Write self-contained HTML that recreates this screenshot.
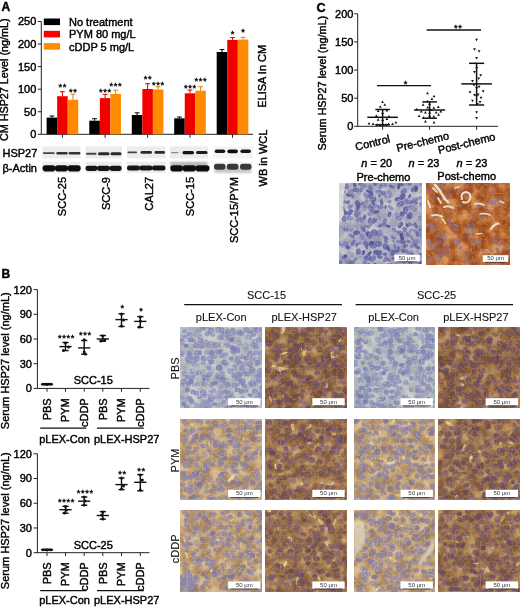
<!DOCTYPE html>
<html><head><meta charset="utf-8"><title>HSP27 figure</title>
<style>
html,body{margin:0;padding:0;background:#fff;}
body{width:520px;height:607px;overflow:hidden;}
svg{display:block;font-family:'Liberation Sans', Arial, sans-serif;}
text{stroke:#000;stroke-width:0.42px;fill:#000;}
text.l{stroke-width:0.1px;fill:#111;stroke:#111;}
text.n{stroke:none;fill:#333;}
text.st{stroke-width:0.35px;}
</style></head><body>
<svg width="520" height="607" viewBox="0 0 520 607" fill="#111">
<defs><filter id="bb" x="-20%" y="-50%" width="140%" height="200%"><feGaussianBlur stdDeviation="0.55"/></filter><filter id="bb2" x="-20%" y="-50%" width="140%" height="200%"><feGaussianBlur stdDeviation="0.9"/></filter><filter id="soft" x="-5%" y="-5%" width="110%" height="110%"><feGaussianBlur stdDeviation="0.6"/></filter><filter id="soft2" x="-5%" y="-5%" width="110%" height="110%"><feGaussianBlur stdDeviation="0.85"/></filter><filter id="bg1" filterUnits="userSpaceOnUse" x="180" y="327" width="82" height="81" color-interpolation-filters="sRGB"><feTurbulence type="fractalNoise" baseFrequency="0.09" numOctaves="3" seed="1"/><feColorMatrix type="matrix" values="1 0 0 0 0 1 0 0 0 0 1 0 0 0 0 0 0 0 0 1"/><feComponentTransfer><feFuncR type="table" tableValues="0.604 0.608 0.612 0.616 0.620 0.624 0.627 0.631 0.635 0.639 0.643 0.647 0.651 0.658 0.664 0.671 0.677 0.684 0.694 0.704 0.714 0.724 0.733 0.743 0.754 0.764 0.775 0.786 0.794 0.798 0.803 0.807 0.812 0.816 0.820 0.825 0.829 0.834 0.838 0.843 0.847"/><feFuncG type="table" tableValues="0.620 0.624 0.627 0.631 0.635 0.639 0.643 0.647 0.651 0.655 0.659 0.663 0.667 0.673 0.680 0.686 0.693 0.700 0.710 0.720 0.729 0.739 0.749 0.759 0.769 0.780 0.791 0.801 0.810 0.814 0.818 0.823 0.827 0.832 0.836 0.841 0.845 0.849 0.854 0.858 0.863"/><feFuncB type="table" tableValues="0.675 0.677 0.680 0.682 0.685 0.688 0.690 0.693 0.695 0.698 0.701 0.703 0.706 0.709 0.712 0.716 0.719 0.723 0.727 0.732 0.737 0.742 0.747 0.752 0.759 0.766 0.773 0.780 0.786 0.790 0.793 0.797 0.801 0.805 0.809 0.812 0.816 0.820 0.824 0.828 0.831"/></feComponentTransfer></filter><clipPath id="cp1"><rect x="180.0" y="327.0" width="82.0" height="81.0"/></clipPath><filter id="mem1" filterUnits="userSpaceOnUse" x="180" y="327" width="82" height="81" color-interpolation-filters="sRGB"><feTurbulence type="turbulence" baseFrequency="0.16" numOctaves="2" seed="51"/><feColorMatrix type="matrix" values="0 0 0 0 0.831 0 0 0 0 0.847 0 0 0 0 0.816 -3.0 0 0 0 0.55"/></filter><filter id="bg2" filterUnits="userSpaceOnUse" x="265.8" y="327" width="80.39999999999998" height="81" color-interpolation-filters="sRGB"><feTurbulence type="fractalNoise" baseFrequency="0.09" numOctaves="3" seed="2"/><feColorMatrix type="matrix" values="1 0 0 0 0 1 0 0 0 0 1 0 0 0 0 0 0 0 0 1"/><feComponentTransfer><feFuncR type="table" tableValues="0.408 0.413 0.418 0.424 0.429 0.434 0.439 0.444 0.450 0.455 0.460 0.465 0.471 0.482 0.493 0.505 0.516 0.528 0.543 0.558 0.573 0.587 0.602 0.617 0.635 0.655 0.675 0.694 0.709 0.718 0.727 0.736 0.745 0.754 0.763 0.771 0.780 0.789 0.798 0.807 0.816"/><feFuncG type="table" tableValues="0.275 0.278 0.282 0.286 0.290 0.294 0.298 0.302 0.306 0.310 0.314 0.318 0.322 0.331 0.341 0.351 0.361 0.371 0.383 0.396 0.408 0.423 0.437 0.452 0.472 0.493 0.515 0.536 0.554 0.567 0.579 0.592 0.605 0.617 0.630 0.643 0.655 0.668 0.681 0.693 0.706"/><feFuncB type="table" tableValues="0.204 0.205 0.207 0.208 0.209 0.210 0.212 0.213 0.214 0.216 0.217 0.218 0.220 0.225 0.229 0.234 0.239 0.245 0.252 0.259 0.267 0.276 0.286 0.296 0.312 0.330 0.348 0.366 0.382 0.394 0.407 0.419 0.432 0.445 0.457 0.470 0.483 0.495 0.508 0.521 0.533"/></feComponentTransfer></filter><clipPath id="cp2"><rect x="265.8" y="327.0" width="80.4" height="81.0"/></clipPath><filter id="mem2" filterUnits="userSpaceOnUse" x="265.8" y="327" width="80.39999999999998" height="81" color-interpolation-filters="sRGB"><feTurbulence type="turbulence" baseFrequency="0.16" numOctaves="2" seed="52"/><feColorMatrix type="matrix" values="0 0 0 0 0.784 0 0 0 0 0.565 0 0 0 0 0.314 -3.0 0 0 0 0.6"/></filter><filter id="bg3" filterUnits="userSpaceOnUse" x="354" y="327" width="80.39999999999998" height="81" color-interpolation-filters="sRGB"><feTurbulence type="fractalNoise" baseFrequency="0.09" numOctaves="3" seed="3"/><feColorMatrix type="matrix" values="1 0 0 0 0 1 0 0 0 0 1 0 0 0 0 0 0 0 0 1"/><feComponentTransfer><feFuncR type="table" tableValues="0.604 0.608 0.612 0.616 0.620 0.624 0.627 0.631 0.635 0.639 0.643 0.647 0.651 0.658 0.664 0.671 0.677 0.684 0.694 0.704 0.714 0.724 0.733 0.743 0.754 0.764 0.775 0.786 0.794 0.798 0.803 0.807 0.812 0.816 0.820 0.825 0.829 0.834 0.838 0.843 0.847"/><feFuncG type="table" tableValues="0.620 0.624 0.627 0.631 0.635 0.639 0.643 0.647 0.651 0.655 0.659 0.663 0.667 0.673 0.680 0.686 0.693 0.700 0.710 0.720 0.729 0.739 0.749 0.759 0.769 0.780 0.791 0.801 0.810 0.814 0.818 0.823 0.827 0.832 0.836 0.841 0.845 0.849 0.854 0.858 0.863"/><feFuncB type="table" tableValues="0.675 0.677 0.680 0.682 0.685 0.688 0.690 0.693 0.695 0.698 0.701 0.703 0.706 0.709 0.712 0.716 0.719 0.723 0.727 0.732 0.737 0.742 0.747 0.752 0.759 0.766 0.773 0.780 0.786 0.790 0.793 0.797 0.801 0.805 0.809 0.812 0.816 0.820 0.824 0.828 0.831"/></feComponentTransfer></filter><clipPath id="cp3"><rect x="354.0" y="327.0" width="80.4" height="81.0"/></clipPath><filter id="mem3" filterUnits="userSpaceOnUse" x="354" y="327" width="80.39999999999998" height="81" color-interpolation-filters="sRGB"><feTurbulence type="turbulence" baseFrequency="0.16" numOctaves="2" seed="53"/><feColorMatrix type="matrix" values="0 0 0 0 0.831 0 0 0 0 0.847 0 0 0 0 0.816 -3.0 0 0 0 0.55"/></filter><filter id="bg4" filterUnits="userSpaceOnUse" x="438.3" y="327" width="81.19999999999999" height="81" color-interpolation-filters="sRGB"><feTurbulence type="fractalNoise" baseFrequency="0.09" numOctaves="3" seed="4"/><feColorMatrix type="matrix" values="1 0 0 0 0 1 0 0 0 0 1 0 0 0 0 0 0 0 0 1"/><feComponentTransfer><feFuncR type="table" tableValues="0.408 0.413 0.418 0.424 0.429 0.434 0.439 0.444 0.450 0.455 0.460 0.465 0.471 0.482 0.493 0.505 0.516 0.528 0.543 0.558 0.573 0.587 0.602 0.617 0.635 0.655 0.675 0.694 0.709 0.718 0.727 0.736 0.745 0.754 0.763 0.771 0.780 0.789 0.798 0.807 0.816"/><feFuncG type="table" tableValues="0.275 0.278 0.282 0.286 0.290 0.294 0.298 0.302 0.306 0.310 0.314 0.318 0.322 0.331 0.341 0.351 0.361 0.371 0.383 0.396 0.408 0.423 0.437 0.452 0.472 0.493 0.515 0.536 0.554 0.567 0.579 0.592 0.605 0.617 0.630 0.643 0.655 0.668 0.681 0.693 0.706"/><feFuncB type="table" tableValues="0.204 0.205 0.207 0.208 0.209 0.210 0.212 0.213 0.214 0.216 0.217 0.218 0.220 0.225 0.229 0.234 0.239 0.245 0.252 0.259 0.267 0.276 0.286 0.296 0.312 0.330 0.348 0.366 0.382 0.394 0.407 0.419 0.432 0.445 0.457 0.470 0.483 0.495 0.508 0.521 0.533"/></feComponentTransfer></filter><clipPath id="cp4"><rect x="438.3" y="327.0" width="81.2" height="81.0"/></clipPath><filter id="mem4" filterUnits="userSpaceOnUse" x="438.3" y="327" width="81.19999999999999" height="81" color-interpolation-filters="sRGB"><feTurbulence type="turbulence" baseFrequency="0.16" numOctaves="2" seed="54"/><feColorMatrix type="matrix" values="0 0 0 0 0.784 0 0 0 0 0.565 0 0 0 0 0.314 -3.0 0 0 0 0.6"/></filter><filter id="bg5" filterUnits="userSpaceOnUse" x="180" y="419.2" width="82" height="80.40000000000003" color-interpolation-filters="sRGB"><feTurbulence type="fractalNoise" baseFrequency="0.09" numOctaves="3" seed="5"/><feColorMatrix type="matrix" values="1 0 0 0 0 1 0 0 0 0 1 0 0 0 0 0 0 0 0 1"/><feComponentTransfer><feFuncR type="table" tableValues="0.612 0.616 0.620 0.624 0.627 0.631 0.635 0.639 0.643 0.647 0.651 0.655 0.659 0.669 0.678 0.688 0.698 0.708 0.721 0.733 0.745 0.757 0.770 0.782 0.793 0.804 0.814 0.825 0.833 0.838 0.844 0.849 0.854 0.859 0.864 0.869 0.874 0.879 0.884 0.889 0.894"/><feFuncG type="table" tableValues="0.478 0.482 0.486 0.490 0.494 0.498 0.502 0.506 0.510 0.514 0.518 0.522 0.525 0.535 0.545 0.555 0.565 0.575 0.587 0.600 0.612 0.626 0.641 0.656 0.670 0.684 0.699 0.713 0.725 0.732 0.740 0.747 0.755 0.763 0.770 0.778 0.785 0.793 0.801 0.808 0.816"/><feFuncB type="table" tableValues="0.353 0.356 0.358 0.361 0.363 0.366 0.369 0.371 0.374 0.376 0.379 0.382 0.384 0.391 0.397 0.404 0.410 0.418 0.427 0.437 0.447 0.457 0.467 0.476 0.490 0.504 0.518 0.533 0.545 0.555 0.565 0.576 0.586 0.596 0.606 0.616 0.626 0.636 0.646 0.657 0.667"/></feComponentTransfer></filter><clipPath id="cp5"><rect x="180.0" y="419.2" width="82.0" height="80.4"/></clipPath><filter id="mem5" filterUnits="userSpaceOnUse" x="180" y="419.2" width="82" height="80.40000000000003" color-interpolation-filters="sRGB"><feTurbulence type="turbulence" baseFrequency="0.16" numOctaves="2" seed="55"/><feColorMatrix type="matrix" values="0 0 0 0 0.878 0 0 0 0 0.753 0 0 0 0 0.533 -3.0 0 0 0 0.6"/></filter><filter id="bg6" filterUnits="userSpaceOnUse" x="265.8" y="419.2" width="80.39999999999998" height="80.40000000000003" color-interpolation-filters="sRGB"><feTurbulence type="fractalNoise" baseFrequency="0.09" numOctaves="3" seed="6"/><feColorMatrix type="matrix" values="1 0 0 0 0 1 0 0 0 0 1 0 0 0 0 0 0 0 0 1"/><feComponentTransfer><feFuncR type="table" tableValues="0.447 0.452 0.458 0.463 0.468 0.473 0.478 0.484 0.489 0.494 0.499 0.505 0.510 0.521 0.533 0.544 0.556 0.568 0.582 0.597 0.612 0.626 0.641 0.656 0.673 0.691 0.709 0.727 0.741 0.750 0.759 0.767 0.776 0.785 0.794 0.803 0.812 0.820 0.829 0.838 0.847"/><feFuncG type="table" tableValues="0.314 0.318 0.322 0.325 0.329 0.333 0.337 0.341 0.345 0.349 0.353 0.357 0.361 0.371 0.380 0.390 0.400 0.411 0.425 0.440 0.455 0.470 0.484 0.499 0.519 0.540 0.562 0.583 0.601 0.612 0.623 0.635 0.646 0.658 0.669 0.680 0.692 0.703 0.714 0.726 0.737"/><feFuncB type="table" tableValues="0.235 0.237 0.238 0.239 0.241 0.242 0.243 0.244 0.246 0.247 0.248 0.250 0.251 0.256 0.261 0.266 0.271 0.276 0.283 0.291 0.298 0.308 0.318 0.327 0.342 0.358 0.374 0.390 0.405 0.417 0.429 0.441 0.453 0.465 0.477 0.489 0.501 0.513 0.525 0.537 0.549"/></feComponentTransfer></filter><clipPath id="cp6"><rect x="265.8" y="419.2" width="80.4" height="80.4"/></clipPath><filter id="mem6" filterUnits="userSpaceOnUse" x="265.8" y="419.2" width="80.39999999999998" height="80.40000000000003" color-interpolation-filters="sRGB"><feTurbulence type="turbulence" baseFrequency="0.16" numOctaves="2" seed="56"/><feColorMatrix type="matrix" values="0 0 0 0 0.784 0 0 0 0 0.565 0 0 0 0 0.314 -3.0 0 0 0 0.6"/></filter><filter id="bg7" filterUnits="userSpaceOnUse" x="354" y="419.2" width="80.39999999999998" height="80.40000000000003" color-interpolation-filters="sRGB"><feTurbulence type="fractalNoise" baseFrequency="0.09" numOctaves="3" seed="7"/><feColorMatrix type="matrix" values="1 0 0 0 0 1 0 0 0 0 1 0 0 0 0 0 0 0 0 1"/><feComponentTransfer><feFuncR type="table" tableValues="0.612 0.616 0.620 0.624 0.627 0.631 0.635 0.639 0.643 0.647 0.651 0.655 0.659 0.669 0.678 0.688 0.698 0.708 0.721 0.733 0.745 0.757 0.770 0.782 0.793 0.804 0.814 0.825 0.833 0.838 0.844 0.849 0.854 0.859 0.864 0.869 0.874 0.879 0.884 0.889 0.894"/><feFuncG type="table" tableValues="0.478 0.482 0.486 0.490 0.494 0.498 0.502 0.506 0.510 0.514 0.518 0.522 0.525 0.535 0.545 0.555 0.565 0.575 0.587 0.600 0.612 0.626 0.641 0.656 0.670 0.684 0.699 0.713 0.725 0.732 0.740 0.747 0.755 0.763 0.770 0.778 0.785 0.793 0.801 0.808 0.816"/><feFuncB type="table" tableValues="0.353 0.356 0.358 0.361 0.363 0.366 0.369 0.371 0.374 0.376 0.379 0.382 0.384 0.391 0.397 0.404 0.410 0.418 0.427 0.437 0.447 0.457 0.467 0.476 0.490 0.504 0.518 0.533 0.545 0.555 0.565 0.576 0.586 0.596 0.606 0.616 0.626 0.636 0.646 0.657 0.667"/></feComponentTransfer></filter><clipPath id="cp7"><rect x="354.0" y="419.2" width="80.4" height="80.4"/></clipPath><filter id="mem7" filterUnits="userSpaceOnUse" x="354" y="419.2" width="80.39999999999998" height="80.40000000000003" color-interpolation-filters="sRGB"><feTurbulence type="turbulence" baseFrequency="0.16" numOctaves="2" seed="57"/><feColorMatrix type="matrix" values="0 0 0 0 0.878 0 0 0 0 0.753 0 0 0 0 0.533 -3.0 0 0 0 0.6"/></filter><filter id="bg8" filterUnits="userSpaceOnUse" x="438.3" y="419.2" width="81.19999999999999" height="80.40000000000003" color-interpolation-filters="sRGB"><feTurbulence type="fractalNoise" baseFrequency="0.09" numOctaves="3" seed="8"/><feColorMatrix type="matrix" values="1 0 0 0 0 1 0 0 0 0 1 0 0 0 0 0 0 0 0 1"/><feComponentTransfer><feFuncR type="table" tableValues="0.447 0.452 0.458 0.463 0.468 0.473 0.478 0.484 0.489 0.494 0.499 0.505 0.510 0.521 0.533 0.544 0.556 0.568 0.582 0.597 0.612 0.626 0.641 0.656 0.673 0.691 0.709 0.727 0.741 0.750 0.759 0.767 0.776 0.785 0.794 0.803 0.812 0.820 0.829 0.838 0.847"/><feFuncG type="table" tableValues="0.314 0.318 0.322 0.325 0.329 0.333 0.337 0.341 0.345 0.349 0.353 0.357 0.361 0.371 0.380 0.390 0.400 0.411 0.425 0.440 0.455 0.470 0.484 0.499 0.519 0.540 0.562 0.583 0.601 0.612 0.623 0.635 0.646 0.658 0.669 0.680 0.692 0.703 0.714 0.726 0.737"/><feFuncB type="table" tableValues="0.235 0.237 0.238 0.239 0.241 0.242 0.243 0.244 0.246 0.247 0.248 0.250 0.251 0.256 0.261 0.266 0.271 0.276 0.283 0.291 0.298 0.308 0.318 0.327 0.342 0.358 0.374 0.390 0.405 0.417 0.429 0.441 0.453 0.465 0.477 0.489 0.501 0.513 0.525 0.537 0.549"/></feComponentTransfer></filter><clipPath id="cp8"><rect x="438.3" y="419.2" width="81.2" height="80.4"/></clipPath><filter id="mem8" filterUnits="userSpaceOnUse" x="438.3" y="419.2" width="81.19999999999999" height="80.40000000000003" color-interpolation-filters="sRGB"><feTurbulence type="turbulence" baseFrequency="0.16" numOctaves="2" seed="58"/><feColorMatrix type="matrix" values="0 0 0 0 0.784 0 0 0 0 0.565 0 0 0 0 0.314 -3.0 0 0 0 0.6"/></filter><filter id="bg9" filterUnits="userSpaceOnUse" x="180" y="510.2" width="82" height="81.00000000000006" color-interpolation-filters="sRGB"><feTurbulence type="fractalNoise" baseFrequency="0.09" numOctaves="3" seed="9"/><feColorMatrix type="matrix" values="1 0 0 0 0 1 0 0 0 0 1 0 0 0 0 0 0 0 0 1"/><feComponentTransfer><feFuncR type="table" tableValues="0.612 0.616 0.620 0.624 0.627 0.631 0.635 0.639 0.643 0.647 0.651 0.655 0.659 0.669 0.678 0.688 0.698 0.708 0.721 0.733 0.745 0.757 0.770 0.782 0.793 0.804 0.814 0.825 0.833 0.838 0.844 0.849 0.854 0.859 0.864 0.869 0.874 0.879 0.884 0.889 0.894"/><feFuncG type="table" tableValues="0.478 0.482 0.486 0.490 0.494 0.498 0.502 0.506 0.510 0.514 0.518 0.522 0.525 0.535 0.545 0.555 0.565 0.575 0.587 0.600 0.612 0.626 0.641 0.656 0.670 0.684 0.699 0.713 0.725 0.732 0.740 0.747 0.755 0.763 0.770 0.778 0.785 0.793 0.801 0.808 0.816"/><feFuncB type="table" tableValues="0.353 0.356 0.358 0.361 0.363 0.366 0.369 0.371 0.374 0.376 0.379 0.382 0.384 0.391 0.397 0.404 0.410 0.418 0.427 0.437 0.447 0.457 0.467 0.476 0.490 0.504 0.518 0.533 0.545 0.555 0.565 0.576 0.586 0.596 0.606 0.616 0.626 0.636 0.646 0.657 0.667"/></feComponentTransfer></filter><clipPath id="cp9"><rect x="180.0" y="510.2" width="82.0" height="81.0"/></clipPath><filter id="mem9" filterUnits="userSpaceOnUse" x="180" y="510.2" width="82" height="81.00000000000006" color-interpolation-filters="sRGB"><feTurbulence type="turbulence" baseFrequency="0.16" numOctaves="2" seed="59"/><feColorMatrix type="matrix" values="0 0 0 0 0.878 0 0 0 0 0.753 0 0 0 0 0.533 -3.0 0 0 0 0.6"/></filter><filter id="bg10" filterUnits="userSpaceOnUse" x="265.8" y="510.2" width="80.39999999999998" height="81.00000000000006" color-interpolation-filters="sRGB"><feTurbulence type="fractalNoise" baseFrequency="0.09" numOctaves="3" seed="10"/><feColorMatrix type="matrix" values="1 0 0 0 0 1 0 0 0 0 1 0 0 0 0 0 0 0 0 1"/><feComponentTransfer><feFuncR type="table" tableValues="0.447 0.452 0.458 0.463 0.468 0.473 0.478 0.484 0.489 0.494 0.499 0.505 0.510 0.521 0.533 0.544 0.556 0.568 0.582 0.597 0.612 0.626 0.641 0.656 0.673 0.691 0.709 0.727 0.741 0.750 0.759 0.767 0.776 0.785 0.794 0.803 0.812 0.820 0.829 0.838 0.847"/><feFuncG type="table" tableValues="0.314 0.318 0.322 0.325 0.329 0.333 0.337 0.341 0.345 0.349 0.353 0.357 0.361 0.371 0.380 0.390 0.400 0.411 0.425 0.440 0.455 0.470 0.484 0.499 0.519 0.540 0.562 0.583 0.601 0.612 0.623 0.635 0.646 0.658 0.669 0.680 0.692 0.703 0.714 0.726 0.737"/><feFuncB type="table" tableValues="0.235 0.237 0.238 0.239 0.241 0.242 0.243 0.244 0.246 0.247 0.248 0.250 0.251 0.256 0.261 0.266 0.271 0.276 0.283 0.291 0.298 0.308 0.318 0.327 0.342 0.358 0.374 0.390 0.405 0.417 0.429 0.441 0.453 0.465 0.477 0.489 0.501 0.513 0.525 0.537 0.549"/></feComponentTransfer></filter><clipPath id="cp10"><rect x="265.8" y="510.2" width="80.4" height="81.0"/></clipPath><filter id="mem10" filterUnits="userSpaceOnUse" x="265.8" y="510.2" width="80.39999999999998" height="81.00000000000006" color-interpolation-filters="sRGB"><feTurbulence type="turbulence" baseFrequency="0.16" numOctaves="2" seed="60"/><feColorMatrix type="matrix" values="0 0 0 0 0.784 0 0 0 0 0.565 0 0 0 0 0.314 -3.0 0 0 0 0.6"/></filter><filter id="bg11" filterUnits="userSpaceOnUse" x="354" y="510.2" width="80.39999999999998" height="81.00000000000006" color-interpolation-filters="sRGB"><feTurbulence type="fractalNoise" baseFrequency="0.09" numOctaves="3" seed="11"/><feColorMatrix type="matrix" values="1 0 0 0 0 1 0 0 0 0 1 0 0 0 0 0 0 0 0 1"/><feComponentTransfer><feFuncR type="table" tableValues="0.612 0.616 0.620 0.624 0.627 0.631 0.635 0.639 0.643 0.647 0.651 0.655 0.659 0.669 0.678 0.688 0.698 0.708 0.721 0.733 0.745 0.757 0.770 0.782 0.793 0.804 0.814 0.825 0.833 0.838 0.844 0.849 0.854 0.859 0.864 0.869 0.874 0.879 0.884 0.889 0.894"/><feFuncG type="table" tableValues="0.478 0.482 0.486 0.490 0.494 0.498 0.502 0.506 0.510 0.514 0.518 0.522 0.525 0.535 0.545 0.555 0.565 0.575 0.587 0.600 0.612 0.626 0.641 0.656 0.670 0.684 0.699 0.713 0.725 0.732 0.740 0.747 0.755 0.763 0.770 0.778 0.785 0.793 0.801 0.808 0.816"/><feFuncB type="table" tableValues="0.353 0.356 0.358 0.361 0.363 0.366 0.369 0.371 0.374 0.376 0.379 0.382 0.384 0.391 0.397 0.404 0.410 0.418 0.427 0.437 0.447 0.457 0.467 0.476 0.490 0.504 0.518 0.533 0.545 0.555 0.565 0.576 0.586 0.596 0.606 0.616 0.626 0.636 0.646 0.657 0.667"/></feComponentTransfer></filter><clipPath id="cp11"><rect x="354.0" y="510.2" width="80.4" height="81.0"/></clipPath><filter id="mem11" filterUnits="userSpaceOnUse" x="354" y="510.2" width="80.39999999999998" height="81.00000000000006" color-interpolation-filters="sRGB"><feTurbulence type="turbulence" baseFrequency="0.16" numOctaves="2" seed="61"/><feColorMatrix type="matrix" values="0 0 0 0 0.878 0 0 0 0 0.753 0 0 0 0 0.533 -3.0 0 0 0 0.6"/></filter><filter id="bg12" filterUnits="userSpaceOnUse" x="438.3" y="510.2" width="81.19999999999999" height="81.00000000000006" color-interpolation-filters="sRGB"><feTurbulence type="fractalNoise" baseFrequency="0.09" numOctaves="3" seed="12"/><feColorMatrix type="matrix" values="1 0 0 0 0 1 0 0 0 0 1 0 0 0 0 0 0 0 0 1"/><feComponentTransfer><feFuncR type="table" tableValues="0.447 0.452 0.458 0.463 0.468 0.473 0.478 0.484 0.489 0.494 0.499 0.505 0.510 0.521 0.533 0.544 0.556 0.568 0.582 0.597 0.612 0.626 0.641 0.656 0.673 0.691 0.709 0.727 0.741 0.750 0.759 0.767 0.776 0.785 0.794 0.803 0.812 0.820 0.829 0.838 0.847"/><feFuncG type="table" tableValues="0.314 0.318 0.322 0.325 0.329 0.333 0.337 0.341 0.345 0.349 0.353 0.357 0.361 0.371 0.380 0.390 0.400 0.411 0.425 0.440 0.455 0.470 0.484 0.499 0.519 0.540 0.562 0.583 0.601 0.612 0.623 0.635 0.646 0.658 0.669 0.680 0.692 0.703 0.714 0.726 0.737"/><feFuncB type="table" tableValues="0.235 0.237 0.238 0.239 0.241 0.242 0.243 0.244 0.246 0.247 0.248 0.250 0.251 0.256 0.261 0.266 0.271 0.276 0.283 0.291 0.298 0.308 0.318 0.327 0.342 0.358 0.374 0.390 0.405 0.417 0.429 0.441 0.453 0.465 0.477 0.489 0.501 0.513 0.525 0.537 0.549"/></feComponentTransfer></filter><clipPath id="cp12"><rect x="438.3" y="510.2" width="81.2" height="81.0"/></clipPath><filter id="mem12" filterUnits="userSpaceOnUse" x="438.3" y="510.2" width="81.19999999999999" height="81.00000000000006" color-interpolation-filters="sRGB"><feTurbulence type="turbulence" baseFrequency="0.16" numOctaves="2" seed="62"/><feColorMatrix type="matrix" values="0 0 0 0 0.784 0 0 0 0 0.565 0 0 0 0 0.314 -3.0 0 0 0 0.6"/></filter><filter id="bg100" filterUnits="userSpaceOnUse" x="339" y="183" width="82.3" height="81" color-interpolation-filters="sRGB"><feTurbulence type="fractalNoise" baseFrequency="0.09" numOctaves="3" seed="100"/><feColorMatrix type="matrix" values="1 0 0 0 0 1 0 0 0 0 1 0 0 0 0 0 0 0 0 1"/><feComponentTransfer><feFuncR type="table" tableValues="0.557 0.561 0.565 0.569 0.573 0.576 0.580 0.584 0.588 0.592 0.596 0.600 0.604 0.612 0.620 0.628 0.637 0.645 0.655 0.665 0.675 0.684 0.694 0.704 0.717 0.732 0.746 0.760 0.771 0.777 0.784 0.790 0.796 0.803 0.809 0.815 0.822 0.828 0.834 0.841 0.847"/><feFuncG type="table" tableValues="0.557 0.561 0.565 0.569 0.573 0.576 0.580 0.584 0.588 0.592 0.596 0.600 0.604 0.612 0.620 0.628 0.637 0.645 0.655 0.665 0.675 0.684 0.694 0.704 0.717 0.732 0.746 0.760 0.771 0.778 0.785 0.792 0.799 0.806 0.813 0.820 0.827 0.834 0.841 0.848 0.855"/><feFuncB type="table" tableValues="0.659 0.662 0.665 0.669 0.672 0.675 0.678 0.682 0.685 0.688 0.692 0.695 0.698 0.705 0.711 0.718 0.724 0.730 0.735 0.740 0.745 0.750 0.755 0.760 0.765 0.770 0.776 0.781 0.786 0.791 0.796 0.802 0.807 0.812 0.817 0.822 0.827 0.832 0.837 0.842 0.847"/></feComponentTransfer></filter><clipPath id="cp100"><rect x="339.0" y="183.0" width="82.3" height="81.0"/></clipPath><filter id="mem100" filterUnits="userSpaceOnUse" x="339" y="183" width="82.3" height="81" color-interpolation-filters="sRGB"><feTurbulence type="turbulence" baseFrequency="0.16" numOctaves="2" seed="150"/><feColorMatrix type="matrix" values="0 0 0 0 0.784 0 0 0 0 0.800 0 0 0 0 0.816 -3.0 0 0 0 0.5"/></filter><filter id="bg101" filterUnits="userSpaceOnUse" x="426.8" y="183" width="83" height="81.5" color-interpolation-filters="sRGB"><feTurbulence type="fractalNoise" baseFrequency="0.09" numOctaves="3" seed="101"/><feColorMatrix type="matrix" values="1 0 0 0 0 1 0 0 0 0 1 0 0 0 0 0 0 0 0 1"/><feComponentTransfer><feFuncR type="table" tableValues="0.557 0.561 0.566 0.571 0.575 0.580 0.584 0.589 0.593 0.598 0.603 0.607 0.612 0.623 0.635 0.646 0.658 0.669 0.681 0.694 0.706 0.718 0.730 0.743 0.758 0.774 0.790 0.806 0.818 0.825 0.831 0.837 0.844 0.850 0.856 0.862 0.869 0.875 0.881 0.888 0.894"/><feFuncG type="table" tableValues="0.251 0.254 0.258 0.261 0.264 0.267 0.271 0.274 0.277 0.280 0.284 0.287 0.290 0.302 0.313 0.325 0.336 0.348 0.363 0.377 0.392 0.409 0.426 0.444 0.466 0.489 0.512 0.535 0.554 0.567 0.579 0.592 0.605 0.617 0.630 0.643 0.655 0.668 0.681 0.693 0.706"/><feFuncB type="table" tableValues="0.102 0.104 0.106 0.108 0.110 0.112 0.114 0.116 0.118 0.120 0.122 0.124 0.125 0.132 0.139 0.145 0.152 0.159 0.169 0.178 0.188 0.200 0.213 0.225 0.246 0.269 0.292 0.316 0.335 0.349 0.363 0.377 0.391 0.405 0.418 0.432 0.446 0.460 0.474 0.488 0.502"/></feComponentTransfer></filter><clipPath id="cp101"><rect x="426.8" y="183.0" width="83.0" height="81.5"/></clipPath><filter id="mem101" filterUnits="userSpaceOnUse" x="426.8" y="183" width="83" height="81.5" color-interpolation-filters="sRGB"><feTurbulence type="turbulence" baseFrequency="0.16" numOctaves="2" seed="151"/><feColorMatrix type="matrix" values="0 0 0 0 0.878 0 0 0 0 0.690 0 0 0 0 0.439 -3.0 0 0 0 0.45"/></filter></defs>
<text x="1.60" y="11.40" font-size="12" font-weight="bold">A</text><line x1="41.30" y1="21.50" x2="41.30" y2="134.80" stroke="#222" stroke-width="1"/><line x1="37.80" y1="134.30" x2="41.30" y2="134.30" stroke="#222" stroke-width="1"/><text x="36.30" y="138.20" font-size="11" text-anchor="end">0</text><line x1="37.80" y1="111.74" x2="41.30" y2="111.74" stroke="#222" stroke-width="1"/><text x="36.30" y="115.64" font-size="11" text-anchor="end">50</text><line x1="37.80" y1="89.18" x2="41.30" y2="89.18" stroke="#222" stroke-width="1"/><text x="36.30" y="93.08" font-size="11" text-anchor="end">100</text><line x1="37.80" y1="66.62" x2="41.30" y2="66.62" stroke="#222" stroke-width="1"/><text x="36.30" y="70.52" font-size="11" text-anchor="end">150</text><line x1="37.80" y1="44.06" x2="41.30" y2="44.06" stroke="#222" stroke-width="1"/><text x="36.30" y="47.96" font-size="11" text-anchor="end">200</text><line x1="37.80" y1="21.50" x2="41.30" y2="21.50" stroke="#222" stroke-width="1"/><text x="36.30" y="25.40" font-size="11" text-anchor="end">250</text><line x1="41.30" y1="134.30" x2="253.00" y2="134.30" stroke="#222" stroke-width="1"/><text transform="translate(8.30,141.00) rotate(-90)" font-size="10.75">CM HSP27 Level (ng/mL)</text><rect x="43.80" y="18.50" width="16.20" height="6.60" fill="#000"/><text x="69.00" y="26.00" font-size="11">No treatment</text><rect x="43.80" y="30.80" width="16.20" height="6.60" fill="#f00"/><text x="69.00" y="38.30" font-size="11">PYM 80 mg/L</text><rect x="43.80" y="43.10" width="16.20" height="6.60" fill="#ff8c00"/><text x="69.00" y="50.60" font-size="11">cDDP 5 mg/L</text><rect x="46.60" y="117.60" width="10.55" height="16.70" fill="#000"/><line x1="51.88" y1="116.00" x2="51.88" y2="117.60" stroke="#000" stroke-width="1"/><line x1="49.48" y1="116.00" x2="54.27" y2="116.00" stroke="#000" stroke-width="1"/><rect x="57.15" y="96.20" width="10.55" height="38.10" fill="#f20000"/><line x1="62.43" y1="91.70" x2="62.43" y2="96.20" stroke="#c00" stroke-width="1"/><line x1="60.03" y1="91.70" x2="64.83" y2="91.70" stroke="#c00" stroke-width="1"/><rect x="67.70" y="99.80" width="10.55" height="34.50" fill="#ff8a00"/><line x1="72.98" y1="94.20" x2="72.98" y2="99.80" stroke="#e08000" stroke-width="1"/><line x1="70.58" y1="94.20" x2="75.38" y2="94.20" stroke="#e08000" stroke-width="1"/><text class="st" x="62.73" y="90.05" font-size="9.4" text-anchor="middle" letter-spacing="0.6">**</text><text class="st" x="73.27" y="95.25" font-size="9.4" text-anchor="middle" letter-spacing="0.6">**</text><line x1="62.43" y1="134.30" x2="62.43" y2="137.80" stroke="#222" stroke-width="1"/><rect x="89.30" y="120.70" width="10.55" height="13.60" fill="#000"/><line x1="94.58" y1="118.70" x2="94.58" y2="120.70" stroke="#000" stroke-width="1"/><line x1="92.17" y1="118.70" x2="96.98" y2="118.70" stroke="#000" stroke-width="1"/><rect x="99.85" y="98.10" width="10.55" height="36.20" fill="#f20000"/><line x1="105.12" y1="94.40" x2="105.12" y2="98.10" stroke="#c00" stroke-width="1"/><line x1="102.72" y1="94.40" x2="107.53" y2="94.40" stroke="#c00" stroke-width="1"/><rect x="110.40" y="94.00" width="10.55" height="40.30" fill="#ff8a00"/><line x1="115.68" y1="90.20" x2="115.68" y2="94.00" stroke="#e08000" stroke-width="1"/><line x1="113.28" y1="90.20" x2="118.08" y2="90.20" stroke="#e08000" stroke-width="1"/><text class="st" x="105.42" y="94.65" font-size="9.4" text-anchor="middle" letter-spacing="0.6">***</text><text class="st" x="115.97" y="88.55" font-size="9.4" text-anchor="middle" letter-spacing="0.6">***</text><line x1="105.12" y1="134.30" x2="105.12" y2="137.80" stroke="#222" stroke-width="1"/><rect x="131.80" y="115.00" width="10.55" height="19.30" fill="#000"/><line x1="137.08" y1="112.80" x2="137.08" y2="115.00" stroke="#000" stroke-width="1"/><line x1="134.68" y1="112.80" x2="139.48" y2="112.80" stroke="#000" stroke-width="1"/><rect x="142.35" y="89.00" width="10.55" height="45.30" fill="#f20000"/><line x1="147.63" y1="83.70" x2="147.63" y2="89.00" stroke="#c00" stroke-width="1"/><line x1="145.23" y1="83.70" x2="150.03" y2="83.70" stroke="#c00" stroke-width="1"/><rect x="152.90" y="89.50" width="10.55" height="44.80" fill="#ff8a00"/><line x1="158.18" y1="86.70" x2="158.18" y2="89.50" stroke="#e08000" stroke-width="1"/><line x1="155.78" y1="86.70" x2="160.58" y2="86.70" stroke="#e08000" stroke-width="1"/><text class="st" x="147.93" y="81.85" font-size="9.4" text-anchor="middle" letter-spacing="0.6">**</text><text class="st" x="158.48" y="87.75" font-size="9.4" text-anchor="middle" letter-spacing="0.6">***</text><line x1="147.62" y1="134.30" x2="147.62" y2="137.80" stroke="#222" stroke-width="1"/><rect x="174.20" y="118.30" width="10.55" height="16.00" fill="#000"/><line x1="179.47" y1="117.00" x2="179.47" y2="118.30" stroke="#000" stroke-width="1"/><line x1="177.07" y1="117.00" x2="181.88" y2="117.00" stroke="#000" stroke-width="1"/><rect x="184.75" y="93.30" width="10.55" height="41.00" fill="#f20000"/><line x1="190.03" y1="90.00" x2="190.03" y2="93.30" stroke="#c00" stroke-width="1"/><line x1="187.62" y1="90.00" x2="192.43" y2="90.00" stroke="#c00" stroke-width="1"/><rect x="195.30" y="90.70" width="10.55" height="43.60" fill="#ff8a00"/><line x1="200.57" y1="86.70" x2="200.57" y2="90.70" stroke="#e08000" stroke-width="1"/><line x1="198.17" y1="86.70" x2="202.97" y2="86.70" stroke="#e08000" stroke-width="1"/><text class="st" x="190.32" y="90.95" font-size="9.4" text-anchor="middle" letter-spacing="0.6">***</text><text class="st" x="200.88" y="83.85" font-size="9.4" text-anchor="middle" letter-spacing="0.6">***</text><line x1="190.02" y1="134.30" x2="190.02" y2="137.80" stroke="#222" stroke-width="1"/><rect x="216.70" y="52.00" width="10.55" height="82.30" fill="#000"/><line x1="221.97" y1="49.60" x2="221.97" y2="52.00" stroke="#000" stroke-width="1"/><line x1="219.57" y1="49.60" x2="224.38" y2="49.60" stroke="#000" stroke-width="1"/><rect x="227.25" y="39.90" width="10.55" height="94.40" fill="#f20000"/><line x1="232.53" y1="37.60" x2="232.53" y2="39.90" stroke="#c00" stroke-width="1"/><line x1="230.12" y1="37.60" x2="234.93" y2="37.60" stroke="#c00" stroke-width="1"/><rect x="237.80" y="39.60" width="10.55" height="94.70" fill="#ff8a00"/><line x1="243.07" y1="37.30" x2="243.07" y2="39.60" stroke="#e08000" stroke-width="1"/><line x1="240.67" y1="37.30" x2="245.47" y2="37.30" stroke="#e08000" stroke-width="1"/><text class="st" x="232.82" y="36.85" font-size="9.4" text-anchor="middle" letter-spacing="0.6">*</text><text class="st" x="243.38" y="35.45" font-size="9.4" text-anchor="middle" letter-spacing="0.6">*</text><line x1="232.52" y1="134.30" x2="232.52" y2="137.80" stroke="#222" stroke-width="1"/><text transform="translate(266.20,76.30) rotate(-90)" font-size="11" text-anchor="middle">ELISA In CM</text><text transform="translate(266.50,158.00) rotate(-90)" font-size="11" text-anchor="middle">WB in WCL</text><text x="2.50" y="157.20" font-size="11">HSP27</text><text x="2.50" y="171.70" font-size="11">β-Actin</text><rect x="42.30" y="146.40" width="38.10" height="12.00" fill="#ececec"/><rect x="42.30" y="161.80" width="38.10" height="11.20" fill="#ececec"/><rect x="42.9" y="152.35" width="11.8" height="1.7" rx="0.8" fill="#444" filter="url(#bb)"/><rect x="56.4" y="151.95" width="11.3" height="2.5" rx="1.2" fill="#333" filter="url(#bb)"/><rect x="68.7" y="151.95" width="11.7" height="2.5" rx="1.2" fill="#333" filter="url(#bb)"/><rect x="42.6" y="165.20" width="12.9" height="6.2" rx="2.8" fill="#111" filter="url(#bb)"/><rect x="55.0" y="165.20" width="13.0" height="6.2" rx="2.8" fill="#111" filter="url(#bb)"/><rect x="67.5" y="165.20" width="13.2" height="6.2" rx="2.8" fill="#111" filter="url(#bb)"/><rect x="85.80" y="146.40" width="36.20" height="12.00" fill="#ececec"/><rect x="85.80" y="161.80" width="36.20" height="11.20" fill="#ececec"/><rect x="86.0" y="152.75" width="10.5" height="1.9" rx="0.9" fill="#444" filter="url(#bb)"/><rect x="98.0" y="152.20" width="11.5" height="3.0" rx="1.5" fill="#2a2a2a" filter="url(#bb)"/><rect x="110.5" y="152.20" width="11.0" height="3.0" rx="1.5" fill="#2a2a2a" filter="url(#bb)"/><rect x="85.5" y="165.70" width="12.0" height="5.2" rx="2.4" fill="#141414" filter="url(#bb)"/><rect x="97.0" y="165.70" width="13.0" height="5.2" rx="2.4" fill="#141414" filter="url(#bb)"/><rect x="109.5" y="165.70" width="12.2" height="5.2" rx="2.4" fill="#141414" filter="url(#bb)"/><rect x="127.00" y="146.40" width="38.60" height="12.00" fill="#ececec"/><rect x="127.00" y="161.80" width="38.60" height="11.20" fill="#ececec"/><rect x="127.5" y="151.50" width="9.5" height="1.8" rx="0.9" fill="#444" filter="url(#bb)"/><rect x="140.5" y="151.00" width="11.5" height="2.8" rx="1.4" fill="#2a2a2a" filter="url(#bb)"/><rect x="154.5" y="151.00" width="10.5" height="2.8" rx="1.4" fill="#2a2a2a" filter="url(#bb)"/><rect x="127.0" y="165.40" width="13.0" height="5.2" rx="2.4" fill="#161616" filter="url(#bb)"/><rect x="139.5" y="165.40" width="13.0" height="5.2" rx="2.4" fill="#161616" filter="url(#bb)"/><rect x="152.0" y="165.40" width="13.5" height="5.2" rx="2.4" fill="#161616" filter="url(#bb)"/><rect x="169.60" y="146.40" width="38.40" height="12.00" fill="#ececec"/><rect x="169.60" y="161.80" width="38.40" height="11.20" fill="#ececec"/><rect x="170.6" y="162" width="36.4" height="4.5" fill="#b8b8b8" filter="url(#bb2)"/><rect x="171.0" y="151.90" width="7.5" height="1.4" rx="0.7" fill="#8a8a8a" filter="url(#bb)"/><rect x="182.5" y="150.95" width="11.5" height="3.3" rx="1.6" fill="#151515" filter="url(#bb)"/><rect x="196.0" y="151.10" width="11.5" height="3.0" rx="1.5" fill="#1a1a1a" filter="url(#bb)"/><rect x="170.3" y="165.20" width="12.7" height="6.2" rx="2.8" fill="#0e0e0e" filter="url(#bb)"/><rect x="182.5" y="165.20" width="13.5" height="6.2" rx="2.8" fill="#0e0e0e" filter="url(#bb)"/><rect x="195.5" y="165.20" width="14.0" height="6.2" rx="2.8" fill="#0e0e0e" filter="url(#bb)"/><rect x="213.00" y="146.40" width="40.00" height="12.00" fill="#f4f4f4"/><rect x="213.00" y="161.80" width="40.00" height="11.20" fill="#f4f4f4"/><rect x="215.0" y="168" width="36.0" height="5" fill="#c8c8c8" filter="url(#bb2)"/><rect x="214.7" y="149.50" width="10.5" height="3.6" rx="1.8" fill="#151515" filter="url(#bb)"/><rect x="227.4" y="149.40" width="10.5" height="3.8" rx="1.9" fill="#111" filter="url(#bb)"/><rect x="240.4" y="149.50" width="10.6" height="3.6" rx="1.8" fill="#151515" filter="url(#bb)"/><rect x="214.0" y="163.80" width="11.5" height="6.0" rx="2.7" fill="#383838" filter="url(#bb)"/><rect x="226.8" y="163.80" width="11.7" height="6.0" rx="2.7" fill="#383838" filter="url(#bb)"/><rect x="240.0" y="163.80" width="11.5" height="6.0" rx="2.7" fill="#383838" filter="url(#bb)"/><text transform="translate(65.90,177.00) rotate(-90)" font-size="11" text-anchor="end">SCC-25</text><text transform="translate(109.60,177.00) rotate(-90)" font-size="11" text-anchor="end">SCC-9</text><text transform="translate(153.40,177.00) rotate(-90)" font-size="11" text-anchor="end">CAL27</text><text transform="translate(193.90,177.00) rotate(-90)" font-size="11" text-anchor="end">SCC-15</text><text transform="translate(237.80,177.00) rotate(-90)" font-size="11" text-anchor="end">SCC-15/PYM</text><text x="316.50" y="11.90" font-size="12.6" font-weight="bold">C</text><line x1="357.70" y1="13.80" x2="357.70" y2="126.80" stroke="#222" stroke-width="1"/><line x1="354.20" y1="126.30" x2="357.70" y2="126.30" stroke="#222" stroke-width="1"/><text x="353.40" y="130.20" font-size="11" text-anchor="end">0</text><line x1="354.20" y1="98.17" x2="357.70" y2="98.17" stroke="#222" stroke-width="1"/><text x="353.40" y="102.08" font-size="11" text-anchor="end">50</text><line x1="354.20" y1="70.05" x2="357.70" y2="70.05" stroke="#222" stroke-width="1"/><text x="353.40" y="73.95" font-size="11" text-anchor="end">100</text><line x1="354.20" y1="41.92" x2="357.70" y2="41.92" stroke="#222" stroke-width="1"/><text x="353.40" y="45.82" font-size="11" text-anchor="end">150</text><line x1="354.20" y1="13.80" x2="357.70" y2="13.80" stroke="#222" stroke-width="1"/><text x="353.40" y="17.70" font-size="11" text-anchor="end">200</text><line x1="357.70" y1="126.30" x2="498.00" y2="126.30" stroke="#222" stroke-width="1"/><text transform="translate(326.40,150.40) rotate(-90)" font-size="10.8">Serum HSP27 level (ng/mL)</text><line x1="382.60" y1="126.30" x2="382.60" y2="129.80" stroke="#222" stroke-width="1"/><line x1="429.60" y1="126.30" x2="429.60" y2="129.80" stroke="#222" stroke-width="1"/><line x1="476.60" y1="126.30" x2="476.60" y2="129.80" stroke="#222" stroke-width="1"/><line x1="377.00" y1="85.60" x2="431.00" y2="85.60" stroke="#111" stroke-width="1.3"/><text class="st" x="405.90" y="87.15" font-size="9.4" text-anchor="middle" letter-spacing="0.6">*</text><line x1="426.70" y1="30.00" x2="481.00" y2="30.00" stroke="#111" stroke-width="1.3"/><text class="st" x="458.30" y="30.85" font-size="9.4" text-anchor="middle" letter-spacing="0.6">**</text><path d="M382.5 100.4L383.9 102.9L381.1 102.9Z" fill="#111"/><path d="M384.8 103.2L386.2 105.7L383.4 105.7Z" fill="#111"/><path d="M380.3 105.3L381.7 107.8L378.9 107.8Z" fill="#111"/><path d="M378.2 109.6L379.6 112.1L376.8 112.1Z" fill="#111"/><path d="M386.9 109.0L388.3 111.5L385.5 111.5Z" fill="#111"/><path d="M376.3 114.5L377.7 117.0L374.9 117.0Z" fill="#111"/><path d="M389.0 115.1L390.4 117.6L387.6 117.6Z" fill="#111"/><path d="M378.2 118.2L379.6 120.7L376.8 120.7Z" fill="#111"/><path d="M386.9 117.4L388.3 119.9L385.5 119.9Z" fill="#111"/><path d="M369.0 121.9L370.4 124.4L367.6 124.4Z" fill="#111"/><path d="M373.1 122.4L374.5 124.9L371.7 124.9Z" fill="#111"/><path d="M395.9 120.9L397.3 123.4L394.5 123.4Z" fill="#111"/><path d="M392.5 122.4L393.9 124.9L391.1 124.9Z" fill="#111"/><path d="M388.6 122.4L390.0 124.9L387.2 124.9Z" fill="#111"/><path d="M376.9 123.2L378.3 125.7L375.5 125.7Z" fill="#111"/><path d="M380.0 123.6L381.4 126.1L378.6 126.1Z" fill="#111"/><path d="M383.0 123.6L384.4 126.1L381.6 126.1Z" fill="#111"/><path d="M386.0 123.2L387.4 125.7L384.6 125.7Z" fill="#111"/><path d="M382.6 111.6L384.0 114.1L381.2 114.1Z" fill="#111"/><path d="M382.6 118.6L384.0 121.1L381.2 121.1Z" fill="#111"/><path d="M427.5 91.7L428.9 94.2L426.1 94.2Z" fill="#111"/><path d="M434.0 94.8L435.4 97.3L432.6 97.3Z" fill="#111"/><path d="M431.9 97.4L433.3 99.9L430.5 99.9Z" fill="#111"/><path d="M427.5 99.8L428.9 102.3L426.1 102.3Z" fill="#111"/><path d="M423.1 103.2L424.5 105.7L421.7 105.7Z" fill="#111"/><path d="M438.3 105.5L439.7 108.0L436.9 108.0Z" fill="#111"/><path d="M427.7 105.9L429.1 108.4L426.3 108.4Z" fill="#111"/><path d="M433.8 106.3L435.2 108.8L432.4 108.8Z" fill="#111"/><path d="M416.8 107.8L418.2 110.3L415.4 110.3Z" fill="#111"/><path d="M421.2 110.1L422.6 112.6L419.8 112.6Z" fill="#111"/><path d="M425.4 110.9L426.8 113.4L424.0 113.4Z" fill="#111"/><path d="M429.6 111.3L431.0 113.8L428.2 113.8Z" fill="#111"/><path d="M436.2 110.9L437.6 113.4L434.8 113.4Z" fill="#111"/><path d="M440.8 110.1L442.2 112.6L439.4 112.6Z" fill="#111"/><path d="M438.5 113.2L439.9 115.7L437.1 115.7Z" fill="#111"/><path d="M419.1 114.4L420.5 116.9L417.7 116.9Z" fill="#111"/><path d="M423.5 116.3L424.9 118.8L422.1 118.8Z" fill="#111"/><path d="M433.8 115.1L435.2 117.6L432.4 117.6Z" fill="#111"/><path d="M425.4 120.1L426.8 122.6L424.0 122.6Z" fill="#111"/><path d="M434.0 120.9L435.4 123.4L432.6 123.4Z" fill="#111"/><path d="M429.6 102.6L431.0 105.1L428.2 105.1Z" fill="#111"/><path d="M429.6 114.6L431.0 117.1L428.2 117.1Z" fill="#111"/><path d="M431.0 108.6L432.4 111.1L429.6 111.1Z" fill="#111"/><path d="M476.6 41.3L478.0 38.8L475.2 38.8Z" fill="#111"/><path d="M474.5 50.8L475.9 48.3L473.1 48.3Z" fill="#111"/><path d="M479.1 52.8L480.5 50.3L477.7 50.3Z" fill="#111"/><path d="M476.6 59.4L478.0 56.9L475.2 56.9Z" fill="#111"/><path d="M474.5 73.4L475.9 70.9L473.1 70.9Z" fill="#111"/><path d="M480.7 76.7L482.1 74.2L479.3 74.2Z" fill="#111"/><path d="M478.7 80.0L480.1 77.5L477.3 77.5Z" fill="#111"/><path d="M472.5 82.5L473.9 80.0L471.1 80.0Z" fill="#111"/><path d="M479.1 88.2L480.5 85.7L477.7 85.7Z" fill="#111"/><path d="M470.0 93.7L471.4 91.2L468.6 91.2Z" fill="#111"/><path d="M483.2 92.7L484.6 90.2L481.8 90.2Z" fill="#111"/><path d="M474.5 96.5L475.9 94.0L473.1 94.0Z" fill="#111"/><path d="M478.2 96.0L479.6 93.5L476.8 93.5Z" fill="#111"/><path d="M481.0 99.3L482.4 96.8L479.6 96.8Z" fill="#111"/><path d="M472.5 102.2L473.9 99.7L471.1 99.7Z" fill="#111"/><path d="M477.4 105.5L478.8 103.0L476.0 103.0Z" fill="#111"/><path d="M476.6 113.8L478.0 111.3L475.2 111.3Z" fill="#111"/><path d="M476.6 119.5L478.0 117.0L475.2 117.0Z" fill="#111"/><path d="M476.6 69.4L478.0 66.9L475.2 66.9Z" fill="#111"/><path d="M476.6 89.4L478.0 86.9L475.2 86.9Z" fill="#111"/><path d="M474.0 86.4L475.4 83.9L472.6 83.9Z" fill="#111"/><path d="M480.0 103.4L481.4 100.9L478.6 100.9Z" fill="#111"/><path d="M476.6 97.4L478.0 94.9L475.2 94.9Z" fill="#111"/><line x1="367.30" y1="117.30" x2="397.90" y2="117.30" stroke="#111" stroke-width="1.5"/><line x1="375.30" y1="109.50" x2="389.90" y2="109.50" stroke="#111" stroke-width="1.5"/><line x1="375.30" y1="124.80" x2="389.90" y2="124.80" stroke="#111" stroke-width="1.5"/><line x1="382.60" y1="109.50" x2="382.60" y2="124.80" stroke="#111" stroke-width="1.5"/><line x1="414.10" y1="110.00" x2="445.10" y2="110.00" stroke="#111" stroke-width="1.5"/><line x1="422.30" y1="101.90" x2="436.90" y2="101.90" stroke="#111" stroke-width="1.5"/><line x1="422.30" y1="118.20" x2="436.90" y2="118.20" stroke="#111" stroke-width="1.5"/><line x1="429.60" y1="101.90" x2="429.60" y2="118.20" stroke="#111" stroke-width="1.5"/><line x1="461.30" y1="83.90" x2="491.90" y2="83.90" stroke="#111" stroke-width="1.5"/><line x1="469.05" y1="63.30" x2="484.15" y2="63.30" stroke="#111" stroke-width="1.5"/><line x1="469.05" y1="105.00" x2="484.15" y2="105.00" stroke="#111" stroke-width="1.5"/><line x1="476.60" y1="63.30" x2="476.60" y2="105.00" stroke="#111" stroke-width="1.5"/><text transform="translate(373.50,146.50) rotate(-14)" font-size="11" text-anchor="middle">Control</text><text transform="translate(423.50,145.50) rotate(-14)" font-size="11" text-anchor="middle">Pre-chemo</text><text transform="translate(467.50,147.00) rotate(-14)" font-size="11" text-anchor="middle">Post-chemo</text><text x="361.3" y="167" font-size="11"><tspan font-style="italic">n</tspan> = 20</text><text x="408.5" y="167" font-size="11"><tspan font-style="italic">n</tspan> = 23</text><text x="456.5" y="167" font-size="11"><tspan font-style="italic">n</tspan> = 23</text><text x="383.40" y="180.80" font-size="11" text-anchor="middle">Pre-chemo</text><text x="466.70" y="180.40" font-size="11" text-anchor="middle">Post-chemo</text><text x="1.60" y="277.60" font-size="12" font-weight="bold">B</text><text transform="translate(8.60,429.20) rotate(-90)" font-size="11">Serum HSP27 level (ng/mL)</text><line x1="37.40" y1="289.60" x2="37.40" y2="388.90" stroke="#222" stroke-width="1"/><line x1="33.60" y1="388.40" x2="37.40" y2="388.40" stroke="#222" stroke-width="1"/><text x="31.90" y="392.30" font-size="11" text-anchor="end">0</text><line x1="33.60" y1="363.70" x2="37.40" y2="363.70" stroke="#222" stroke-width="1"/><text x="31.90" y="367.60" font-size="11" text-anchor="end">30</text><line x1="33.60" y1="339.00" x2="37.40" y2="339.00" stroke="#222" stroke-width="1"/><text x="31.90" y="342.90" font-size="11" text-anchor="end">60</text><line x1="33.60" y1="314.30" x2="37.40" y2="314.30" stroke="#222" stroke-width="1"/><text x="31.90" y="318.20" font-size="11" text-anchor="end">90</text><line x1="33.60" y1="289.60" x2="37.40" y2="289.60" stroke="#222" stroke-width="1"/><text x="31.90" y="293.50" font-size="11" text-anchor="end">120</text><line x1="37.40" y1="388.40" x2="149.50" y2="388.40" stroke="#222" stroke-width="1"/><line x1="47.00" y1="388.40" x2="47.00" y2="391.70" stroke="#222" stroke-width="1"/><line x1="65.50" y1="388.40" x2="65.50" y2="391.70" stroke="#222" stroke-width="1"/><line x1="84.20" y1="388.40" x2="84.20" y2="391.70" stroke="#222" stroke-width="1"/><line x1="102.80" y1="388.40" x2="102.80" y2="391.70" stroke="#222" stroke-width="1"/><line x1="121.50" y1="388.40" x2="121.50" y2="391.70" stroke="#222" stroke-width="1"/><line x1="140.30" y1="388.40" x2="140.30" y2="391.70" stroke="#222" stroke-width="1"/><text transform="translate(50.90,398.30) rotate(-90)" font-size="11" text-anchor="end">PBS</text><text transform="translate(69.40,398.30) rotate(-90)" font-size="11" text-anchor="end">PYM</text><text transform="translate(88.10,398.30) rotate(-90)" font-size="11" text-anchor="end">cDDP</text><text transform="translate(106.70,398.30) rotate(-90)" font-size="11" text-anchor="end">PBS</text><text transform="translate(125.40,398.30) rotate(-90)" font-size="11" text-anchor="end">PYM</text><text transform="translate(144.20,398.30) rotate(-90)" font-size="11" text-anchor="end">cDDP</text><line x1="40.20" y1="428.20" x2="86.30" y2="428.20" stroke="#111" stroke-width="1.2"/><line x1="97.00" y1="428.20" x2="143.80" y2="428.20" stroke="#111" stroke-width="1.2"/><text x="39.20" y="443.40" font-size="11">pLEX-Con</text><text x="94.00" y="443.40" font-size="11">pLEX-HSP27</text><text x="93.30" y="383.50" font-size="11" text-anchor="middle">SCC-15</text><line x1="40.90" y1="384.20" x2="53.10" y2="384.20" stroke="#111" stroke-width="1.4"/><line x1="43.90" y1="383.60" x2="50.10" y2="383.60" stroke="#111" stroke-width="1.4"/><line x1="43.90" y1="384.80" x2="50.10" y2="384.80" stroke="#111" stroke-width="1.4"/><line x1="47.00" y1="383.60" x2="47.00" y2="384.80" stroke="#111" stroke-width="1.4"/><circle cx="43.0" cy="384.2" r="1.5" fill="#111"/><circle cx="47.0" cy="384.5" r="1.5" fill="#111"/><circle cx="51.0" cy="384.2" r="1.5" fill="#111"/><line x1="59.40" y1="346.60" x2="71.60" y2="346.60" stroke="#111" stroke-width="1.4"/><line x1="62.40" y1="342.50" x2="68.60" y2="342.50" stroke="#111" stroke-width="1.4"/><line x1="62.40" y1="350.60" x2="68.60" y2="350.60" stroke="#111" stroke-width="1.4"/><line x1="65.50" y1="342.50" x2="65.50" y2="350.60" stroke="#111" stroke-width="1.4"/><circle cx="63.5" cy="350.6" r="1.5" fill="#111"/><circle cx="68.5" cy="347.0" r="1.5" fill="#111"/><circle cx="65.5" cy="343.0" r="1.5" fill="#111"/><line x1="78.10" y1="347.90" x2="90.30" y2="347.90" stroke="#111" stroke-width="1.4"/><line x1="81.10" y1="340.50" x2="87.30" y2="340.50" stroke="#111" stroke-width="1.4"/><line x1="81.10" y1="354.20" x2="87.30" y2="354.20" stroke="#111" stroke-width="1.4"/><line x1="84.20" y1="340.50" x2="84.20" y2="354.20" stroke="#111" stroke-width="1.4"/><circle cx="84.2" cy="339.7" r="1.5" fill="#111"/><circle cx="84.2" cy="352.0" r="1.5" fill="#111"/><circle cx="85.2" cy="354.0" r="1.5" fill="#111"/><line x1="96.70" y1="339.00" x2="108.90" y2="339.00" stroke="#111" stroke-width="1.4"/><line x1="99.70" y1="335.50" x2="105.90" y2="335.50" stroke="#111" stroke-width="1.4"/><line x1="99.70" y1="341.30" x2="105.90" y2="341.30" stroke="#111" stroke-width="1.4"/><line x1="102.80" y1="335.50" x2="102.80" y2="341.30" stroke="#111" stroke-width="1.4"/><circle cx="102.8" cy="336.0" r="1.5" fill="#111"/><circle cx="100.8" cy="341.0" r="1.5" fill="#111"/><circle cx="104.8" cy="340.0" r="1.5" fill="#111"/><line x1="115.40" y1="319.60" x2="127.60" y2="319.60" stroke="#111" stroke-width="1.4"/><line x1="118.40" y1="313.80" x2="124.60" y2="313.80" stroke="#111" stroke-width="1.4"/><line x1="118.40" y1="326.50" x2="124.60" y2="326.50" stroke="#111" stroke-width="1.4"/><line x1="121.50" y1="313.80" x2="121.50" y2="326.50" stroke="#111" stroke-width="1.4"/><circle cx="121.5" cy="314.0" r="1.5" fill="#111"/><circle cx="123.5" cy="320.0" r="1.5" fill="#111"/><circle cx="121.5" cy="326.0" r="1.5" fill="#111"/><line x1="134.20" y1="321.40" x2="146.40" y2="321.40" stroke="#111" stroke-width="1.4"/><line x1="137.20" y1="316.60" x2="143.40" y2="316.60" stroke="#111" stroke-width="1.4"/><line x1="137.20" y1="327.40" x2="143.40" y2="327.40" stroke="#111" stroke-width="1.4"/><line x1="140.30" y1="316.60" x2="140.30" y2="327.40" stroke="#111" stroke-width="1.4"/><circle cx="140.3" cy="317.0" r="1.5" fill="#111"/><circle cx="140.3" cy="321.0" r="1.5" fill="#111"/><circle cx="139.3" cy="327.0" r="1.5" fill="#111"/><text class="st" x="66.60" y="340.95" font-size="9.4" text-anchor="middle" letter-spacing="0.6">****</text><text class="st" x="85.30" y="337.75" font-size="9.4" text-anchor="middle" letter-spacing="0.6">***</text><text class="st" x="122.60" y="311.45" font-size="9.4" text-anchor="middle" letter-spacing="0.6">*</text><text class="st" x="141.40" y="313.85" font-size="9.4" text-anchor="middle" letter-spacing="0.6">*</text><text transform="translate(8.60,589.20) rotate(-90)" font-size="11">Serum HSP27 level (ng/mL)</text><line x1="37.40" y1="453.80" x2="37.40" y2="553.20" stroke="#222" stroke-width="1"/><line x1="33.60" y1="552.70" x2="37.40" y2="552.70" stroke="#222" stroke-width="1"/><text x="31.90" y="556.60" font-size="11" text-anchor="end">0</text><line x1="33.60" y1="527.98" x2="37.40" y2="527.98" stroke="#222" stroke-width="1"/><text x="31.90" y="531.88" font-size="11" text-anchor="end">30</text><line x1="33.60" y1="503.25" x2="37.40" y2="503.25" stroke="#222" stroke-width="1"/><text x="31.90" y="507.15" font-size="11" text-anchor="end">60</text><line x1="33.60" y1="478.53" x2="37.40" y2="478.53" stroke="#222" stroke-width="1"/><text x="31.90" y="482.43" font-size="11" text-anchor="end">90</text><line x1="33.60" y1="453.80" x2="37.40" y2="453.80" stroke="#222" stroke-width="1"/><text x="31.90" y="457.70" font-size="11" text-anchor="end">120</text><line x1="37.40" y1="552.70" x2="149.50" y2="552.70" stroke="#222" stroke-width="1"/><line x1="47.00" y1="552.70" x2="47.00" y2="556.00" stroke="#222" stroke-width="1"/><line x1="65.50" y1="552.70" x2="65.50" y2="556.00" stroke="#222" stroke-width="1"/><line x1="84.20" y1="552.70" x2="84.20" y2="556.00" stroke="#222" stroke-width="1"/><line x1="102.80" y1="552.70" x2="102.80" y2="556.00" stroke="#222" stroke-width="1"/><line x1="121.50" y1="552.70" x2="121.50" y2="556.00" stroke="#222" stroke-width="1"/><line x1="140.30" y1="552.70" x2="140.30" y2="556.00" stroke="#222" stroke-width="1"/><text transform="translate(50.90,562.30) rotate(-90)" font-size="11" text-anchor="end">PBS</text><text transform="translate(69.40,562.30) rotate(-90)" font-size="11" text-anchor="end">PYM</text><text transform="translate(88.10,562.30) rotate(-90)" font-size="11" text-anchor="end">cDDP</text><text transform="translate(106.70,562.30) rotate(-90)" font-size="11" text-anchor="end">PBS</text><text transform="translate(125.40,562.30) rotate(-90)" font-size="11" text-anchor="end">PYM</text><text transform="translate(144.20,562.30) rotate(-90)" font-size="11" text-anchor="end">cDDP</text><line x1="40.20" y1="590.60" x2="86.30" y2="590.60" stroke="#111" stroke-width="1.2"/><line x1="97.00" y1="590.60" x2="143.80" y2="590.60" stroke="#111" stroke-width="1.2"/><text x="39.20" y="604.10" font-size="11">pLEX-Con</text><text x="94.00" y="604.10" font-size="11">pLEX-HSP27</text><text x="93.30" y="548.50" font-size="11" text-anchor="middle">SCC-25</text><line x1="40.90" y1="549.70" x2="53.10" y2="549.70" stroke="#111" stroke-width="1.4"/><line x1="43.90" y1="549.20" x2="50.10" y2="549.20" stroke="#111" stroke-width="1.4"/><line x1="43.90" y1="550.20" x2="50.10" y2="550.20" stroke="#111" stroke-width="1.4"/><line x1="47.00" y1="549.20" x2="47.00" y2="550.20" stroke="#111" stroke-width="1.4"/><circle cx="43.0" cy="549.7" r="1.5" fill="#111"/><circle cx="47.0" cy="549.9" r="1.5" fill="#111"/><circle cx="51.0" cy="549.7" r="1.5" fill="#111"/><line x1="59.40" y1="509.70" x2="71.60" y2="509.70" stroke="#111" stroke-width="1.4"/><line x1="62.40" y1="506.30" x2="68.60" y2="506.30" stroke="#111" stroke-width="1.4"/><line x1="62.40" y1="513.20" x2="68.60" y2="513.20" stroke="#111" stroke-width="1.4"/><line x1="65.50" y1="506.30" x2="65.50" y2="513.20" stroke="#111" stroke-width="1.4"/><circle cx="65.5" cy="506.5" r="1.5" fill="#111"/><circle cx="64.5" cy="513.0" r="1.5" fill="#111"/><circle cx="66.5" cy="510.0" r="1.5" fill="#111"/><line x1="78.10" y1="501.20" x2="90.30" y2="501.20" stroke="#111" stroke-width="1.4"/><line x1="81.10" y1="497.00" x2="87.30" y2="497.00" stroke="#111" stroke-width="1.4"/><line x1="81.10" y1="505.30" x2="87.30" y2="505.30" stroke="#111" stroke-width="1.4"/><line x1="84.20" y1="497.00" x2="84.20" y2="505.30" stroke="#111" stroke-width="1.4"/><circle cx="84.2" cy="497.0" r="1.5" fill="#111"/><circle cx="84.2" cy="505.0" r="1.5" fill="#111"/><circle cx="85.2" cy="501.0" r="1.5" fill="#111"/><line x1="96.70" y1="515.50" x2="108.90" y2="515.50" stroke="#111" stroke-width="1.4"/><line x1="99.70" y1="511.60" x2="105.90" y2="511.60" stroke="#111" stroke-width="1.4"/><line x1="99.70" y1="519.20" x2="105.90" y2="519.20" stroke="#111" stroke-width="1.4"/><line x1="102.80" y1="511.60" x2="102.80" y2="519.20" stroke="#111" stroke-width="1.4"/><circle cx="102.8" cy="512.0" r="1.5" fill="#111"/><circle cx="102.8" cy="519.0" r="1.5" fill="#111"/><circle cx="101.8" cy="515.0" r="1.5" fill="#111"/><line x1="115.40" y1="484.60" x2="127.60" y2="484.60" stroke="#111" stroke-width="1.4"/><line x1="118.40" y1="478.00" x2="124.60" y2="478.00" stroke="#111" stroke-width="1.4"/><line x1="118.40" y1="489.60" x2="124.60" y2="489.60" stroke="#111" stroke-width="1.4"/><line x1="121.50" y1="478.00" x2="121.50" y2="489.60" stroke="#111" stroke-width="1.4"/><circle cx="121.5" cy="478.0" r="1.5" fill="#111"/><circle cx="123.5" cy="486.0" r="1.5" fill="#111"/><circle cx="121.5" cy="489.0" r="1.5" fill="#111"/><line x1="134.20" y1="482.30" x2="146.40" y2="482.30" stroke="#111" stroke-width="1.4"/><line x1="137.20" y1="474.60" x2="143.40" y2="474.60" stroke="#111" stroke-width="1.4"/><line x1="137.20" y1="490.80" x2="143.40" y2="490.80" stroke="#111" stroke-width="1.4"/><line x1="140.30" y1="474.60" x2="140.30" y2="490.80" stroke="#111" stroke-width="1.4"/><circle cx="140.3" cy="475.0" r="1.5" fill="#111"/><circle cx="142.3" cy="480.0" r="1.5" fill="#111"/><circle cx="140.3" cy="490.0" r="1.5" fill="#111"/><text class="st" x="66.60" y="504.85" font-size="9.4" text-anchor="middle" letter-spacing="0.6">****</text><text class="st" x="85.30" y="496.15" font-size="9.4" text-anchor="middle" letter-spacing="0.6">****</text><text class="st" x="122.60" y="477.15" font-size="9.4" text-anchor="middle" letter-spacing="0.6">**</text><text class="st" x="141.40" y="473.75" font-size="9.4" text-anchor="middle" letter-spacing="0.6">**</text><text x="266.50" y="299.00" font-size="11" text-anchor="middle" class="l">SCC-15</text><text x="436.60" y="299.00" font-size="11" text-anchor="middle" class="l">SCC-25</text><line x1="184.20" y1="304.60" x2="342.00" y2="304.60" stroke="#111" stroke-width="1.4"/><line x1="355.60" y1="304.60" x2="513.00" y2="304.60" stroke="#111" stroke-width="1.4"/><text x="221.20" y="320.80" font-size="11" text-anchor="middle" class="l">pLEX-Con</text><text x="304.20" y="320.80" font-size="11" text-anchor="middle" class="l">pLEX-HSP27</text><text x="393.60" y="320.80" font-size="11" text-anchor="middle" class="l">pLEX-Con</text><text x="475.90" y="320.80" font-size="11" text-anchor="middle" class="l">pLEX-HSP27</text><text transform="translate(178.60,368.40) rotate(-90)" font-size="11" text-anchor="middle" class="l">PBS</text><text transform="translate(178.60,460.50) rotate(-90)" font-size="11" text-anchor="middle" class="l">PYM</text><text transform="translate(178.60,548.80) rotate(-90)" font-size="11" text-anchor="middle" class="l">cDDP</text><rect x="180.0" y="327.0" width="82.0" height="81.0" filter="url(#bg1)"/><g clip-path="url(#cp1)"><g filter="url(#soft)"><ellipse cx="184.4" cy="331.0" rx="2.7" ry="2.4" fill="#8088bc" opacity="0.73"/><ellipse cx="199.3" cy="331.0" rx="2.4" ry="2.1" fill="#7880b8" opacity="0.58"/><ellipse cx="203.1" cy="327.7" rx="2.9" ry="3.0" fill="#7278b0" opacity="0.58"/><ellipse cx="210.9" cy="331.0" rx="3.3" ry="3.1" fill="#7278b0" opacity="0.74"/><ellipse cx="218.3" cy="329.4" rx="3.3" ry="3.4" fill="#8a8ec0" opacity="0.72"/><ellipse cx="221.3" cy="330.8" rx="3.1" ry="3.2" fill="#8088bc" opacity="0.79"/><ellipse cx="228.0" cy="331.5" rx="3.2" ry="2.9" fill="#8088bc" opacity="0.51"/><ellipse cx="232.8" cy="330.5" rx="2.8" ry="2.8" fill="#7880b8" opacity="0.76"/><ellipse cx="238.8" cy="331.0" rx="2.9" ry="2.5" fill="#7880b8" opacity="0.51"/><ellipse cx="246.0" cy="330.3" rx="3.0" ry="2.8" fill="#7880b8" opacity="0.58"/><ellipse cx="250.2" cy="331.4" rx="2.6" ry="2.4" fill="#7278b0" opacity="0.70"/><ellipse cx="256.3" cy="330.3" rx="3.1" ry="2.7" fill="#8680b8" opacity="0.83"/><ellipse cx="261.3" cy="330.1" rx="2.8" ry="2.2" fill="#8088bc" opacity="0.70"/><ellipse cx="185.2" cy="336.8" rx="2.8" ry="2.1" fill="#8a8ec0" opacity="0.78"/><ellipse cx="189.1" cy="334.2" rx="2.6" ry="2.4" fill="#8a8ec0" opacity="0.78"/><ellipse cx="200.5" cy="337.0" rx="2.9" ry="2.8" fill="#8680b8" opacity="0.59"/><ellipse cx="207.1" cy="333.9" rx="2.7" ry="2.7" fill="#8a8ec0" opacity="0.73"/><ellipse cx="212.8" cy="335.3" rx="2.4" ry="2.1" fill="#7880b8" opacity="0.57"/><ellipse cx="220.2" cy="337.5" rx="3.4" ry="3.0" fill="#7278b0" opacity="0.58"/><ellipse cx="225.8" cy="333.9" rx="3.1" ry="3.0" fill="#8680b8" opacity="0.58"/><ellipse cx="230.5" cy="333.3" rx="3.1" ry="3.0" fill="#8a8ec0" opacity="0.65"/><ellipse cx="234.7" cy="333.4" rx="2.5" ry="1.9" fill="#8088bc" opacity="0.60"/><ellipse cx="240.5" cy="333.2" rx="3.3" ry="2.5" fill="#8680b8" opacity="0.84"/><ellipse cx="248.7" cy="337.1" rx="3.2" ry="3.0" fill="#7880b8" opacity="0.57"/><ellipse cx="253.6" cy="335.1" rx="2.6" ry="2.0" fill="#7278b0" opacity="0.60"/><ellipse cx="263.6" cy="334.4" rx="2.6" ry="2.6" fill="#8088bc" opacity="0.70"/><ellipse cx="181.5" cy="341.8" rx="3.2" ry="3.3" fill="#8680b8" opacity="0.81"/><ellipse cx="190.6" cy="339.8" rx="3.1" ry="2.4" fill="#8088bc" opacity="0.82"/><ellipse cx="193.2" cy="341.0" rx="2.7" ry="2.3" fill="#8680b8" opacity="0.58"/><ellipse cx="200.6" cy="340.9" rx="3.0" ry="2.9" fill="#7278b0" opacity="0.64"/><ellipse cx="206.5" cy="342.5" rx="2.7" ry="2.6" fill="#8680b8" opacity="0.63"/><ellipse cx="211.1" cy="343.0" rx="2.8" ry="2.3" fill="#8a8ec0" opacity="0.54"/><ellipse cx="228.1" cy="338.8" rx="2.8" ry="2.8" fill="#8680b8" opacity="0.57"/><ellipse cx="231.5" cy="339.5" rx="2.6" ry="2.6" fill="#7278b0" opacity="0.82"/><ellipse cx="239.0" cy="342.4" rx="3.0" ry="2.8" fill="#8a8ec0" opacity="0.57"/><ellipse cx="254.7" cy="341.4" rx="2.8" ry="2.4" fill="#8680b8" opacity="0.82"/><ellipse cx="259.5" cy="339.7" rx="3.0" ry="3.2" fill="#8a8ec0" opacity="0.74"/><ellipse cx="185.8" cy="345.7" rx="2.6" ry="2.0" fill="#7278b0" opacity="0.84"/><ellipse cx="196.1" cy="345.4" rx="3.4" ry="2.6" fill="#8680b8" opacity="0.78"/><ellipse cx="201.5" cy="345.9" rx="2.9" ry="2.7" fill="#7880b8" opacity="0.59"/><ellipse cx="207.6" cy="345.6" rx="3.3" ry="3.2" fill="#8a8ec0" opacity="0.50"/><ellipse cx="215.2" cy="345.1" rx="2.9" ry="2.9" fill="#8088bc" opacity="0.83"/><ellipse cx="217.6" cy="345.0" rx="3.3" ry="2.7" fill="#8680b8" opacity="0.79"/><ellipse cx="226.6" cy="345.0" rx="3.3" ry="2.5" fill="#8680b8" opacity="0.82"/><ellipse cx="231.5" cy="347.4" rx="2.6" ry="2.3" fill="#8088bc" opacity="0.75"/><ellipse cx="234.0" cy="348.7" rx="3.2" ry="2.9" fill="#7278b0" opacity="0.80"/><ellipse cx="245.7" cy="346.5" rx="3.2" ry="3.3" fill="#8a8ec0" opacity="0.51"/><ellipse cx="253.2" cy="345.0" rx="3.4" ry="2.8" fill="#7880b8" opacity="0.56"/><ellipse cx="256.2" cy="346.7" rx="2.9" ry="2.7" fill="#8088bc" opacity="0.74"/><ellipse cx="264.0" cy="346.5" rx="2.6" ry="2.3" fill="#8a8ec0" opacity="0.82"/><ellipse cx="181.5" cy="354.1" rx="3.2" ry="3.0" fill="#8088bc" opacity="0.68"/><ellipse cx="189.3" cy="353.8" rx="2.8" ry="2.7" fill="#7880b8" opacity="0.71"/><ellipse cx="196.1" cy="352.5" rx="2.6" ry="2.1" fill="#7880b8" opacity="0.70"/><ellipse cx="199.1" cy="352.8" rx="2.8" ry="2.8" fill="#8680b8" opacity="0.85"/><ellipse cx="206.6" cy="352.8" rx="2.7" ry="2.7" fill="#8680b8" opacity="0.55"/><ellipse cx="211.5" cy="353.1" rx="2.8" ry="2.9" fill="#7278b0" opacity="0.63"/><ellipse cx="218.2" cy="351.9" rx="3.0" ry="2.7" fill="#8680b8" opacity="0.65"/><ellipse cx="220.3" cy="351.3" rx="2.6" ry="2.6" fill="#7278b0" opacity="0.57"/><ellipse cx="225.5" cy="354.3" rx="2.6" ry="2.2" fill="#8088bc" opacity="0.55"/><ellipse cx="233.6" cy="351.1" rx="3.1" ry="3.0" fill="#8680b8" opacity="0.84"/><ellipse cx="238.4" cy="350.5" rx="2.6" ry="2.6" fill="#7880b8" opacity="0.78"/><ellipse cx="250.2" cy="354.3" rx="3.2" ry="3.3" fill="#8680b8" opacity="0.68"/><ellipse cx="255.3" cy="353.0" rx="3.2" ry="2.7" fill="#8a8ec0" opacity="0.75"/><ellipse cx="260.7" cy="353.5" rx="3.1" ry="2.8" fill="#8088bc" opacity="0.63"/><ellipse cx="187.8" cy="358.4" rx="3.1" ry="3.0" fill="#7278b0" opacity="0.57"/><ellipse cx="191.3" cy="359.8" rx="3.1" ry="3.3" fill="#8680b8" opacity="0.66"/><ellipse cx="196.9" cy="358.6" rx="3.0" ry="3.1" fill="#7880b8" opacity="0.72"/><ellipse cx="203.5" cy="358.4" rx="3.0" ry="2.9" fill="#7278b0" opacity="0.72"/><ellipse cx="209.6" cy="359.0" rx="3.2" ry="3.0" fill="#7278b0" opacity="0.59"/><ellipse cx="213.8" cy="356.2" rx="3.2" ry="2.9" fill="#8680b8" opacity="0.52"/><ellipse cx="222.9" cy="355.9" rx="2.8" ry="2.3" fill="#7880b8" opacity="0.56"/><ellipse cx="231.2" cy="358.3" rx="2.6" ry="2.1" fill="#7880b8" opacity="0.59"/><ellipse cx="237.8" cy="358.5" rx="2.9" ry="2.6" fill="#8680b8" opacity="0.60"/><ellipse cx="242.1" cy="356.6" rx="3.0" ry="2.4" fill="#8a8ec0" opacity="0.80"/><ellipse cx="246.1" cy="358.3" rx="2.6" ry="2.5" fill="#7278b0" opacity="0.80"/><ellipse cx="252.5" cy="359.0" rx="3.2" ry="2.6" fill="#8680b8" opacity="0.56"/><ellipse cx="260.3" cy="358.8" rx="3.0" ry="2.5" fill="#8088bc" opacity="0.55"/><ellipse cx="263.7" cy="356.9" rx="2.8" ry="2.2" fill="#7880b8" opacity="0.74"/><ellipse cx="188.4" cy="361.6" rx="2.6" ry="2.0" fill="#8088bc" opacity="0.81"/><ellipse cx="194.0" cy="363.5" rx="3.1" ry="3.2" fill="#8a8ec0" opacity="0.73"/><ellipse cx="203.4" cy="363.0" rx="2.9" ry="2.5" fill="#8a8ec0" opacity="0.58"/><ellipse cx="211.2" cy="362.1" rx="3.1" ry="2.6" fill="#7880b8" opacity="0.82"/><ellipse cx="223.6" cy="362.6" rx="2.8" ry="2.6" fill="#8088bc" opacity="0.64"/><ellipse cx="225.5" cy="362.9" rx="3.3" ry="3.0" fill="#7880b8" opacity="0.59"/><ellipse cx="234.7" cy="365.2" rx="2.4" ry="1.9" fill="#8a8ec0" opacity="0.51"/><ellipse cx="238.5" cy="362.0" rx="2.9" ry="2.3" fill="#8088bc" opacity="0.79"/><ellipse cx="243.9" cy="364.0" rx="3.4" ry="3.2" fill="#8680b8" opacity="0.52"/><ellipse cx="249.7" cy="364.3" rx="3.0" ry="3.2" fill="#8680b8" opacity="0.69"/><ellipse cx="257.3" cy="363.1" rx="3.1" ry="3.0" fill="#7880b8" opacity="0.75"/><ellipse cx="263.3" cy="361.8" rx="3.3" ry="3.3" fill="#7880b8" opacity="0.52"/><ellipse cx="185.7" cy="369.0" rx="2.5" ry="2.1" fill="#8088bc" opacity="0.51"/><ellipse cx="192.4" cy="370.8" rx="2.8" ry="2.8" fill="#8a8ec0" opacity="0.59"/><ellipse cx="209.0" cy="368.2" rx="2.5" ry="2.5" fill="#8a8ec0" opacity="0.80"/><ellipse cx="219.2" cy="367.7" rx="3.3" ry="3.0" fill="#7278b0" opacity="0.81"/><ellipse cx="230.2" cy="371.2" rx="3.1" ry="3.1" fill="#8a8ec0" opacity="0.69"/><ellipse cx="234.7" cy="368.5" rx="2.7" ry="2.4" fill="#8a8ec0" opacity="0.52"/><ellipse cx="242.3" cy="368.2" rx="2.7" ry="2.3" fill="#8680b8" opacity="0.76"/><ellipse cx="252.0" cy="370.0" rx="3.2" ry="2.9" fill="#7278b0" opacity="0.60"/><ellipse cx="260.3" cy="371.1" rx="3.2" ry="3.3" fill="#8088bc" opacity="0.78"/><ellipse cx="184.4" cy="373.5" rx="2.6" ry="2.4" fill="#8a8ec0" opacity="0.85"/><ellipse cx="188.2" cy="376.7" rx="2.9" ry="2.3" fill="#8680b8" opacity="0.74"/><ellipse cx="192.3" cy="375.8" rx="3.3" ry="3.1" fill="#8a8ec0" opacity="0.84"/><ellipse cx="198.3" cy="372.7" rx="3.0" ry="2.8" fill="#8088bc" opacity="0.78"/><ellipse cx="203.7" cy="376.2" rx="2.4" ry="2.1" fill="#8a8ec0" opacity="0.75"/><ellipse cx="209.5" cy="374.6" rx="3.3" ry="2.7" fill="#8088bc" opacity="0.63"/><ellipse cx="217.4" cy="376.0" rx="3.4" ry="2.8" fill="#7278b0" opacity="0.76"/><ellipse cx="221.9" cy="374.2" rx="3.3" ry="3.2" fill="#7278b0" opacity="0.51"/><ellipse cx="234.1" cy="375.2" rx="2.9" ry="2.9" fill="#8a8ec0" opacity="0.85"/><ellipse cx="239.0" cy="374.9" rx="3.0" ry="2.7" fill="#8680b8" opacity="0.79"/><ellipse cx="245.0" cy="373.7" rx="2.7" ry="2.4" fill="#8088bc" opacity="0.69"/><ellipse cx="247.8" cy="374.3" rx="3.1" ry="2.3" fill="#7880b8" opacity="0.60"/><ellipse cx="257.5" cy="376.2" rx="2.8" ry="2.5" fill="#7278b0" opacity="0.63"/><ellipse cx="260.7" cy="376.0" rx="2.9" ry="2.3" fill="#8a8ec0" opacity="0.85"/><ellipse cx="183.9" cy="381.5" rx="3.3" ry="2.9" fill="#7278b0" opacity="0.60"/><ellipse cx="190.9" cy="381.4" rx="2.9" ry="2.8" fill="#7278b0" opacity="0.84"/><ellipse cx="204.5" cy="379.0" rx="2.4" ry="2.0" fill="#7278b0" opacity="0.83"/><ellipse cx="206.6" cy="378.0" rx="2.8" ry="2.9" fill="#7278b0" opacity="0.58"/><ellipse cx="215.6" cy="382.3" rx="2.5" ry="2.3" fill="#7880b8" opacity="0.74"/><ellipse cx="220.0" cy="378.8" rx="3.2" ry="3.1" fill="#7880b8" opacity="0.57"/><ellipse cx="223.1" cy="380.0" rx="3.1" ry="2.8" fill="#7278b0" opacity="0.71"/><ellipse cx="237.8" cy="378.9" rx="2.9" ry="2.6" fill="#8a8ec0" opacity="0.85"/><ellipse cx="242.2" cy="381.6" rx="3.3" ry="3.3" fill="#7880b8" opacity="0.80"/><ellipse cx="253.5" cy="382.1" rx="3.4" ry="2.8" fill="#7880b8" opacity="0.65"/><ellipse cx="257.4" cy="381.1" rx="2.8" ry="2.2" fill="#8680b8" opacity="0.70"/><ellipse cx="262.0" cy="381.7" rx="2.9" ry="3.0" fill="#8a8ec0" opacity="0.67"/><ellipse cx="181.5" cy="385.2" rx="2.9" ry="2.4" fill="#8680b8" opacity="0.56"/><ellipse cx="188.6" cy="383.8" rx="2.7" ry="2.6" fill="#8088bc" opacity="0.78"/><ellipse cx="194.0" cy="385.0" rx="2.5" ry="2.0" fill="#8680b8" opacity="0.53"/><ellipse cx="197.6" cy="384.3" rx="2.5" ry="2.3" fill="#8a8ec0" opacity="0.73"/><ellipse cx="203.0" cy="383.6" rx="2.7" ry="2.5" fill="#8a8ec0" opacity="0.58"/><ellipse cx="211.8" cy="385.3" rx="2.5" ry="2.2" fill="#8088bc" opacity="0.81"/><ellipse cx="214.3" cy="383.9" rx="3.1" ry="2.4" fill="#7880b8" opacity="0.59"/><ellipse cx="220.1" cy="387.7" rx="2.8" ry="2.7" fill="#8a8ec0" opacity="0.53"/><ellipse cx="227.7" cy="385.0" rx="3.3" ry="2.9" fill="#8088bc" opacity="0.72"/><ellipse cx="234.9" cy="385.4" rx="3.1" ry="2.9" fill="#8680b8" opacity="0.70"/><ellipse cx="237.9" cy="384.5" rx="2.7" ry="2.1" fill="#8088bc" opacity="0.54"/><ellipse cx="244.1" cy="386.0" rx="2.7" ry="2.2" fill="#7278b0" opacity="0.67"/><ellipse cx="251.1" cy="383.9" rx="3.4" ry="2.9" fill="#8680b8" opacity="0.78"/><ellipse cx="253.5" cy="384.9" rx="3.1" ry="2.5" fill="#8088bc" opacity="0.55"/><ellipse cx="262.5" cy="387.0" rx="2.8" ry="2.3" fill="#7278b0" opacity="0.78"/><ellipse cx="187.7" cy="389.8" rx="2.7" ry="2.6" fill="#8680b8" opacity="0.83"/><ellipse cx="193.1" cy="392.0" rx="2.8" ry="2.6" fill="#7278b0" opacity="0.66"/><ellipse cx="196.5" cy="393.3" rx="2.8" ry="2.6" fill="#7880b8" opacity="0.66"/><ellipse cx="203.3" cy="392.8" rx="3.2" ry="3.0" fill="#8680b8" opacity="0.77"/><ellipse cx="210.2" cy="393.2" rx="3.1" ry="3.0" fill="#8680b8" opacity="0.59"/><ellipse cx="213.9" cy="390.8" rx="2.6" ry="2.5" fill="#8a8ec0" opacity="0.61"/><ellipse cx="219.8" cy="393.2" rx="3.3" ry="3.1" fill="#8a8ec0" opacity="0.63"/><ellipse cx="225.7" cy="392.0" rx="2.9" ry="2.2" fill="#8088bc" opacity="0.81"/><ellipse cx="231.0" cy="393.2" rx="3.2" ry="2.5" fill="#8088bc" opacity="0.67"/><ellipse cx="237.5" cy="389.9" rx="3.1" ry="2.4" fill="#8088bc" opacity="0.84"/><ellipse cx="241.4" cy="391.3" rx="2.9" ry="2.8" fill="#7278b0" opacity="0.57"/><ellipse cx="245.5" cy="391.3" rx="2.7" ry="2.1" fill="#7880b8" opacity="0.65"/><ellipse cx="254.8" cy="391.2" rx="2.8" ry="2.5" fill="#8088bc" opacity="0.82"/><ellipse cx="259.9" cy="393.4" rx="2.4" ry="2.1" fill="#8088bc" opacity="0.76"/><ellipse cx="263.5" cy="389.2" rx="3.2" ry="3.3" fill="#8a8ec0" opacity="0.73"/><ellipse cx="180.9" cy="397.2" rx="3.0" ry="2.4" fill="#8088bc" opacity="0.51"/><ellipse cx="189.7" cy="399.0" rx="3.1" ry="3.0" fill="#8680b8" opacity="0.73"/><ellipse cx="199.4" cy="397.3" rx="2.4" ry="1.9" fill="#7880b8" opacity="0.79"/><ellipse cx="204.0" cy="394.8" rx="3.4" ry="2.8" fill="#8680b8" opacity="0.65"/><ellipse cx="211.1" cy="398.5" rx="3.2" ry="3.0" fill="#8680b8" opacity="0.78"/><ellipse cx="215.9" cy="396.5" rx="2.6" ry="2.6" fill="#8680b8" opacity="0.55"/><ellipse cx="220.5" cy="398.0" rx="2.5" ry="2.1" fill="#8a8ec0" opacity="0.59"/><ellipse cx="226.6" cy="396.9" rx="2.5" ry="2.0" fill="#8680b8" opacity="0.57"/><ellipse cx="231.8" cy="396.7" rx="3.3" ry="3.0" fill="#8088bc" opacity="0.64"/><ellipse cx="242.8" cy="397.7" rx="2.4" ry="2.1" fill="#8680b8" opacity="0.55"/><ellipse cx="250.2" cy="395.1" rx="2.6" ry="2.3" fill="#7278b0" opacity="0.73"/><ellipse cx="257.1" cy="395.8" rx="3.1" ry="2.7" fill="#8a8ec0" opacity="0.53"/><ellipse cx="261.0" cy="396.1" rx="3.2" ry="3.0" fill="#8a8ec0" opacity="0.76"/><ellipse cx="183.6" cy="403.9" rx="2.6" ry="2.0" fill="#7880b8" opacity="0.79"/><ellipse cx="191.8" cy="401.5" rx="2.6" ry="2.4" fill="#8088bc" opacity="0.82"/><ellipse cx="196.3" cy="404.5" rx="2.5" ry="2.4" fill="#7880b8" opacity="0.50"/><ellipse cx="204.6" cy="402.9" rx="3.1" ry="2.8" fill="#8088bc" opacity="0.51"/><ellipse cx="209.9" cy="402.6" rx="3.3" ry="3.4" fill="#8a8ec0" opacity="0.65"/><ellipse cx="214.4" cy="404.1" rx="2.6" ry="2.0" fill="#7278b0" opacity="0.67"/><ellipse cx="219.4" cy="404.5" rx="3.3" ry="2.6" fill="#7278b0" opacity="0.51"/><ellipse cx="223.4" cy="401.1" rx="2.9" ry="2.9" fill="#8088bc" opacity="0.63"/><ellipse cx="232.1" cy="404.8" rx="3.2" ry="2.4" fill="#8680b8" opacity="0.66"/><ellipse cx="234.4" cy="404.4" rx="2.7" ry="2.0" fill="#8680b8" opacity="0.85"/><ellipse cx="243.8" cy="403.9" rx="3.2" ry="3.1" fill="#7278b0" opacity="0.82"/><ellipse cx="245.2" cy="404.6" rx="3.3" ry="2.5" fill="#8088bc" opacity="0.76"/><ellipse cx="253.0" cy="404.8" rx="2.5" ry="2.3" fill="#7278b0" opacity="0.63"/><ellipse cx="259.7" cy="402.9" rx="2.5" ry="2.3" fill="#8a8ec0" opacity="0.82"/><ellipse cx="265.1" cy="400.5" rx="2.8" ry="2.1" fill="#8680b8" opacity="0.53"/><ellipse cx="182.8" cy="409.6" rx="2.4" ry="1.9" fill="#8680b8" opacity="0.57"/><ellipse cx="186.6" cy="407.4" rx="2.9" ry="2.9" fill="#8680b8" opacity="0.80"/><ellipse cx="194.9" cy="409.4" rx="2.6" ry="2.6" fill="#8a8ec0" opacity="0.64"/><ellipse cx="200.1" cy="406.3" rx="2.6" ry="2.6" fill="#8a8ec0" opacity="0.53"/><ellipse cx="205.8" cy="407.0" rx="2.5" ry="2.4" fill="#8088bc" opacity="0.68"/><ellipse cx="208.9" cy="407.4" rx="3.3" ry="3.4" fill="#8a8ec0" opacity="0.65"/><ellipse cx="214.3" cy="410.4" rx="2.8" ry="2.3" fill="#8680b8" opacity="0.75"/><ellipse cx="224.1" cy="406.8" rx="2.5" ry="2.0" fill="#8a8ec0" opacity="0.54"/><ellipse cx="228.9" cy="407.6" rx="2.9" ry="2.9" fill="#7880b8" opacity="0.62"/><ellipse cx="237.3" cy="410.0" rx="2.4" ry="2.0" fill="#8088bc" opacity="0.68"/><ellipse cx="248.7" cy="407.3" rx="2.9" ry="2.5" fill="#8088bc" opacity="0.73"/><ellipse cx="254.2" cy="408.8" rx="3.4" ry="3.1" fill="#7278b0" opacity="0.63"/></g></g><rect x="180.0" y="327.0" width="82.0" height="81.0" filter="url(#mem1)"/><rect x="228.10" y="398.20" width="32.40" height="7.20" fill="#fff"/><line x1="230.60" y1="405.90" x2="258.00" y2="405.90" stroke="#444" stroke-width="0.9"/><text x="244.30" y="403.70" font-size="6" text-anchor="middle" class="n">50 μm</text><rect x="265.8" y="327.0" width="80.4" height="81.0" filter="url(#bg2)"/><g clip-path="url(#cp2)"><g filter="url(#soft)"><ellipse cx="342.7" cy="403.8" rx="1.7" ry="0.8" transform="rotate(150 342.7 403.8)" fill="#ecd8a0" opacity="0.70"/><ellipse cx="282.9" cy="329.9" rx="4.2" ry="2.0" transform="rotate(115 282.9 329.9)" fill="#ecd8a0" opacity="0.82"/><ellipse cx="301.6" cy="348.7" rx="1.6" ry="0.7" transform="rotate(84 301.6 348.7)" fill="#ecd8a0" opacity="0.96"/><ellipse cx="299.9" cy="398.6" rx="2.2" ry="0.9" transform="rotate(42 299.9 398.6)" fill="#d8b878" opacity="0.73"/><ellipse cx="276.8" cy="368.3" rx="5.5" ry="1.6" transform="rotate(33 276.8 368.3)" fill="#ecd8a0" opacity="0.92"/><ellipse cx="324.8" cy="400.4" rx="4.6" ry="1.7" transform="rotate(64 324.8 400.4)" fill="#ecd8a0" opacity="0.66"/><ellipse cx="326.4" cy="384.9" rx="3.3" ry="1.4" transform="rotate(88 326.4 384.9)" fill="#ecd8a0" opacity="0.80"/><ellipse cx="332.7" cy="355.7" rx="5.0" ry="1.9" transform="rotate(83 332.7 355.7)" fill="#ecd8a0" opacity="0.79"/><ellipse cx="283.6" cy="353.3" rx="4.3" ry="0.9" transform="rotate(163 283.6 353.3)" fill="#ecd8a0" opacity="0.91"/><ellipse cx="304.4" cy="351.6" rx="4.7" ry="1.8" transform="rotate(101 304.4 351.6)" fill="#ecd8a0" opacity="0.72"/><ellipse cx="282.5" cy="368.5" rx="5.2" ry="1.5" transform="rotate(14 282.5 368.5)" fill="#ecd8a0" opacity="0.89"/><ellipse cx="338.8" cy="342.5" rx="4.5" ry="0.8" transform="rotate(118 338.8 342.5)" fill="#ecd8a0" opacity="0.84"/><ellipse cx="320.7" cy="401.2" rx="4.5" ry="0.9" transform="rotate(48 320.7 401.2)" fill="#d8b878" opacity="0.98"/><ellipse cx="270.7" cy="399.7" rx="4.5" ry="0.8" transform="rotate(65 270.7 399.7)" fill="#d8b878" opacity="0.87"/><ellipse cx="273.0" cy="331.4" rx="2.4" ry="2.0" fill="#5e4460" opacity="0.50"/><ellipse cx="279.2" cy="330.7" rx="3.2" ry="2.6" fill="#6a4c68" opacity="0.45"/><ellipse cx="288.1" cy="329.2" rx="3.0" ry="2.7" fill="#684a64" opacity="0.54"/><ellipse cx="295.7" cy="330.1" rx="2.6" ry="2.5" fill="#684a64" opacity="0.49"/><ellipse cx="303.3" cy="330.3" rx="3.2" ry="2.9" fill="#7a5a78" opacity="0.76"/><ellipse cx="307.9" cy="329.8" rx="2.4" ry="2.2" fill="#6a4c68" opacity="0.47"/><ellipse cx="312.1" cy="330.0" rx="2.6" ry="2.7" fill="#5e4460" opacity="0.46"/><ellipse cx="319.9" cy="328.9" rx="3.0" ry="2.8" fill="#7a5a78" opacity="0.70"/><ellipse cx="325.5" cy="331.5" rx="2.6" ry="2.2" fill="#6a4c68" opacity="0.63"/><ellipse cx="331.0" cy="328.6" rx="2.6" ry="2.1" fill="#7a5a78" opacity="0.61"/><ellipse cx="338.8" cy="331.1" rx="3.2" ry="2.6" fill="#6a4c68" opacity="0.60"/><ellipse cx="343.5" cy="329.8" rx="2.9" ry="2.4" fill="#7a5a78" opacity="0.73"/><ellipse cx="276.6" cy="335.9" rx="3.1" ry="3.2" fill="#684a64" opacity="0.76"/><ellipse cx="293.1" cy="337.5" rx="2.4" ry="2.1" fill="#5e4460" opacity="0.62"/><ellipse cx="298.4" cy="334.1" rx="2.4" ry="2.0" fill="#684a64" opacity="0.53"/><ellipse cx="304.6" cy="336.0" rx="2.9" ry="2.8" fill="#6a4c68" opacity="0.49"/><ellipse cx="311.2" cy="335.8" rx="2.8" ry="2.3" fill="#684a64" opacity="0.67"/><ellipse cx="318.1" cy="336.6" rx="2.8" ry="2.4" fill="#684a64" opacity="0.54"/><ellipse cx="324.6" cy="336.2" rx="2.9" ry="2.8" fill="#7a5a78" opacity="0.50"/><ellipse cx="330.8" cy="337.6" rx="2.5" ry="2.4" fill="#5e4460" opacity="0.47"/><ellipse cx="334.4" cy="336.2" rx="2.5" ry="1.9" fill="#6a4c68" opacity="0.80"/><ellipse cx="341.6" cy="335.2" rx="3.1" ry="2.9" fill="#6a4c68" opacity="0.63"/><ellipse cx="351.5" cy="339.0" rx="2.8" ry="2.4" fill="#5e4460" opacity="0.63"/><ellipse cx="268.8" cy="344.0" rx="2.8" ry="2.9" fill="#5e4460" opacity="0.65"/><ellipse cx="276.5" cy="344.6" rx="2.8" ry="2.7" fill="#7a5a78" opacity="0.47"/><ellipse cx="282.9" cy="345.2" rx="3.1" ry="2.8" fill="#6a4c68" opacity="0.57"/><ellipse cx="290.0" cy="341.6" rx="3.0" ry="2.6" fill="#6a4c68" opacity="0.79"/><ellipse cx="294.7" cy="345.1" rx="2.9" ry="2.3" fill="#5e4460" opacity="0.59"/><ellipse cx="301.5" cy="345.1" rx="3.3" ry="2.6" fill="#5e4460" opacity="0.72"/><ellipse cx="309.6" cy="343.4" rx="2.9" ry="2.7" fill="#684a64" opacity="0.69"/><ellipse cx="314.1" cy="342.8" rx="2.6" ry="2.7" fill="#684a64" opacity="0.45"/><ellipse cx="321.1" cy="340.8" rx="3.0" ry="3.1" fill="#684a64" opacity="0.61"/><ellipse cx="337.7" cy="344.3" rx="3.2" ry="2.8" fill="#5e4460" opacity="0.73"/><ellipse cx="274.7" cy="350.3" rx="2.6" ry="2.1" fill="#6a4c68" opacity="0.45"/><ellipse cx="278.0" cy="349.1" rx="3.3" ry="2.8" fill="#7a5a78" opacity="0.62"/><ellipse cx="290.4" cy="350.1" rx="3.2" ry="3.0" fill="#6a4c68" opacity="0.74"/><ellipse cx="296.3" cy="349.9" rx="3.2" ry="2.6" fill="#6a4c68" opacity="0.48"/><ellipse cx="304.0" cy="348.0" rx="2.7" ry="2.8" fill="#684a64" opacity="0.74"/><ellipse cx="309.1" cy="348.7" rx="2.7" ry="2.3" fill="#684a64" opacity="0.75"/><ellipse cx="319.2" cy="349.1" rx="3.0" ry="3.1" fill="#5e4460" opacity="0.48"/><ellipse cx="324.7" cy="351.2" rx="2.6" ry="2.0" fill="#684a64" opacity="0.54"/><ellipse cx="331.5" cy="348.6" rx="3.3" ry="3.4" fill="#7a5a78" opacity="0.69"/><ellipse cx="337.5" cy="351.3" rx="3.3" ry="3.3" fill="#6a4c68" opacity="0.55"/><ellipse cx="342.1" cy="347.7" rx="3.4" ry="2.9" fill="#5e4460" opacity="0.76"/><ellipse cx="348.4" cy="351.8" rx="2.5" ry="2.0" fill="#684a64" opacity="0.76"/><ellipse cx="277.1" cy="356.3" rx="2.9" ry="2.6" fill="#5e4460" opacity="0.58"/><ellipse cx="279.7" cy="354.0" rx="2.6" ry="2.1" fill="#7a5a78" opacity="0.54"/><ellipse cx="289.3" cy="357.0" rx="2.4" ry="2.5" fill="#5e4460" opacity="0.66"/><ellipse cx="292.4" cy="355.5" rx="2.7" ry="2.3" fill="#684a64" opacity="0.49"/><ellipse cx="298.7" cy="357.2" rx="2.9" ry="2.9" fill="#6a4c68" opacity="0.67"/><ellipse cx="307.6" cy="358.3" rx="3.4" ry="3.4" fill="#684a64" opacity="0.59"/><ellipse cx="324.7" cy="358.0" rx="3.1" ry="3.2" fill="#6a4c68" opacity="0.56"/><ellipse cx="333.9" cy="354.4" rx="2.4" ry="2.1" fill="#684a64" opacity="0.57"/><ellipse cx="344.5" cy="355.7" rx="3.0" ry="2.3" fill="#5e4460" opacity="0.47"/><ellipse cx="269.7" cy="363.8" rx="2.7" ry="2.5" fill="#6a4c68" opacity="0.58"/><ellipse cx="276.6" cy="360.2" rx="2.6" ry="2.0" fill="#684a64" opacity="0.58"/><ellipse cx="286.1" cy="362.2" rx="3.3" ry="2.6" fill="#5e4460" opacity="0.74"/><ellipse cx="289.9" cy="361.4" rx="2.5" ry="2.0" fill="#6a4c68" opacity="0.55"/><ellipse cx="297.7" cy="361.1" rx="3.2" ry="3.3" fill="#6a4c68" opacity="0.70"/><ellipse cx="309.1" cy="360.6" rx="3.0" ry="2.8" fill="#684a64" opacity="0.71"/><ellipse cx="318.2" cy="364.0" rx="2.6" ry="2.1" fill="#6a4c68" opacity="0.69"/><ellipse cx="324.4" cy="364.3" rx="3.2" ry="2.5" fill="#7a5a78" opacity="0.75"/><ellipse cx="328.0" cy="361.3" rx="3.2" ry="3.2" fill="#684a64" opacity="0.47"/><ellipse cx="333.8" cy="361.2" rx="3.3" ry="3.1" fill="#6a4c68" opacity="0.78"/><ellipse cx="341.7" cy="362.4" rx="2.8" ry="2.5" fill="#5e4460" opacity="0.52"/><ellipse cx="350.5" cy="361.9" rx="2.9" ry="2.4" fill="#5e4460" opacity="0.54"/><ellipse cx="268.7" cy="369.9" rx="3.3" ry="2.8" fill="#684a64" opacity="0.58"/><ellipse cx="276.0" cy="369.4" rx="3.3" ry="3.1" fill="#7a5a78" opacity="0.52"/><ellipse cx="285.8" cy="371.1" rx="2.5" ry="2.2" fill="#684a64" opacity="0.68"/><ellipse cx="302.1" cy="367.5" rx="3.0" ry="2.4" fill="#6a4c68" opacity="0.72"/><ellipse cx="307.1" cy="367.5" rx="2.5" ry="2.2" fill="#7a5a78" opacity="0.53"/><ellipse cx="315.6" cy="367.2" rx="3.0" ry="3.1" fill="#684a64" opacity="0.67"/><ellipse cx="318.8" cy="367.1" rx="2.5" ry="2.3" fill="#684a64" opacity="0.67"/><ellipse cx="324.7" cy="368.4" rx="2.8" ry="2.9" fill="#6a4c68" opacity="0.53"/><ellipse cx="334.6" cy="366.5" rx="3.3" ry="3.2" fill="#684a64" opacity="0.70"/><ellipse cx="338.2" cy="367.9" rx="2.8" ry="2.9" fill="#684a64" opacity="0.47"/><ellipse cx="344.4" cy="366.2" rx="2.9" ry="2.3" fill="#6a4c68" opacity="0.56"/><ellipse cx="272.9" cy="377.3" rx="2.5" ry="2.3" fill="#684a64" opacity="0.68"/><ellipse cx="276.2" cy="375.1" rx="2.7" ry="2.0" fill="#6a4c68" opacity="0.72"/><ellipse cx="283.0" cy="376.5" rx="2.8" ry="2.9" fill="#7a5a78" opacity="0.73"/><ellipse cx="293.8" cy="372.6" rx="2.7" ry="2.7" fill="#6a4c68" opacity="0.69"/><ellipse cx="295.6" cy="375.2" rx="3.0" ry="2.7" fill="#5e4460" opacity="0.73"/><ellipse cx="301.7" cy="376.3" rx="3.1" ry="2.7" fill="#6a4c68" opacity="0.46"/><ellipse cx="310.9" cy="377.2" rx="2.6" ry="2.0" fill="#6a4c68" opacity="0.78"/><ellipse cx="317.3" cy="373.0" rx="3.1" ry="2.4" fill="#5e4460" opacity="0.65"/><ellipse cx="329.9" cy="374.5" rx="3.3" ry="2.6" fill="#7a5a78" opacity="0.61"/><ellipse cx="341.0" cy="376.6" rx="3.3" ry="3.1" fill="#684a64" opacity="0.75"/><ellipse cx="349.5" cy="373.1" rx="2.8" ry="2.1" fill="#684a64" opacity="0.79"/><ellipse cx="267.7" cy="381.1" rx="2.9" ry="2.5" fill="#6a4c68" opacity="0.53"/><ellipse cx="276.0" cy="379.0" rx="2.7" ry="2.7" fill="#7a5a78" opacity="0.64"/><ellipse cx="280.5" cy="382.5" rx="2.8" ry="2.8" fill="#5e4460" opacity="0.68"/><ellipse cx="290.5" cy="382.7" rx="2.8" ry="2.5" fill="#684a64" opacity="0.71"/><ellipse cx="301.6" cy="381.2" rx="3.4" ry="3.5" fill="#7a5a78" opacity="0.67"/><ellipse cx="307.7" cy="379.7" rx="2.6" ry="2.7" fill="#5e4460" opacity="0.61"/><ellipse cx="315.9" cy="381.8" rx="2.8" ry="2.6" fill="#7a5a78" opacity="0.76"/><ellipse cx="319.7" cy="379.0" rx="2.9" ry="2.2" fill="#7a5a78" opacity="0.58"/><ellipse cx="325.0" cy="383.1" rx="2.7" ry="2.1" fill="#5e4460" opacity="0.59"/><ellipse cx="330.9" cy="378.9" rx="2.4" ry="2.2" fill="#7a5a78" opacity="0.47"/><ellipse cx="340.2" cy="382.0" rx="2.4" ry="2.2" fill="#7a5a78" opacity="0.52"/><ellipse cx="344.8" cy="383.1" rx="3.0" ry="2.9" fill="#5e4460" opacity="0.55"/><ellipse cx="270.9" cy="389.6" rx="3.4" ry="2.7" fill="#5e4460" opacity="0.73"/><ellipse cx="278.4" cy="387.3" rx="2.7" ry="2.2" fill="#684a64" opacity="0.45"/><ellipse cx="285.8" cy="388.7" rx="3.1" ry="2.9" fill="#6a4c68" opacity="0.62"/><ellipse cx="289.5" cy="386.3" rx="3.1" ry="2.3" fill="#5e4460" opacity="0.72"/><ellipse cx="296.6" cy="388.4" rx="2.4" ry="2.1" fill="#7a5a78" opacity="0.46"/><ellipse cx="302.3" cy="390.1" rx="2.6" ry="2.6" fill="#6a4c68" opacity="0.61"/><ellipse cx="312.5" cy="388.0" rx="3.3" ry="3.4" fill="#6a4c68" opacity="0.55"/><ellipse cx="317.3" cy="385.6" rx="3.3" ry="2.7" fill="#6a4c68" opacity="0.77"/><ellipse cx="323.2" cy="385.6" rx="3.4" ry="3.4" fill="#6a4c68" opacity="0.56"/><ellipse cx="328.0" cy="390.0" rx="2.4" ry="1.9" fill="#5e4460" opacity="0.72"/><ellipse cx="338.5" cy="389.0" rx="2.6" ry="2.4" fill="#5e4460" opacity="0.46"/><ellipse cx="344.4" cy="389.1" rx="2.5" ry="2.5" fill="#684a64" opacity="0.69"/><ellipse cx="348.0" cy="389.8" rx="2.6" ry="2.5" fill="#5e4460" opacity="0.48"/><ellipse cx="270.8" cy="392.4" rx="2.7" ry="2.5" fill="#6a4c68" opacity="0.64"/><ellipse cx="274.0" cy="395.4" rx="3.1" ry="3.1" fill="#684a64" opacity="0.76"/><ellipse cx="282.6" cy="391.8" rx="3.4" ry="3.0" fill="#5e4460" opacity="0.65"/><ellipse cx="286.2" cy="396.1" rx="2.5" ry="2.6" fill="#5e4460" opacity="0.72"/><ellipse cx="295.2" cy="395.2" rx="2.5" ry="2.3" fill="#5e4460" opacity="0.67"/><ellipse cx="301.6" cy="395.3" rx="2.9" ry="2.5" fill="#684a64" opacity="0.53"/><ellipse cx="307.2" cy="393.2" rx="2.4" ry="1.9" fill="#7a5a78" opacity="0.49"/><ellipse cx="312.5" cy="393.8" rx="2.4" ry="2.0" fill="#5e4460" opacity="0.70"/><ellipse cx="322.7" cy="394.9" rx="3.2" ry="2.8" fill="#6a4c68" opacity="0.45"/><ellipse cx="325.0" cy="391.6" rx="3.2" ry="2.8" fill="#7a5a78" opacity="0.50"/><ellipse cx="334.6" cy="394.6" rx="3.4" ry="3.5" fill="#684a64" opacity="0.65"/><ellipse cx="341.2" cy="395.6" rx="3.4" ry="2.7" fill="#684a64" opacity="0.55"/><ellipse cx="346.2" cy="393.3" rx="2.5" ry="1.9" fill="#684a64" opacity="0.76"/><ellipse cx="274.2" cy="402.4" rx="2.9" ry="2.7" fill="#7a5a78" opacity="0.79"/><ellipse cx="279.8" cy="403.1" rx="2.8" ry="3.0" fill="#5e4460" opacity="0.63"/><ellipse cx="284.0" cy="400.4" rx="3.2" ry="2.5" fill="#6a4c68" opacity="0.52"/><ellipse cx="289.0" cy="400.0" rx="3.2" ry="2.6" fill="#5e4460" opacity="0.59"/><ellipse cx="300.0" cy="401.0" rx="3.2" ry="2.9" fill="#7a5a78" opacity="0.55"/><ellipse cx="304.9" cy="403.0" rx="2.9" ry="2.8" fill="#7a5a78" opacity="0.62"/><ellipse cx="311.8" cy="402.7" rx="2.4" ry="2.1" fill="#7a5a78" opacity="0.52"/><ellipse cx="316.7" cy="401.5" rx="3.3" ry="2.5" fill="#5e4460" opacity="0.60"/><ellipse cx="324.4" cy="400.5" rx="2.8" ry="3.0" fill="#6a4c68" opacity="0.79"/><ellipse cx="331.5" cy="403.0" rx="3.0" ry="2.3" fill="#684a64" opacity="0.79"/><ellipse cx="337.1" cy="402.0" rx="3.1" ry="2.6" fill="#6a4c68" opacity="0.48"/><ellipse cx="344.4" cy="402.0" rx="3.3" ry="2.5" fill="#6a4c68" opacity="0.54"/><ellipse cx="346.5" cy="399.8" rx="2.7" ry="2.3" fill="#5e4460" opacity="0.67"/><ellipse cx="267.7" cy="409.0" rx="3.3" ry="3.2" fill="#7a5a78" opacity="0.46"/><ellipse cx="279.5" cy="408.6" rx="2.6" ry="2.6" fill="#5e4460" opacity="0.73"/><ellipse cx="288.6" cy="407.7" rx="2.7" ry="2.6" fill="#5e4460" opacity="0.52"/><ellipse cx="296.9" cy="409.5" rx="2.8" ry="2.6" fill="#6a4c68" opacity="0.59"/><ellipse cx="307.7" cy="407.8" rx="2.7" ry="2.6" fill="#6a4c68" opacity="0.80"/><ellipse cx="316.2" cy="409.5" rx="2.9" ry="2.3" fill="#684a64" opacity="0.55"/><ellipse cx="319.8" cy="407.7" rx="2.5" ry="2.3" fill="#5e4460" opacity="0.53"/><ellipse cx="337.0" cy="406.4" rx="2.9" ry="2.6" fill="#6a4c68" opacity="0.78"/><ellipse cx="344.8" cy="405.1" rx="3.0" ry="2.7" fill="#6a4c68" opacity="0.45"/></g></g><rect x="265.8" y="327.0" width="80.4" height="81.0" filter="url(#mem2)"/><rect x="312.30" y="398.20" width="32.40" height="7.20" fill="#fff"/><line x1="314.80" y1="405.90" x2="342.20" y2="405.90" stroke="#444" stroke-width="0.9"/><text x="328.50" y="403.70" font-size="6" text-anchor="middle" class="n">50 μm</text><rect x="354.0" y="327.0" width="80.4" height="81.0" filter="url(#bg3)"/><g clip-path="url(#cp3)"><g filter="url(#soft)"><ellipse cx="357.0" cy="329.2" rx="3.0" ry="2.8" fill="#7278b0" opacity="0.50"/><ellipse cx="361.2" cy="332.0" rx="2.9" ry="2.9" fill="#8088bc" opacity="0.72"/><ellipse cx="366.4" cy="331.7" rx="2.8" ry="2.1" fill="#8680b8" opacity="0.56"/><ellipse cx="380.6" cy="328.8" rx="3.0" ry="3.1" fill="#7278b0" opacity="0.78"/><ellipse cx="386.1" cy="329.6" rx="3.3" ry="3.4" fill="#8088bc" opacity="0.55"/><ellipse cx="391.2" cy="331.0" rx="3.3" ry="2.9" fill="#8680b8" opacity="0.70"/><ellipse cx="396.4" cy="331.6" rx="3.1" ry="3.2" fill="#8088bc" opacity="0.85"/><ellipse cx="400.8" cy="330.0" rx="3.0" ry="2.3" fill="#8680b8" opacity="0.72"/><ellipse cx="405.5" cy="329.7" rx="3.0" ry="2.7" fill="#8088bc" opacity="0.52"/><ellipse cx="418.0" cy="328.1" rx="3.0" ry="2.9" fill="#8680b8" opacity="0.71"/><ellipse cx="426.2" cy="329.8" rx="3.4" ry="2.9" fill="#7880b8" opacity="0.71"/><ellipse cx="431.7" cy="328.9" rx="2.7" ry="2.5" fill="#8a8ec0" opacity="0.62"/><ellipse cx="437.0" cy="329.3" rx="2.9" ry="2.6" fill="#8680b8" opacity="0.71"/><ellipse cx="366.6" cy="334.4" rx="3.0" ry="2.9" fill="#8a8ec0" opacity="0.65"/><ellipse cx="371.0" cy="333.2" rx="2.8" ry="2.6" fill="#8088bc" opacity="0.72"/><ellipse cx="381.8" cy="336.2" rx="2.8" ry="2.6" fill="#7880b8" opacity="0.51"/><ellipse cx="385.5" cy="334.8" rx="3.0" ry="2.5" fill="#8088bc" opacity="0.56"/><ellipse cx="392.6" cy="335.8" rx="2.7" ry="2.3" fill="#8680b8" opacity="0.51"/><ellipse cx="397.1" cy="335.4" rx="3.1" ry="2.5" fill="#7880b8" opacity="0.74"/><ellipse cx="409.3" cy="336.9" rx="2.8" ry="2.9" fill="#8088bc" opacity="0.62"/><ellipse cx="415.4" cy="334.2" rx="2.5" ry="2.3" fill="#8680b8" opacity="0.78"/><ellipse cx="420.2" cy="336.8" rx="3.0" ry="3.0" fill="#8a8ec0" opacity="0.55"/><ellipse cx="428.4" cy="335.2" rx="3.0" ry="2.5" fill="#7278b0" opacity="0.51"/><ellipse cx="430.2" cy="337.4" rx="3.3" ry="3.4" fill="#8088bc" opacity="0.83"/><ellipse cx="357.9" cy="342.1" rx="3.4" ry="3.1" fill="#8680b8" opacity="0.80"/><ellipse cx="360.7" cy="339.9" rx="2.4" ry="2.4" fill="#7278b0" opacity="0.57"/><ellipse cx="365.8" cy="342.1" rx="2.6" ry="2.2" fill="#7278b0" opacity="0.68"/><ellipse cx="377.5" cy="339.3" rx="3.4" ry="3.1" fill="#8088bc" opacity="0.52"/><ellipse cx="385.0" cy="342.4" rx="2.6" ry="2.5" fill="#7880b8" opacity="0.78"/><ellipse cx="390.7" cy="340.6" rx="3.2" ry="2.6" fill="#7880b8" opacity="0.68"/><ellipse cx="397.2" cy="338.8" rx="2.5" ry="1.9" fill="#7880b8" opacity="0.52"/><ellipse cx="399.7" cy="341.0" rx="2.7" ry="2.3" fill="#8680b8" opacity="0.73"/><ellipse cx="406.1" cy="343.2" rx="2.8" ry="2.2" fill="#7880b8" opacity="0.75"/><ellipse cx="410.8" cy="340.8" rx="3.1" ry="2.8" fill="#7278b0" opacity="0.52"/><ellipse cx="425.2" cy="340.2" rx="3.4" ry="2.9" fill="#8a8ec0" opacity="0.58"/><ellipse cx="427.7" cy="340.7" rx="2.8" ry="2.9" fill="#8680b8" opacity="0.63"/><ellipse cx="434.1" cy="340.8" rx="2.5" ry="2.5" fill="#7278b0" opacity="0.81"/><ellipse cx="360.6" cy="346.9" rx="2.5" ry="2.3" fill="#7278b0" opacity="0.55"/><ellipse cx="380.6" cy="344.5" rx="3.2" ry="2.5" fill="#8a8ec0" opacity="0.74"/><ellipse cx="388.9" cy="344.5" rx="3.2" ry="2.9" fill="#7880b8" opacity="0.54"/><ellipse cx="391.2" cy="345.8" rx="3.0" ry="3.0" fill="#8088bc" opacity="0.56"/><ellipse cx="399.7" cy="348.6" rx="2.7" ry="2.5" fill="#7880b8" opacity="0.69"/><ellipse cx="403.2" cy="348.5" rx="3.2" ry="3.4" fill="#8680b8" opacity="0.70"/><ellipse cx="410.1" cy="346.5" rx="3.0" ry="3.1" fill="#7278b0" opacity="0.53"/><ellipse cx="415.7" cy="346.3" rx="3.1" ry="2.5" fill="#8680b8" opacity="0.57"/><ellipse cx="423.1" cy="348.2" rx="2.9" ry="2.9" fill="#8680b8" opacity="0.80"/><ellipse cx="427.2" cy="345.6" rx="2.6" ry="2.0" fill="#8088bc" opacity="0.63"/><ellipse cx="431.2" cy="346.5" rx="3.3" ry="2.9" fill="#8088bc" opacity="0.75"/><ellipse cx="439.5" cy="348.0" rx="3.0" ry="2.6" fill="#7278b0" opacity="0.80"/><ellipse cx="358.5" cy="350.2" rx="3.3" ry="3.4" fill="#7880b8" opacity="0.77"/><ellipse cx="364.0" cy="351.0" rx="2.6" ry="2.1" fill="#7880b8" opacity="0.75"/><ellipse cx="366.9" cy="353.8" rx="2.7" ry="2.4" fill="#7880b8" opacity="0.53"/><ellipse cx="375.5" cy="350.1" rx="2.9" ry="2.8" fill="#8a8ec0" opacity="0.51"/><ellipse cx="379.1" cy="350.9" rx="3.0" ry="3.1" fill="#7880b8" opacity="0.69"/><ellipse cx="382.9" cy="351.9" rx="2.8" ry="2.6" fill="#8a8ec0" opacity="0.68"/><ellipse cx="389.8" cy="352.0" rx="3.1" ry="2.9" fill="#7880b8" opacity="0.79"/><ellipse cx="398.1" cy="353.0" rx="2.9" ry="2.3" fill="#8a8ec0" opacity="0.62"/><ellipse cx="401.9" cy="350.8" rx="3.0" ry="2.9" fill="#7278b0" opacity="0.81"/><ellipse cx="409.1" cy="350.6" rx="2.7" ry="2.6" fill="#8088bc" opacity="0.69"/><ellipse cx="412.0" cy="350.8" rx="2.5" ry="2.4" fill="#7278b0" opacity="0.69"/><ellipse cx="417.4" cy="351.7" rx="3.3" ry="2.5" fill="#8680b8" opacity="0.59"/><ellipse cx="423.3" cy="351.8" rx="2.9" ry="2.9" fill="#7880b8" opacity="0.80"/><ellipse cx="430.0" cy="353.0" rx="3.0" ry="3.0" fill="#8680b8" opacity="0.74"/><ellipse cx="436.3" cy="353.6" rx="3.1" ry="2.9" fill="#8088bc" opacity="0.64"/><ellipse cx="358.1" cy="356.4" rx="3.3" ry="2.8" fill="#7278b0" opacity="0.79"/><ellipse cx="367.2" cy="357.3" rx="3.0" ry="2.7" fill="#8a8ec0" opacity="0.84"/><ellipse cx="371.6" cy="355.7" rx="2.6" ry="2.4" fill="#8088bc" opacity="0.76"/><ellipse cx="376.5" cy="357.6" rx="2.6" ry="2.4" fill="#7278b0" opacity="0.68"/><ellipse cx="388.3" cy="356.2" rx="2.9" ry="2.2" fill="#8680b8" opacity="0.51"/><ellipse cx="391.3" cy="358.0" rx="3.3" ry="2.8" fill="#8088bc" opacity="0.74"/><ellipse cx="405.6" cy="355.7" rx="2.5" ry="2.6" fill="#7880b8" opacity="0.57"/><ellipse cx="409.7" cy="359.0" rx="2.9" ry="2.3" fill="#8088bc" opacity="0.53"/><ellipse cx="415.1" cy="357.7" rx="2.5" ry="2.5" fill="#7880b8" opacity="0.67"/><ellipse cx="422.4" cy="357.4" rx="2.6" ry="2.6" fill="#8a8ec0" opacity="0.63"/><ellipse cx="426.2" cy="357.4" rx="3.4" ry="3.3" fill="#7278b0" opacity="0.63"/><ellipse cx="430.9" cy="355.7" rx="3.0" ry="2.7" fill="#8680b8" opacity="0.55"/><ellipse cx="438.0" cy="355.8" rx="2.4" ry="2.1" fill="#7880b8" opacity="0.75"/><ellipse cx="354.7" cy="363.4" rx="3.3" ry="3.4" fill="#8088bc" opacity="0.64"/><ellipse cx="362.9" cy="362.7" rx="2.5" ry="1.9" fill="#7278b0" opacity="0.60"/><ellipse cx="370.1" cy="363.3" rx="3.0" ry="2.2" fill="#8a8ec0" opacity="0.85"/><ellipse cx="381.3" cy="363.8" rx="2.4" ry="1.8" fill="#7880b8" opacity="0.56"/><ellipse cx="383.4" cy="363.4" rx="2.7" ry="2.8" fill="#7278b0" opacity="0.62"/><ellipse cx="392.4" cy="361.3" rx="2.7" ry="2.5" fill="#8a8ec0" opacity="0.53"/><ellipse cx="395.6" cy="363.4" rx="2.9" ry="2.7" fill="#7278b0" opacity="0.64"/><ellipse cx="401.8" cy="365.3" rx="2.8" ry="2.4" fill="#7278b0" opacity="0.77"/><ellipse cx="408.6" cy="363.4" rx="3.2" ry="3.2" fill="#7880b8" opacity="0.83"/><ellipse cx="413.7" cy="361.3" rx="2.9" ry="2.8" fill="#8088bc" opacity="0.53"/><ellipse cx="419.8" cy="361.4" rx="3.0" ry="2.3" fill="#8a8ec0" opacity="0.80"/><ellipse cx="421.8" cy="362.0" rx="3.2" ry="3.3" fill="#7278b0" opacity="0.61"/><ellipse cx="434.0" cy="361.4" rx="2.6" ry="2.4" fill="#8088bc" opacity="0.50"/><ellipse cx="358.3" cy="370.6" rx="2.9" ry="2.6" fill="#8680b8" opacity="0.61"/><ellipse cx="365.1" cy="369.5" rx="2.4" ry="2.4" fill="#7880b8" opacity="0.80"/><ellipse cx="372.6" cy="367.1" rx="2.9" ry="2.3" fill="#7278b0" opacity="0.72"/><ellipse cx="378.1" cy="368.3" rx="3.0" ry="2.7" fill="#8680b8" opacity="0.79"/><ellipse cx="381.5" cy="367.3" rx="2.4" ry="2.0" fill="#8088bc" opacity="0.62"/><ellipse cx="385.7" cy="369.2" rx="3.1" ry="2.7" fill="#8088bc" opacity="0.71"/><ellipse cx="394.7" cy="367.0" rx="2.6" ry="2.3" fill="#8088bc" opacity="0.61"/><ellipse cx="400.5" cy="371.2" rx="3.0" ry="3.1" fill="#8088bc" opacity="0.65"/><ellipse cx="406.4" cy="368.9" rx="3.2" ry="2.8" fill="#8a8ec0" opacity="0.82"/><ellipse cx="407.8" cy="370.8" rx="2.4" ry="1.9" fill="#7278b0" opacity="0.52"/><ellipse cx="420.2" cy="368.7" rx="2.7" ry="2.7" fill="#7880b8" opacity="0.60"/><ellipse cx="428.6" cy="368.7" rx="2.6" ry="2.3" fill="#7278b0" opacity="0.60"/><ellipse cx="434.1" cy="368.4" rx="2.6" ry="2.2" fill="#8680b8" opacity="0.68"/><ellipse cx="440.0" cy="368.1" rx="2.4" ry="2.1" fill="#8088bc" opacity="0.79"/><ellipse cx="356.9" cy="372.4" rx="3.0" ry="2.4" fill="#7880b8" opacity="0.83"/><ellipse cx="363.6" cy="374.4" rx="3.4" ry="3.3" fill="#8088bc" opacity="0.51"/><ellipse cx="367.0" cy="376.4" rx="3.2" ry="3.0" fill="#8a8ec0" opacity="0.66"/><ellipse cx="375.0" cy="374.2" rx="2.7" ry="2.0" fill="#8088bc" opacity="0.72"/><ellipse cx="380.6" cy="373.5" rx="2.5" ry="2.5" fill="#8a8ec0" opacity="0.68"/><ellipse cx="383.8" cy="373.1" rx="2.4" ry="2.3" fill="#7278b0" opacity="0.82"/><ellipse cx="391.5" cy="376.2" rx="3.4" ry="3.1" fill="#8a8ec0" opacity="0.72"/><ellipse cx="396.8" cy="376.8" rx="2.9" ry="2.6" fill="#8a8ec0" opacity="0.66"/><ellipse cx="403.7" cy="373.1" rx="2.7" ry="2.5" fill="#7278b0" opacity="0.80"/><ellipse cx="407.7" cy="372.5" rx="3.0" ry="2.7" fill="#8a8ec0" opacity="0.60"/><ellipse cx="417.8" cy="374.7" rx="3.3" ry="3.4" fill="#8a8ec0" opacity="0.57"/><ellipse cx="423.5" cy="376.1" rx="2.7" ry="2.3" fill="#8a8ec0" opacity="0.83"/><ellipse cx="429.8" cy="372.5" rx="2.8" ry="2.5" fill="#8088bc" opacity="0.67"/><ellipse cx="436.1" cy="372.9" rx="3.0" ry="2.4" fill="#8a8ec0" opacity="0.81"/><ellipse cx="360.5" cy="379.9" rx="3.4" ry="3.0" fill="#8088bc" opacity="0.70"/><ellipse cx="367.2" cy="378.6" rx="3.3" ry="2.7" fill="#7880b8" opacity="0.74"/><ellipse cx="368.8" cy="381.4" rx="2.6" ry="2.1" fill="#7880b8" opacity="0.81"/><ellipse cx="374.8" cy="378.9" rx="3.2" ry="2.8" fill="#7880b8" opacity="0.51"/><ellipse cx="380.4" cy="378.5" rx="2.8" ry="2.8" fill="#8a8ec0" opacity="0.57"/><ellipse cx="389.8" cy="379.1" rx="2.8" ry="2.9" fill="#8a8ec0" opacity="0.75"/><ellipse cx="394.3" cy="380.3" rx="3.3" ry="2.9" fill="#8a8ec0" opacity="0.69"/><ellipse cx="399.0" cy="381.7" rx="2.6" ry="2.4" fill="#8088bc" opacity="0.80"/><ellipse cx="406.0" cy="382.3" rx="2.7" ry="2.7" fill="#7880b8" opacity="0.71"/><ellipse cx="411.7" cy="378.5" rx="2.4" ry="2.4" fill="#8a8ec0" opacity="0.85"/><ellipse cx="416.8" cy="378.4" rx="2.9" ry="2.6" fill="#8a8ec0" opacity="0.71"/><ellipse cx="421.5" cy="380.8" rx="3.0" ry="2.9" fill="#8a8ec0" opacity="0.75"/><ellipse cx="428.3" cy="379.2" rx="3.4" ry="2.8" fill="#8a8ec0" opacity="0.68"/><ellipse cx="431.3" cy="379.9" rx="2.7" ry="2.1" fill="#8088bc" opacity="0.78"/><ellipse cx="438.1" cy="379.9" rx="3.0" ry="2.3" fill="#8a8ec0" opacity="0.80"/><ellipse cx="361.9" cy="388.0" rx="2.8" ry="2.3" fill="#7278b0" opacity="0.81"/><ellipse cx="367.5" cy="386.1" rx="2.4" ry="2.1" fill="#7880b8" opacity="0.65"/><ellipse cx="372.0" cy="384.5" rx="2.8" ry="2.6" fill="#8a8ec0" opacity="0.53"/><ellipse cx="377.8" cy="383.7" rx="3.1" ry="2.6" fill="#8088bc" opacity="0.63"/><ellipse cx="385.6" cy="384.1" rx="3.3" ry="2.8" fill="#8a8ec0" opacity="0.81"/><ellipse cx="388.7" cy="384.3" rx="3.3" ry="2.9" fill="#7278b0" opacity="0.63"/><ellipse cx="394.6" cy="384.8" rx="2.8" ry="2.5" fill="#8a8ec0" opacity="0.72"/><ellipse cx="399.8" cy="387.9" rx="3.1" ry="2.4" fill="#8a8ec0" opacity="0.76"/><ellipse cx="418.1" cy="387.6" rx="3.2" ry="2.7" fill="#8a8ec0" opacity="0.70"/><ellipse cx="423.5" cy="384.0" rx="3.0" ry="2.3" fill="#8680b8" opacity="0.68"/><ellipse cx="428.2" cy="387.2" rx="3.2" ry="3.3" fill="#7278b0" opacity="0.62"/><ellipse cx="435.3" cy="384.5" rx="2.7" ry="2.8" fill="#8680b8" opacity="0.69"/><ellipse cx="358.8" cy="393.0" rx="3.0" ry="2.9" fill="#7278b0" opacity="0.66"/><ellipse cx="365.8" cy="391.4" rx="3.3" ry="2.6" fill="#8680b8" opacity="0.66"/><ellipse cx="369.5" cy="390.0" rx="2.4" ry="2.2" fill="#7880b8" opacity="0.80"/><ellipse cx="375.8" cy="390.2" rx="2.7" ry="2.3" fill="#7880b8" opacity="0.84"/><ellipse cx="381.1" cy="389.9" rx="2.6" ry="2.3" fill="#8a8ec0" opacity="0.78"/><ellipse cx="386.1" cy="392.5" rx="2.8" ry="2.5" fill="#7278b0" opacity="0.72"/><ellipse cx="391.3" cy="391.6" rx="2.9" ry="2.2" fill="#7278b0" opacity="0.68"/><ellipse cx="397.6" cy="392.8" rx="3.4" ry="2.9" fill="#8088bc" opacity="0.67"/><ellipse cx="411.6" cy="389.8" rx="2.7" ry="2.3" fill="#8680b8" opacity="0.60"/><ellipse cx="417.5" cy="390.8" rx="2.4" ry="2.1" fill="#8680b8" opacity="0.72"/><ellipse cx="421.6" cy="392.2" rx="2.7" ry="2.3" fill="#8a8ec0" opacity="0.82"/><ellipse cx="426.5" cy="391.7" rx="3.2" ry="2.8" fill="#8a8ec0" opacity="0.56"/><ellipse cx="432.7" cy="390.9" rx="2.5" ry="2.3" fill="#8088bc" opacity="0.75"/><ellipse cx="437.8" cy="393.2" rx="3.0" ry="2.5" fill="#8088bc" opacity="0.71"/><ellipse cx="357.5" cy="395.3" rx="3.0" ry="2.3" fill="#8a8ec0" opacity="0.69"/><ellipse cx="360.5" cy="396.0" rx="2.7" ry="2.8" fill="#7278b0" opacity="0.83"/><ellipse cx="366.4" cy="396.4" rx="3.1" ry="2.6" fill="#8088bc" opacity="0.83"/><ellipse cx="372.5" cy="396.3" rx="2.7" ry="2.1" fill="#7880b8" opacity="0.55"/><ellipse cx="379.0" cy="399.1" rx="2.7" ry="2.7" fill="#8a8ec0" opacity="0.73"/><ellipse cx="383.2" cy="398.8" rx="2.8" ry="2.5" fill="#7278b0" opacity="0.70"/><ellipse cx="390.6" cy="397.4" rx="2.8" ry="2.1" fill="#8088bc" opacity="0.72"/><ellipse cx="394.3" cy="398.0" rx="2.6" ry="2.5" fill="#8680b8" opacity="0.59"/><ellipse cx="403.7" cy="396.4" rx="2.5" ry="2.1" fill="#7278b0" opacity="0.53"/><ellipse cx="405.6" cy="397.2" rx="3.1" ry="2.9" fill="#8680b8" opacity="0.55"/><ellipse cx="416.6" cy="397.9" rx="3.0" ry="2.7" fill="#8680b8" opacity="0.69"/><ellipse cx="422.5" cy="398.5" rx="2.5" ry="2.4" fill="#8a8ec0" opacity="0.50"/><ellipse cx="428.8" cy="399.1" rx="2.5" ry="2.5" fill="#7278b0" opacity="0.78"/><ellipse cx="436.2" cy="397.6" rx="2.8" ry="2.3" fill="#8088bc" opacity="0.58"/><ellipse cx="357.8" cy="401.8" rx="3.0" ry="2.7" fill="#7880b8" opacity="0.60"/><ellipse cx="365.6" cy="401.4" rx="2.9" ry="2.6" fill="#7278b0" opacity="0.85"/><ellipse cx="371.9" cy="402.7" rx="2.8" ry="2.4" fill="#8680b8" opacity="0.78"/><ellipse cx="375.4" cy="404.6" rx="3.3" ry="2.7" fill="#8680b8" opacity="0.61"/><ellipse cx="381.4" cy="404.8" rx="2.5" ry="2.3" fill="#7278b0" opacity="0.59"/><ellipse cx="396.8" cy="402.6" rx="2.9" ry="2.2" fill="#7278b0" opacity="0.60"/><ellipse cx="405.6" cy="404.0" rx="2.7" ry="2.5" fill="#7880b8" opacity="0.73"/><ellipse cx="408.6" cy="400.7" rx="3.1" ry="2.9" fill="#8088bc" opacity="0.68"/><ellipse cx="421.3" cy="404.7" rx="2.4" ry="1.9" fill="#7278b0" opacity="0.82"/><ellipse cx="426.1" cy="403.9" rx="2.8" ry="2.4" fill="#7278b0" opacity="0.61"/><ellipse cx="431.3" cy="402.5" rx="2.7" ry="2.3" fill="#7278b0" opacity="0.76"/><ellipse cx="436.7" cy="401.9" rx="2.5" ry="2.0" fill="#8088bc" opacity="0.71"/><ellipse cx="356.0" cy="408.9" rx="3.3" ry="2.9" fill="#8680b8" opacity="0.65"/><ellipse cx="362.1" cy="406.1" rx="3.1" ry="3.1" fill="#8a8ec0" opacity="0.75"/><ellipse cx="366.4" cy="409.9" rx="3.2" ry="2.4" fill="#8680b8" opacity="0.80"/><ellipse cx="373.5" cy="407.7" rx="2.9" ry="2.6" fill="#8680b8" opacity="0.64"/><ellipse cx="381.1" cy="406.8" rx="3.3" ry="3.3" fill="#8088bc" opacity="0.84"/><ellipse cx="384.9" cy="406.5" rx="2.5" ry="2.0" fill="#8088bc" opacity="0.69"/><ellipse cx="390.1" cy="406.6" rx="2.6" ry="2.6" fill="#7278b0" opacity="0.61"/><ellipse cx="393.9" cy="408.4" rx="3.0" ry="2.6" fill="#7880b8" opacity="0.57"/><ellipse cx="399.7" cy="409.9" rx="2.6" ry="2.2" fill="#7880b8" opacity="0.58"/><ellipse cx="406.3" cy="406.9" rx="2.9" ry="2.7" fill="#8a8ec0" opacity="0.68"/><ellipse cx="411.6" cy="406.6" rx="2.7" ry="2.5" fill="#8a8ec0" opacity="0.62"/><ellipse cx="420.5" cy="410.0" rx="3.3" ry="3.0" fill="#7880b8" opacity="0.65"/><ellipse cx="423.5" cy="408.6" rx="3.2" ry="2.9" fill="#8a8ec0" opacity="0.57"/><ellipse cx="427.8" cy="410.0" rx="2.8" ry="2.4" fill="#8a8ec0" opacity="0.71"/><ellipse cx="435.7" cy="406.5" rx="2.6" ry="2.2" fill="#7880b8" opacity="0.58"/></g></g><rect x="354.0" y="327.0" width="80.4" height="81.0" filter="url(#mem3)"/><rect x="400.50" y="398.20" width="32.40" height="7.20" fill="#fff"/><line x1="403.00" y1="405.90" x2="430.40" y2="405.90" stroke="#444" stroke-width="0.9"/><text x="416.70" y="403.70" font-size="6" text-anchor="middle" class="n">50 μm</text><rect x="438.3" y="327.0" width="81.2" height="81.0" filter="url(#bg4)"/><g clip-path="url(#cp4)"><g filter="url(#soft)"><ellipse cx="457.5" cy="335.4" rx="3.1" ry="0.9" transform="rotate(12 457.5 335.4)" fill="#ecd8a0" opacity="0.82"/><ellipse cx="461.8" cy="407.2" rx="1.7" ry="1.4" transform="rotate(65 461.8 407.2)" fill="#d8b878" opacity="0.93"/><ellipse cx="459.6" cy="403.4" rx="1.6" ry="1.5" transform="rotate(47 459.6 403.4)" fill="#ecd8a0" opacity="0.68"/><ellipse cx="463.5" cy="377.8" rx="4.4" ry="1.8" transform="rotate(158 463.5 377.8)" fill="#d8b878" opacity="0.94"/><ellipse cx="465.7" cy="358.4" rx="2.5" ry="1.0" transform="rotate(50 465.7 358.4)" fill="#ecd8a0" opacity="0.60"/><ellipse cx="462.0" cy="384.1" rx="2.7" ry="1.7" transform="rotate(35 462.0 384.1)" fill="#ecd8a0" opacity="0.84"/><ellipse cx="473.3" cy="340.1" rx="2.7" ry="1.8" transform="rotate(8 473.3 340.1)" fill="#d8b878" opacity="0.79"/><ellipse cx="519.3" cy="369.0" rx="4.1" ry="1.6" transform="rotate(26 519.3 369.0)" fill="#d8b878" opacity="0.63"/><ellipse cx="442.2" cy="329.9" rx="2.6" ry="2.3" fill="#5e4460" opacity="0.67"/><ellipse cx="445.9" cy="328.0" rx="2.6" ry="2.6" fill="#7a5a78" opacity="0.53"/><ellipse cx="453.2" cy="327.8" rx="2.8" ry="2.1" fill="#7a5a78" opacity="0.55"/><ellipse cx="469.5" cy="331.6" rx="2.8" ry="2.9" fill="#7a5a78" opacity="0.74"/><ellipse cx="475.5" cy="329.1" rx="2.7" ry="2.5" fill="#7a5a78" opacity="0.65"/><ellipse cx="487.8" cy="329.5" rx="2.7" ry="2.1" fill="#5e4460" opacity="0.60"/><ellipse cx="506.0" cy="332.6" rx="3.0" ry="2.7" fill="#6a4c68" opacity="0.56"/><ellipse cx="512.0" cy="331.6" rx="2.8" ry="2.9" fill="#684a64" opacity="0.53"/><ellipse cx="516.9" cy="329.9" rx="3.0" ry="2.7" fill="#6a4c68" opacity="0.52"/><ellipse cx="443.4" cy="335.1" rx="2.6" ry="2.7" fill="#7a5a78" opacity="0.47"/><ellipse cx="453.6" cy="336.1" rx="3.3" ry="3.1" fill="#684a64" opacity="0.71"/><ellipse cx="457.1" cy="338.8" rx="3.0" ry="3.1" fill="#684a64" opacity="0.55"/><ellipse cx="464.6" cy="338.2" rx="2.9" ry="2.8" fill="#684a64" opacity="0.54"/><ellipse cx="468.1" cy="339.0" rx="3.4" ry="3.2" fill="#5e4460" opacity="0.76"/><ellipse cx="475.5" cy="338.4" rx="3.3" ry="3.1" fill="#684a64" opacity="0.62"/><ellipse cx="481.7" cy="334.1" rx="3.3" ry="2.5" fill="#684a64" opacity="0.49"/><ellipse cx="489.8" cy="338.5" rx="2.6" ry="2.5" fill="#684a64" opacity="0.76"/><ellipse cx="495.6" cy="334.4" rx="3.1" ry="2.4" fill="#5e4460" opacity="0.54"/><ellipse cx="517.2" cy="335.6" rx="2.7" ry="2.1" fill="#5e4460" opacity="0.61"/><ellipse cx="520.5" cy="335.2" rx="2.9" ry="3.0" fill="#7a5a78" opacity="0.49"/><ellipse cx="441.2" cy="344.8" rx="3.2" ry="2.4" fill="#7a5a78" opacity="0.52"/><ellipse cx="447.8" cy="341.0" rx="3.0" ry="2.5" fill="#7a5a78" opacity="0.70"/><ellipse cx="453.5" cy="343.2" rx="3.3" ry="3.2" fill="#6a4c68" opacity="0.56"/><ellipse cx="461.8" cy="342.9" rx="2.5" ry="2.0" fill="#5e4460" opacity="0.57"/><ellipse cx="467.7" cy="343.9" rx="3.0" ry="2.5" fill="#7a5a78" opacity="0.61"/><ellipse cx="473.5" cy="342.7" rx="3.0" ry="2.6" fill="#7a5a78" opacity="0.66"/><ellipse cx="477.8" cy="341.2" rx="3.2" ry="2.6" fill="#7a5a78" opacity="0.58"/><ellipse cx="488.3" cy="340.8" rx="3.0" ry="3.1" fill="#5e4460" opacity="0.58"/><ellipse cx="490.3" cy="340.5" rx="3.3" ry="3.3" fill="#6a4c68" opacity="0.73"/><ellipse cx="499.5" cy="343.0" rx="3.0" ry="3.1" fill="#6a4c68" opacity="0.79"/><ellipse cx="505.4" cy="345.0" rx="2.6" ry="2.6" fill="#684a64" opacity="0.75"/><ellipse cx="510.6" cy="342.9" rx="2.6" ry="2.3" fill="#684a64" opacity="0.64"/><ellipse cx="517.8" cy="342.5" rx="3.2" ry="2.7" fill="#5e4460" opacity="0.45"/><ellipse cx="444.5" cy="349.7" rx="3.2" ry="2.8" fill="#6a4c68" opacity="0.46"/><ellipse cx="453.5" cy="350.1" rx="2.7" ry="2.7" fill="#684a64" opacity="0.71"/><ellipse cx="459.7" cy="351.4" rx="3.2" ry="2.5" fill="#6a4c68" opacity="0.55"/><ellipse cx="465.4" cy="350.3" rx="2.9" ry="3.1" fill="#5e4460" opacity="0.63"/><ellipse cx="468.8" cy="351.7" rx="2.5" ry="2.1" fill="#5e4460" opacity="0.68"/><ellipse cx="477.5" cy="351.7" rx="3.3" ry="3.2" fill="#5e4460" opacity="0.69"/><ellipse cx="481.3" cy="351.2" rx="2.9" ry="2.2" fill="#7a5a78" opacity="0.76"/><ellipse cx="489.7" cy="348.4" rx="2.8" ry="2.2" fill="#7a5a78" opacity="0.79"/><ellipse cx="493.4" cy="351.8" rx="2.6" ry="2.0" fill="#5e4460" opacity="0.74"/><ellipse cx="499.8" cy="351.5" rx="2.9" ry="3.0" fill="#684a64" opacity="0.71"/><ellipse cx="507.0" cy="349.6" rx="2.6" ry="2.3" fill="#684a64" opacity="0.57"/><ellipse cx="512.7" cy="350.1" rx="2.7" ry="2.7" fill="#684a64" opacity="0.56"/><ellipse cx="520.7" cy="351.1" rx="3.3" ry="3.4" fill="#6a4c68" opacity="0.68"/><ellipse cx="441.6" cy="358.3" rx="2.8" ry="2.1" fill="#5e4460" opacity="0.62"/><ellipse cx="453.5" cy="356.3" rx="2.5" ry="2.1" fill="#6a4c68" opacity="0.76"/><ellipse cx="465.9" cy="358.1" rx="3.3" ry="3.4" fill="#5e4460" opacity="0.69"/><ellipse cx="475.5" cy="357.1" rx="3.2" ry="2.7" fill="#6a4c68" opacity="0.66"/><ellipse cx="479.9" cy="353.6" rx="2.9" ry="2.6" fill="#5e4460" opacity="0.55"/><ellipse cx="486.0" cy="354.1" rx="2.4" ry="2.5" fill="#684a64" opacity="0.55"/><ellipse cx="494.9" cy="355.3" rx="3.2" ry="2.6" fill="#684a64" opacity="0.48"/><ellipse cx="498.0" cy="357.9" rx="2.5" ry="2.5" fill="#5e4460" opacity="0.80"/><ellipse cx="506.5" cy="358.0" rx="2.7" ry="2.2" fill="#7a5a78" opacity="0.72"/><ellipse cx="516.8" cy="353.7" rx="2.9" ry="2.3" fill="#5e4460" opacity="0.56"/><ellipse cx="442.5" cy="364.0" rx="2.6" ry="2.5" fill="#5e4460" opacity="0.72"/><ellipse cx="449.9" cy="362.7" rx="3.0" ry="2.9" fill="#5e4460" opacity="0.75"/><ellipse cx="456.0" cy="364.5" rx="3.4" ry="3.2" fill="#7a5a78" opacity="0.47"/><ellipse cx="464.8" cy="364.0" rx="2.5" ry="2.0" fill="#684a64" opacity="0.62"/><ellipse cx="469.6" cy="363.4" rx="3.2" ry="3.2" fill="#5e4460" opacity="0.50"/><ellipse cx="476.0" cy="364.1" rx="3.3" ry="3.2" fill="#6a4c68" opacity="0.64"/><ellipse cx="481.5" cy="361.4" rx="3.4" ry="2.8" fill="#7a5a78" opacity="0.52"/><ellipse cx="489.5" cy="359.9" rx="2.7" ry="2.6" fill="#684a64" opacity="0.50"/><ellipse cx="495.1" cy="359.7" rx="3.1" ry="2.7" fill="#684a64" opacity="0.77"/><ellipse cx="501.4" cy="362.7" rx="2.5" ry="1.9" fill="#6a4c68" opacity="0.69"/><ellipse cx="509.3" cy="362.7" rx="3.0" ry="2.9" fill="#5e4460" opacity="0.60"/><ellipse cx="513.2" cy="362.7" rx="2.6" ry="2.6" fill="#7a5a78" opacity="0.58"/><ellipse cx="523.2" cy="363.0" rx="3.0" ry="2.5" fill="#6a4c68" opacity="0.79"/><ellipse cx="440.8" cy="370.5" rx="2.6" ry="2.3" fill="#5e4460" opacity="0.76"/><ellipse cx="446.1" cy="369.7" rx="3.0" ry="2.3" fill="#6a4c68" opacity="0.76"/><ellipse cx="452.0" cy="370.3" rx="2.5" ry="2.0" fill="#7a5a78" opacity="0.55"/><ellipse cx="460.6" cy="367.5" rx="3.1" ry="3.2" fill="#684a64" opacity="0.55"/><ellipse cx="474.0" cy="370.7" rx="2.8" ry="2.2" fill="#6a4c68" opacity="0.73"/><ellipse cx="481.7" cy="370.9" rx="3.2" ry="2.6" fill="#6a4c68" opacity="0.77"/><ellipse cx="499.2" cy="368.2" rx="2.5" ry="2.3" fill="#6a4c68" opacity="0.67"/><ellipse cx="503.3" cy="368.3" rx="2.5" ry="2.0" fill="#7a5a78" opacity="0.56"/><ellipse cx="510.0" cy="369.0" rx="3.0" ry="2.8" fill="#6a4c68" opacity="0.45"/><ellipse cx="518.5" cy="368.2" rx="2.7" ry="2.3" fill="#684a64" opacity="0.63"/><ellipse cx="445.3" cy="373.3" rx="2.9" ry="2.7" fill="#5e4460" opacity="0.65"/><ellipse cx="451.5" cy="375.4" rx="3.0" ry="2.9" fill="#5e4460" opacity="0.51"/><ellipse cx="456.5" cy="374.1" rx="2.6" ry="2.3" fill="#5e4460" opacity="0.58"/><ellipse cx="465.8" cy="376.5" rx="2.7" ry="2.7" fill="#7a5a78" opacity="0.48"/><ellipse cx="480.6" cy="375.8" rx="3.0" ry="2.4" fill="#684a64" opacity="0.79"/><ellipse cx="490.2" cy="377.3" rx="2.8" ry="2.6" fill="#5e4460" opacity="0.47"/><ellipse cx="508.4" cy="376.2" rx="3.0" ry="3.1" fill="#5e4460" opacity="0.57"/><ellipse cx="522.8" cy="375.4" rx="2.9" ry="3.0" fill="#684a64" opacity="0.71"/><ellipse cx="441.2" cy="381.5" rx="3.2" ry="2.5" fill="#684a64" opacity="0.49"/><ellipse cx="449.2" cy="383.4" rx="2.7" ry="2.6" fill="#6a4c68" opacity="0.59"/><ellipse cx="453.5" cy="380.8" rx="2.9" ry="2.2" fill="#7a5a78" opacity="0.79"/><ellipse cx="461.1" cy="382.0" rx="3.3" ry="2.8" fill="#5e4460" opacity="0.46"/><ellipse cx="468.5" cy="380.0" rx="2.9" ry="3.0" fill="#6a4c68" opacity="0.64"/><ellipse cx="475.8" cy="383.1" rx="2.8" ry="2.4" fill="#5e4460" opacity="0.71"/><ellipse cx="479.2" cy="380.2" rx="3.1" ry="2.9" fill="#5e4460" opacity="0.79"/><ellipse cx="488.5" cy="382.6" rx="2.7" ry="2.5" fill="#6a4c68" opacity="0.73"/><ellipse cx="493.6" cy="380.1" rx="3.0" ry="2.4" fill="#6a4c68" opacity="0.51"/><ellipse cx="500.1" cy="381.8" rx="2.5" ry="1.9" fill="#7a5a78" opacity="0.57"/><ellipse cx="507.2" cy="381.8" rx="2.7" ry="2.1" fill="#5e4460" opacity="0.60"/><ellipse cx="513.4" cy="379.2" rx="3.0" ry="2.4" fill="#5e4460" opacity="0.52"/><ellipse cx="515.8" cy="381.3" rx="2.7" ry="2.5" fill="#7a5a78" opacity="0.70"/><ellipse cx="445.7" cy="388.4" rx="2.7" ry="2.0" fill="#6a4c68" opacity="0.77"/><ellipse cx="450.5" cy="386.3" rx="2.6" ry="2.4" fill="#6a4c68" opacity="0.47"/><ellipse cx="458.7" cy="389.5" rx="3.1" ry="2.7" fill="#6a4c68" opacity="0.77"/><ellipse cx="461.5" cy="388.5" rx="2.9" ry="3.0" fill="#684a64" opacity="0.60"/><ellipse cx="471.0" cy="386.6" rx="2.4" ry="2.1" fill="#7a5a78" opacity="0.76"/><ellipse cx="477.7" cy="385.9" rx="2.9" ry="2.3" fill="#684a64" opacity="0.51"/><ellipse cx="481.2" cy="386.2" rx="3.2" ry="2.9" fill="#7a5a78" opacity="0.71"/><ellipse cx="496.8" cy="388.6" rx="2.4" ry="2.0" fill="#6a4c68" opacity="0.72"/><ellipse cx="502.7" cy="386.6" rx="3.3" ry="2.5" fill="#5e4460" opacity="0.66"/><ellipse cx="509.2" cy="388.9" rx="3.4" ry="3.3" fill="#5e4460" opacity="0.62"/><ellipse cx="516.5" cy="386.9" rx="2.4" ry="2.0" fill="#7a5a78" opacity="0.61"/><ellipse cx="519.8" cy="387.1" rx="2.9" ry="2.9" fill="#6a4c68" opacity="0.56"/><ellipse cx="441.4" cy="393.0" rx="2.5" ry="2.4" fill="#684a64" opacity="0.77"/><ellipse cx="447.7" cy="393.0" rx="3.1" ry="2.5" fill="#684a64" opacity="0.45"/><ellipse cx="452.6" cy="393.6" rx="2.6" ry="2.2" fill="#5e4460" opacity="0.59"/><ellipse cx="461.8" cy="394.0" rx="2.8" ry="2.4" fill="#6a4c68" opacity="0.68"/><ellipse cx="467.4" cy="395.5" rx="3.2" ry="2.9" fill="#6a4c68" opacity="0.72"/><ellipse cx="471.2" cy="395.4" rx="2.8" ry="2.4" fill="#6a4c68" opacity="0.58"/><ellipse cx="478.0" cy="394.1" rx="3.4" ry="3.3" fill="#684a64" opacity="0.77"/><ellipse cx="485.6" cy="394.5" rx="3.2" ry="2.6" fill="#5e4460" opacity="0.77"/><ellipse cx="500.8" cy="391.8" rx="3.1" ry="2.6" fill="#6a4c68" opacity="0.79"/><ellipse cx="504.3" cy="392.5" rx="3.2" ry="3.3" fill="#7a5a78" opacity="0.77"/><ellipse cx="514.1" cy="395.8" rx="3.3" ry="3.1" fill="#684a64" opacity="0.71"/><ellipse cx="515.9" cy="393.4" rx="2.7" ry="2.3" fill="#684a64" opacity="0.66"/><ellipse cx="445.0" cy="399.3" rx="2.5" ry="2.2" fill="#6a4c68" opacity="0.59"/><ellipse cx="450.8" cy="400.4" rx="3.0" ry="2.8" fill="#684a64" opacity="0.69"/><ellipse cx="456.4" cy="399.8" rx="2.7" ry="2.5" fill="#5e4460" opacity="0.63"/><ellipse cx="464.7" cy="401.6" rx="3.3" ry="2.9" fill="#7a5a78" opacity="0.71"/><ellipse cx="476.5" cy="400.8" rx="3.2" ry="2.6" fill="#6a4c68" opacity="0.58"/><ellipse cx="485.4" cy="400.2" rx="2.8" ry="2.7" fill="#684a64" opacity="0.66"/><ellipse cx="488.9" cy="399.5" rx="2.7" ry="2.1" fill="#5e4460" opacity="0.60"/><ellipse cx="493.9" cy="400.6" rx="2.6" ry="2.1" fill="#684a64" opacity="0.50"/><ellipse cx="503.6" cy="398.8" rx="3.0" ry="2.3" fill="#7a5a78" opacity="0.70"/><ellipse cx="513.1" cy="402.8" rx="3.1" ry="2.8" fill="#7a5a78" opacity="0.51"/><ellipse cx="523.3" cy="398.7" rx="2.9" ry="2.5" fill="#5e4460" opacity="0.74"/><ellipse cx="440.1" cy="409.5" rx="2.8" ry="2.7" fill="#5e4460" opacity="0.46"/><ellipse cx="449.4" cy="407.5" rx="2.7" ry="2.5" fill="#684a64" opacity="0.56"/><ellipse cx="456.0" cy="408.8" rx="2.4" ry="2.2" fill="#7a5a78" opacity="0.60"/><ellipse cx="459.2" cy="405.3" rx="2.5" ry="2.4" fill="#5e4460" opacity="0.48"/><ellipse cx="467.7" cy="408.8" rx="2.6" ry="2.1" fill="#7a5a78" opacity="0.47"/><ellipse cx="472.3" cy="406.9" rx="3.1" ry="2.5" fill="#7a5a78" opacity="0.55"/><ellipse cx="480.7" cy="404.7" rx="2.4" ry="2.5" fill="#7a5a78" opacity="0.73"/><ellipse cx="493.2" cy="408.2" rx="3.2" ry="3.1" fill="#684a64" opacity="0.68"/><ellipse cx="499.1" cy="407.3" rx="3.2" ry="2.9" fill="#5e4460" opacity="0.63"/><ellipse cx="504.4" cy="408.9" rx="2.8" ry="2.7" fill="#5e4460" opacity="0.80"/><ellipse cx="513.7" cy="405.0" rx="2.6" ry="2.3" fill="#684a64" opacity="0.65"/></g></g><rect x="438.3" y="327.0" width="81.2" height="81.0" filter="url(#mem4)"/><rect x="485.60" y="398.20" width="32.40" height="7.20" fill="#fff"/><line x1="488.10" y1="405.90" x2="515.50" y2="405.90" stroke="#444" stroke-width="0.9"/><text x="501.80" y="403.70" font-size="6" text-anchor="middle" class="n">50 μm</text><rect x="180.0" y="419.2" width="82.0" height="80.4" filter="url(#bg5)"/><g clip-path="url(#cp5)"><g filter="url(#soft)"><ellipse cx="231.1" cy="478.8" rx="4.7" ry="1.9" transform="rotate(133 231.1 478.8)" fill="#ecd8a0" opacity="0.94"/><ellipse cx="243.6" cy="439.2" rx="1.7" ry="0.9" transform="rotate(67 243.6 439.2)" fill="#ecd8a0" opacity="0.75"/><ellipse cx="188.4" cy="439.2" rx="4.4" ry="1.2" transform="rotate(33 188.4 439.2)" fill="#ecd8a0" opacity="0.66"/><ellipse cx="245.4" cy="430.4" rx="4.0" ry="0.9" transform="rotate(0 245.4 430.4)" fill="#ecd8a0" opacity="0.68"/><ellipse cx="197.7" cy="498.2" rx="5.0" ry="1.1" transform="rotate(173 197.7 498.2)" fill="#ecd8a0" opacity="0.67"/><ellipse cx="259.4" cy="435.0" rx="5.4" ry="1.2" transform="rotate(4 259.4 435.0)" fill="#ecd8a0" opacity="0.67"/><ellipse cx="191.9" cy="424.4" rx="2.7" ry="1.5" transform="rotate(1 191.9 424.4)" fill="#ecd8a0" opacity="0.63"/><ellipse cx="209.1" cy="443.8" rx="4.3" ry="0.9" transform="rotate(85 209.1 443.8)" fill="#ecd8a0" opacity="0.62"/><ellipse cx="260.0" cy="421.0" rx="4.5" ry="1.8" transform="rotate(3 260.0 421.0)" fill="#ecd8a0" opacity="0.75"/><ellipse cx="227.4" cy="419.9" rx="1.7" ry="0.9" transform="rotate(172 227.4 419.9)" fill="#ecd8a0" opacity="0.65"/><ellipse cx="184.7" cy="422.1" rx="2.9" ry="3.0" fill="#8c84b4" opacity="0.64"/><ellipse cx="187.0" cy="424.5" rx="2.5" ry="2.1" fill="#8c84b4" opacity="0.78"/><ellipse cx="196.5" cy="420.3" rx="3.1" ry="2.6" fill="#8c84b4" opacity="0.69"/><ellipse cx="200.0" cy="420.1" rx="3.4" ry="3.1" fill="#8c84b4" opacity="0.57"/><ellipse cx="207.7" cy="421.9" rx="2.5" ry="2.5" fill="#7e78a8" opacity="0.65"/><ellipse cx="215.2" cy="424.5" rx="3.0" ry="3.0" fill="#7e78a8" opacity="0.63"/><ellipse cx="224.7" cy="424.4" rx="3.0" ry="2.4" fill="#8c84b4" opacity="0.79"/><ellipse cx="231.7" cy="421.8" rx="2.5" ry="2.2" fill="#7672a4" opacity="0.79"/><ellipse cx="237.3" cy="422.3" rx="2.9" ry="2.7" fill="#8c84b4" opacity="0.52"/><ellipse cx="245.9" cy="423.6" rx="2.8" ry="2.7" fill="#8c84b4" opacity="0.65"/><ellipse cx="250.5" cy="420.7" rx="3.3" ry="2.9" fill="#8c84b4" opacity="0.60"/><ellipse cx="259.1" cy="423.0" rx="3.2" ry="2.7" fill="#7672a4" opacity="0.72"/><ellipse cx="265.4" cy="424.1" rx="3.1" ry="3.2" fill="#7e78a8" opacity="0.66"/><ellipse cx="185.5" cy="430.3" rx="2.7" ry="2.1" fill="#7672a4" opacity="0.62"/><ellipse cx="192.7" cy="430.3" rx="2.7" ry="2.8" fill="#7e78a8" opacity="0.68"/><ellipse cx="199.5" cy="429.1" rx="2.4" ry="2.2" fill="#7e78a8" opacity="0.52"/><ellipse cx="210.9" cy="428.7" rx="2.8" ry="2.4" fill="#7e78a8" opacity="0.52"/><ellipse cx="219.2" cy="426.0" rx="2.8" ry="2.3" fill="#8c84b4" opacity="0.53"/><ellipse cx="223.6" cy="427.5" rx="2.7" ry="2.4" fill="#8c84b4" opacity="0.59"/><ellipse cx="229.2" cy="430.1" rx="3.0" ry="2.6" fill="#7672a4" opacity="0.68"/><ellipse cx="238.1" cy="429.0" rx="2.8" ry="2.8" fill="#7e78a8" opacity="0.53"/><ellipse cx="243.9" cy="428.8" rx="2.8" ry="3.0" fill="#7672a4" opacity="0.64"/><ellipse cx="250.0" cy="426.8" rx="3.0" ry="2.9" fill="#8480b0" opacity="0.58"/><ellipse cx="256.8" cy="428.5" rx="2.7" ry="2.4" fill="#7672a4" opacity="0.69"/><ellipse cx="258.3" cy="426.7" rx="2.8" ry="2.5" fill="#7672a4" opacity="0.57"/><ellipse cx="265.5" cy="427.3" rx="2.6" ry="2.7" fill="#7672a4" opacity="0.68"/><ellipse cx="184.9" cy="436.6" rx="3.3" ry="2.5" fill="#8c84b4" opacity="0.58"/><ellipse cx="190.4" cy="432.4" rx="2.7" ry="2.6" fill="#8480b0" opacity="0.54"/><ellipse cx="195.3" cy="436.8" rx="3.3" ry="3.0" fill="#7672a4" opacity="0.73"/><ellipse cx="202.6" cy="436.9" rx="3.0" ry="3.1" fill="#7e78a8" opacity="0.64"/><ellipse cx="207.7" cy="436.0" rx="2.7" ry="2.0" fill="#7672a4" opacity="0.67"/><ellipse cx="212.3" cy="434.6" rx="2.9" ry="2.7" fill="#8480b0" opacity="0.55"/><ellipse cx="228.1" cy="436.1" rx="3.1" ry="2.3" fill="#7672a4" opacity="0.79"/><ellipse cx="230.5" cy="436.4" rx="2.6" ry="2.5" fill="#7e78a8" opacity="0.71"/><ellipse cx="239.9" cy="434.4" rx="2.6" ry="2.1" fill="#7e78a8" opacity="0.52"/><ellipse cx="255.4" cy="432.5" rx="3.0" ry="2.9" fill="#7672a4" opacity="0.54"/><ellipse cx="186.1" cy="440.2" rx="3.1" ry="3.1" fill="#8c84b4" opacity="0.59"/><ellipse cx="192.7" cy="441.5" rx="2.7" ry="2.4" fill="#7e78a8" opacity="0.73"/><ellipse cx="200.4" cy="440.7" rx="2.8" ry="2.2" fill="#8480b0" opacity="0.60"/><ellipse cx="211.5" cy="439.6" rx="3.3" ry="2.9" fill="#8480b0" opacity="0.74"/><ellipse cx="216.6" cy="442.6" rx="3.3" ry="2.9" fill="#8480b0" opacity="0.72"/><ellipse cx="224.2" cy="442.5" rx="2.5" ry="2.4" fill="#8c84b4" opacity="0.57"/><ellipse cx="230.6" cy="442.4" rx="2.8" ry="2.7" fill="#7672a4" opacity="0.59"/><ellipse cx="235.1" cy="438.6" rx="3.4" ry="2.8" fill="#8480b0" opacity="0.52"/><ellipse cx="245.9" cy="442.8" rx="2.9" ry="2.8" fill="#7672a4" opacity="0.64"/><ellipse cx="254.2" cy="439.4" rx="3.1" ry="2.4" fill="#7672a4" opacity="0.76"/><ellipse cx="259.4" cy="439.8" rx="2.6" ry="2.1" fill="#8480b0" opacity="0.64"/><ellipse cx="268.0" cy="440.0" rx="2.5" ry="1.9" fill="#7e78a8" opacity="0.75"/><ellipse cx="188.3" cy="448.0" rx="3.1" ry="2.5" fill="#7e78a8" opacity="0.51"/><ellipse cx="196.1" cy="449.1" rx="3.1" ry="3.0" fill="#8480b0" opacity="0.61"/><ellipse cx="202.8" cy="445.4" rx="2.6" ry="2.5" fill="#7672a4" opacity="0.69"/><ellipse cx="206.8" cy="446.9" rx="2.9" ry="2.7" fill="#8c84b4" opacity="0.51"/><ellipse cx="215.2" cy="445.8" rx="3.2" ry="2.5" fill="#8480b0" opacity="0.70"/><ellipse cx="221.7" cy="444.9" rx="3.2" ry="2.9" fill="#7e78a8" opacity="0.76"/><ellipse cx="226.5" cy="446.6" rx="2.9" ry="2.3" fill="#7e78a8" opacity="0.53"/><ellipse cx="234.5" cy="445.7" rx="2.4" ry="2.2" fill="#7672a4" opacity="0.67"/><ellipse cx="237.1" cy="444.7" rx="3.2" ry="3.0" fill="#8480b0" opacity="0.80"/><ellipse cx="245.0" cy="448.5" rx="2.7" ry="2.3" fill="#7672a4" opacity="0.66"/><ellipse cx="249.2" cy="446.7" rx="3.0" ry="2.5" fill="#8480b0" opacity="0.71"/><ellipse cx="259.0" cy="449.0" rx="3.3" ry="2.5" fill="#8480b0" opacity="0.61"/><ellipse cx="264.5" cy="448.4" rx="3.0" ry="2.6" fill="#8480b0" opacity="0.70"/><ellipse cx="187.2" cy="452.1" rx="3.2" ry="2.8" fill="#7e78a8" opacity="0.52"/><ellipse cx="192.4" cy="452.4" rx="2.4" ry="2.2" fill="#8480b0" opacity="0.51"/><ellipse cx="204.1" cy="455.1" rx="3.3" ry="3.1" fill="#8c84b4" opacity="0.63"/><ellipse cx="210.3" cy="451.6" rx="3.0" ry="2.4" fill="#7e78a8" opacity="0.58"/><ellipse cx="215.4" cy="454.6" rx="2.8" ry="2.5" fill="#7e78a8" opacity="0.63"/><ellipse cx="223.1" cy="453.0" rx="3.2" ry="3.3" fill="#8480b0" opacity="0.79"/><ellipse cx="235.4" cy="451.1" rx="3.4" ry="2.6" fill="#8c84b4" opacity="0.64"/><ellipse cx="240.6" cy="452.2" rx="2.6" ry="2.4" fill="#7e78a8" opacity="0.73"/><ellipse cx="249.7" cy="454.9" rx="3.1" ry="3.1" fill="#8c84b4" opacity="0.65"/><ellipse cx="256.0" cy="453.3" rx="2.4" ry="2.0" fill="#7e78a8" opacity="0.72"/><ellipse cx="261.9" cy="453.2" rx="2.9" ry="2.6" fill="#8480b0" opacity="0.56"/><ellipse cx="183.7" cy="461.1" rx="2.4" ry="2.3" fill="#7672a4" opacity="0.65"/><ellipse cx="190.2" cy="459.3" rx="3.2" ry="2.9" fill="#8480b0" opacity="0.67"/><ellipse cx="197.0" cy="458.8" rx="3.0" ry="2.9" fill="#8480b0" opacity="0.59"/><ellipse cx="208.4" cy="461.3" rx="3.3" ry="2.9" fill="#7e78a8" opacity="0.50"/><ellipse cx="221.1" cy="461.8" rx="3.3" ry="3.2" fill="#7e78a8" opacity="0.72"/><ellipse cx="224.5" cy="457.6" rx="2.7" ry="2.7" fill="#7672a4" opacity="0.79"/><ellipse cx="233.9" cy="459.6" rx="2.6" ry="2.5" fill="#8c84b4" opacity="0.60"/><ellipse cx="236.9" cy="458.5" rx="3.2" ry="3.2" fill="#8480b0" opacity="0.79"/><ellipse cx="246.4" cy="458.1" rx="2.5" ry="2.3" fill="#7672a4" opacity="0.76"/><ellipse cx="250.9" cy="459.6" rx="3.3" ry="2.8" fill="#8c84b4" opacity="0.68"/><ellipse cx="255.2" cy="457.6" rx="3.0" ry="2.8" fill="#8480b0" opacity="0.56"/><ellipse cx="264.6" cy="460.6" rx="2.5" ry="2.2" fill="#8c84b4" opacity="0.79"/><ellipse cx="186.0" cy="465.1" rx="3.3" ry="3.4" fill="#8480b0" opacity="0.74"/><ellipse cx="196.7" cy="464.9" rx="2.8" ry="2.7" fill="#8c84b4" opacity="0.63"/><ellipse cx="206.3" cy="466.8" rx="3.3" ry="3.4" fill="#8480b0" opacity="0.79"/><ellipse cx="212.6" cy="464.2" rx="2.7" ry="2.2" fill="#8480b0" opacity="0.80"/><ellipse cx="219.4" cy="465.5" rx="2.4" ry="2.5" fill="#8480b0" opacity="0.54"/><ellipse cx="225.7" cy="467.9" rx="2.5" ry="2.4" fill="#8480b0" opacity="0.59"/><ellipse cx="232.1" cy="466.9" rx="2.6" ry="2.2" fill="#8480b0" opacity="0.77"/><ellipse cx="234.8" cy="464.9" rx="3.2" ry="2.9" fill="#7e78a8" opacity="0.63"/><ellipse cx="243.1" cy="463.9" rx="3.4" ry="3.1" fill="#7672a4" opacity="0.55"/><ellipse cx="246.9" cy="465.5" rx="2.5" ry="2.0" fill="#8480b0" opacity="0.54"/><ellipse cx="262.9" cy="467.5" rx="2.5" ry="2.6" fill="#8480b0" opacity="0.74"/><ellipse cx="264.7" cy="464.6" rx="3.4" ry="3.2" fill="#7672a4" opacity="0.52"/><ellipse cx="183.1" cy="473.7" rx="3.3" ry="3.2" fill="#7e78a8" opacity="0.68"/><ellipse cx="195.1" cy="473.8" rx="3.2" ry="3.3" fill="#7e78a8" opacity="0.80"/><ellipse cx="200.0" cy="473.3" rx="2.8" ry="2.9" fill="#7672a4" opacity="0.57"/><ellipse cx="206.1" cy="471.2" rx="2.4" ry="2.3" fill="#8480b0" opacity="0.73"/><ellipse cx="222.3" cy="473.8" rx="2.6" ry="2.0" fill="#7672a4" opacity="0.79"/><ellipse cx="225.2" cy="474.0" rx="3.3" ry="2.5" fill="#8c84b4" opacity="0.63"/><ellipse cx="233.5" cy="471.1" rx="2.6" ry="2.2" fill="#8480b0" opacity="0.77"/><ellipse cx="236.9" cy="471.4" rx="2.7" ry="2.8" fill="#7e78a8" opacity="0.63"/><ellipse cx="243.3" cy="469.5" rx="2.4" ry="2.1" fill="#8480b0" opacity="0.70"/><ellipse cx="257.1" cy="471.9" rx="3.0" ry="3.0" fill="#8480b0" opacity="0.65"/><ellipse cx="265.6" cy="473.3" rx="3.0" ry="2.6" fill="#8c84b4" opacity="0.54"/><ellipse cx="185.1" cy="478.5" rx="3.0" ry="2.6" fill="#8480b0" opacity="0.75"/><ellipse cx="190.2" cy="476.7" rx="3.0" ry="2.4" fill="#8c84b4" opacity="0.75"/><ellipse cx="196.8" cy="477.4" rx="2.9" ry="2.7" fill="#8480b0" opacity="0.64"/><ellipse cx="202.9" cy="480.0" rx="2.8" ry="2.4" fill="#7e78a8" opacity="0.65"/><ellipse cx="209.8" cy="479.7" rx="3.0" ry="2.6" fill="#8c84b4" opacity="0.57"/><ellipse cx="219.1" cy="480.2" rx="3.2" ry="3.0" fill="#8c84b4" opacity="0.77"/><ellipse cx="221.0" cy="475.8" rx="3.2" ry="2.9" fill="#7672a4" opacity="0.51"/><ellipse cx="236.4" cy="478.7" rx="2.6" ry="2.7" fill="#8480b0" opacity="0.52"/><ellipse cx="247.2" cy="478.2" rx="2.9" ry="2.9" fill="#8c84b4" opacity="0.70"/><ellipse cx="255.7" cy="476.9" rx="2.7" ry="2.0" fill="#7672a4" opacity="0.65"/><ellipse cx="258.9" cy="476.7" rx="2.7" ry="2.8" fill="#8c84b4" opacity="0.53"/><ellipse cx="267.5" cy="477.8" rx="2.9" ry="2.5" fill="#7e78a8" opacity="0.77"/><ellipse cx="182.8" cy="484.7" rx="3.3" ry="2.6" fill="#7e78a8" opacity="0.65"/><ellipse cx="190.1" cy="483.9" rx="3.2" ry="3.2" fill="#8c84b4" opacity="0.53"/><ellipse cx="197.2" cy="484.4" rx="2.9" ry="2.8" fill="#8480b0" opacity="0.74"/><ellipse cx="199.7" cy="485.0" rx="3.2" ry="3.0" fill="#7672a4" opacity="0.79"/><ellipse cx="207.1" cy="485.6" rx="2.5" ry="2.5" fill="#8c84b4" opacity="0.59"/><ellipse cx="213.7" cy="486.1" rx="2.5" ry="2.1" fill="#7672a4" opacity="0.78"/><ellipse cx="225.1" cy="482.0" rx="3.0" ry="2.5" fill="#8c84b4" opacity="0.65"/><ellipse cx="232.5" cy="482.3" rx="3.2" ry="2.5" fill="#7672a4" opacity="0.53"/><ellipse cx="237.8" cy="484.6" rx="3.4" ry="3.0" fill="#7e78a8" opacity="0.65"/><ellipse cx="245.8" cy="486.4" rx="2.7" ry="2.7" fill="#8480b0" opacity="0.54"/><ellipse cx="252.0" cy="483.3" rx="3.0" ry="2.9" fill="#7e78a8" opacity="0.58"/><ellipse cx="256.3" cy="484.2" rx="3.2" ry="2.9" fill="#8480b0" opacity="0.56"/><ellipse cx="262.4" cy="483.1" rx="3.0" ry="2.9" fill="#7e78a8" opacity="0.64"/><ellipse cx="186.1" cy="489.5" rx="3.3" ry="3.1" fill="#8480b0" opacity="0.66"/><ellipse cx="190.0" cy="490.9" rx="2.9" ry="2.9" fill="#8c84b4" opacity="0.66"/><ellipse cx="196.4" cy="489.5" rx="2.9" ry="2.5" fill="#8c84b4" opacity="0.73"/><ellipse cx="206.1" cy="491.6" rx="2.4" ry="2.5" fill="#8c84b4" opacity="0.76"/><ellipse cx="212.7" cy="491.4" rx="2.7" ry="2.7" fill="#8480b0" opacity="0.71"/><ellipse cx="217.2" cy="488.0" rx="3.2" ry="3.1" fill="#8480b0" opacity="0.51"/><ellipse cx="221.5" cy="489.0" rx="3.4" ry="3.4" fill="#8480b0" opacity="0.75"/><ellipse cx="230.3" cy="489.2" rx="2.7" ry="2.0" fill="#8c84b4" opacity="0.67"/><ellipse cx="234.8" cy="491.7" rx="2.8" ry="2.6" fill="#8480b0" opacity="0.63"/><ellipse cx="242.2" cy="488.0" rx="2.8" ry="2.5" fill="#7e78a8" opacity="0.56"/><ellipse cx="247.9" cy="492.0" rx="2.9" ry="2.6" fill="#7672a4" opacity="0.74"/><ellipse cx="255.0" cy="491.6" rx="3.3" ry="3.0" fill="#7e78a8" opacity="0.77"/><ellipse cx="261.6" cy="489.0" rx="2.9" ry="3.0" fill="#8480b0" opacity="0.62"/><ellipse cx="265.8" cy="491.6" rx="2.8" ry="2.2" fill="#7e78a8" opacity="0.77"/><ellipse cx="182.6" cy="496.5" rx="2.8" ry="2.1" fill="#8c84b4" opacity="0.73"/><ellipse cx="191.1" cy="498.8" rx="3.2" ry="2.8" fill="#7672a4" opacity="0.70"/><ellipse cx="194.0" cy="497.1" rx="3.1" ry="3.1" fill="#7e78a8" opacity="0.75"/><ellipse cx="199.7" cy="497.2" rx="2.8" ry="2.2" fill="#7e78a8" opacity="0.50"/><ellipse cx="210.1" cy="497.9" rx="3.1" ry="2.8" fill="#8480b0" opacity="0.77"/><ellipse cx="213.4" cy="499.1" rx="3.1" ry="2.7" fill="#7672a4" opacity="0.58"/><ellipse cx="219.5" cy="499.0" rx="2.8" ry="2.4" fill="#8480b0" opacity="0.79"/><ellipse cx="225.5" cy="498.3" rx="2.5" ry="2.3" fill="#8c84b4" opacity="0.70"/><ellipse cx="238.4" cy="495.8" rx="3.3" ry="3.2" fill="#8480b0" opacity="0.70"/><ellipse cx="247.0" cy="498.0" rx="3.3" ry="3.1" fill="#7672a4" opacity="0.65"/><ellipse cx="250.3" cy="496.3" rx="3.0" ry="2.8" fill="#8c84b4" opacity="0.66"/><ellipse cx="257.9" cy="494.6" rx="2.8" ry="2.4" fill="#7672a4" opacity="0.69"/></g></g><rect x="180.0" y="419.2" width="82.0" height="80.4" filter="url(#mem5)"/><rect x="228.10" y="489.80" width="32.40" height="7.20" fill="#fff"/><line x1="230.60" y1="497.50" x2="258.00" y2="497.50" stroke="#444" stroke-width="0.9"/><text x="244.30" y="495.30" font-size="6" text-anchor="middle" class="n">50 μm</text><rect x="265.8" y="419.2" width="80.4" height="80.4" filter="url(#bg6)"/><g clip-path="url(#cp6)"><g filter="url(#soft)"><ellipse cx="329.6" cy="485.3" rx="3.4" ry="1.0" transform="rotate(0 329.6 485.3)" fill="#ecd8a0" opacity="0.99"/><ellipse cx="324.9" cy="444.9" rx="1.6" ry="1.3" transform="rotate(36 324.9 444.9)" fill="#ecd8a0" opacity="0.96"/><ellipse cx="309.2" cy="426.8" rx="3.8" ry="1.6" transform="rotate(131 309.2 426.8)" fill="#d8b878" opacity="0.94"/><ellipse cx="292.8" cy="426.7" rx="4.7" ry="1.7" transform="rotate(80 292.8 426.7)" fill="#d8b878" opacity="0.90"/><ellipse cx="322.1" cy="483.2" rx="1.9" ry="0.8" transform="rotate(162 322.1 483.2)" fill="#ecd8a0" opacity="0.79"/><ellipse cx="332.8" cy="434.8" rx="3.8" ry="2.0" transform="rotate(161 332.8 434.8)" fill="#d8b878" opacity="0.85"/><ellipse cx="285.5" cy="453.7" rx="2.9" ry="0.9" transform="rotate(90 285.5 453.7)" fill="#d8b878" opacity="0.65"/><ellipse cx="319.1" cy="444.3" rx="2.3" ry="1.3" transform="rotate(25 319.1 444.3)" fill="#d8b878" opacity="0.93"/><ellipse cx="336.2" cy="461.2" rx="2.3" ry="0.9" transform="rotate(117 336.2 461.2)" fill="#ecd8a0" opacity="0.75"/><ellipse cx="308.2" cy="442.4" rx="4.2" ry="1.3" transform="rotate(33 308.2 442.4)" fill="#ecd8a0" opacity="0.64"/><ellipse cx="301.3" cy="484.0" rx="1.9" ry="1.5" transform="rotate(157 301.3 484.0)" fill="#ecd8a0" opacity="0.78"/><ellipse cx="332.6" cy="483.2" rx="3.6" ry="1.3" transform="rotate(127 332.6 483.2)" fill="#ecd8a0" opacity="0.98"/><ellipse cx="281.2" cy="473.9" rx="3.3" ry="1.6" transform="rotate(174 281.2 473.9)" fill="#d8b878" opacity="0.61"/><ellipse cx="275.7" cy="466.6" rx="2.9" ry="1.0" transform="rotate(81 275.7 466.6)" fill="#ecd8a0" opacity="0.99"/><ellipse cx="268.6" cy="422.3" rx="3.0" ry="2.8" fill="#684a64" opacity="0.70"/><ellipse cx="277.0" cy="421.5" rx="3.1" ry="3.2" fill="#7a5a78" opacity="0.58"/><ellipse cx="281.3" cy="422.3" rx="3.2" ry="3.3" fill="#684a64" opacity="0.45"/><ellipse cx="286.6" cy="423.0" rx="3.0" ry="2.8" fill="#684a64" opacity="0.79"/><ellipse cx="292.4" cy="420.8" rx="3.3" ry="3.1" fill="#684a64" opacity="0.72"/><ellipse cx="306.7" cy="424.8" rx="3.1" ry="2.5" fill="#6a4c68" opacity="0.46"/><ellipse cx="311.5" cy="422.3" rx="3.1" ry="2.4" fill="#6a4c68" opacity="0.64"/><ellipse cx="320.9" cy="421.2" rx="3.2" ry="3.1" fill="#5e4460" opacity="0.46"/><ellipse cx="325.0" cy="424.6" rx="2.9" ry="2.5" fill="#6a4c68" opacity="0.62"/><ellipse cx="331.9" cy="421.7" rx="2.8" ry="2.1" fill="#7a5a78" opacity="0.55"/><ellipse cx="339.0" cy="424.6" rx="2.4" ry="1.9" fill="#6a4c68" opacity="0.67"/><ellipse cx="345.0" cy="420.0" rx="3.4" ry="3.3" fill="#684a64" opacity="0.52"/><ellipse cx="270.0" cy="430.0" rx="2.5" ry="2.3" fill="#6a4c68" opacity="0.62"/><ellipse cx="277.8" cy="431.2" rx="2.6" ry="2.5" fill="#684a64" opacity="0.71"/><ellipse cx="287.3" cy="429.8" rx="3.1" ry="2.5" fill="#5e4460" opacity="0.72"/><ellipse cx="288.9" cy="430.4" rx="2.8" ry="2.7" fill="#6a4c68" opacity="0.63"/><ellipse cx="300.3" cy="429.1" rx="3.1" ry="3.0" fill="#7a5a78" opacity="0.73"/><ellipse cx="302.6" cy="427.0" rx="3.1" ry="2.4" fill="#684a64" opacity="0.45"/><ellipse cx="308.6" cy="429.9" rx="2.5" ry="2.2" fill="#684a64" opacity="0.64"/><ellipse cx="317.3" cy="431.0" rx="2.7" ry="2.4" fill="#5e4460" opacity="0.75"/><ellipse cx="323.1" cy="431.1" rx="3.1" ry="2.5" fill="#684a64" opacity="0.46"/><ellipse cx="328.7" cy="428.5" rx="2.6" ry="2.6" fill="#5e4460" opacity="0.73"/><ellipse cx="333.7" cy="428.9" rx="3.1" ry="3.3" fill="#7a5a78" opacity="0.75"/><ellipse cx="340.5" cy="429.3" rx="2.4" ry="2.1" fill="#6a4c68" opacity="0.78"/><ellipse cx="350.0" cy="428.0" rx="3.1" ry="3.2" fill="#7a5a78" opacity="0.46"/><ellipse cx="279.7" cy="435.7" rx="2.7" ry="2.1" fill="#684a64" opacity="0.51"/><ellipse cx="287.8" cy="435.3" rx="3.2" ry="3.3" fill="#6a4c68" opacity="0.55"/><ellipse cx="294.3" cy="436.8" rx="3.0" ry="3.1" fill="#6a4c68" opacity="0.63"/><ellipse cx="300.5" cy="435.1" rx="3.3" ry="3.2" fill="#5e4460" opacity="0.73"/><ellipse cx="309.4" cy="433.4" rx="3.3" ry="3.4" fill="#7a5a78" opacity="0.57"/><ellipse cx="312.7" cy="435.7" rx="3.1" ry="2.5" fill="#684a64" opacity="0.51"/><ellipse cx="321.6" cy="437.4" rx="2.5" ry="2.2" fill="#5e4460" opacity="0.77"/><ellipse cx="328.9" cy="435.3" rx="3.2" ry="2.8" fill="#684a64" opacity="0.80"/><ellipse cx="333.8" cy="436.7" rx="2.5" ry="1.9" fill="#5e4460" opacity="0.66"/><ellipse cx="339.4" cy="436.6" rx="3.2" ry="3.3" fill="#6a4c68" opacity="0.74"/><ellipse cx="345.0" cy="437.6" rx="3.2" ry="2.6" fill="#5e4460" opacity="0.53"/><ellipse cx="273.4" cy="441.4" rx="2.5" ry="2.3" fill="#7a5a78" opacity="0.73"/><ellipse cx="281.0" cy="442.2" rx="3.3" ry="2.8" fill="#6a4c68" opacity="0.76"/><ellipse cx="285.7" cy="440.7" rx="2.4" ry="2.5" fill="#7a5a78" opacity="0.78"/><ellipse cx="297.2" cy="443.3" rx="2.5" ry="2.4" fill="#6a4c68" opacity="0.59"/><ellipse cx="306.2" cy="439.8" rx="3.4" ry="2.9" fill="#5e4460" opacity="0.78"/><ellipse cx="310.5" cy="439.4" rx="2.5" ry="2.4" fill="#5e4460" opacity="0.80"/><ellipse cx="315.7" cy="441.8" rx="2.7" ry="2.5" fill="#6a4c68" opacity="0.61"/><ellipse cx="322.1" cy="444.1" rx="3.4" ry="3.1" fill="#7a5a78" opacity="0.64"/><ellipse cx="327.4" cy="439.1" rx="2.6" ry="2.2" fill="#7a5a78" opacity="0.47"/><ellipse cx="338.2" cy="440.2" rx="3.1" ry="2.9" fill="#7a5a78" opacity="0.76"/><ellipse cx="341.8" cy="441.5" rx="3.0" ry="2.7" fill="#6a4c68" opacity="0.67"/><ellipse cx="346.9" cy="441.2" rx="3.0" ry="2.8" fill="#6a4c68" opacity="0.54"/><ellipse cx="269.7" cy="449.7" rx="2.7" ry="2.2" fill="#684a64" opacity="0.56"/><ellipse cx="273.3" cy="449.4" rx="2.8" ry="2.7" fill="#7a5a78" opacity="0.47"/><ellipse cx="284.3" cy="445.7" rx="3.1" ry="2.4" fill="#7a5a78" opacity="0.48"/><ellipse cx="286.0" cy="449.1" rx="2.7" ry="2.4" fill="#6a4c68" opacity="0.74"/><ellipse cx="293.5" cy="448.0" rx="3.1" ry="3.2" fill="#6a4c68" opacity="0.46"/><ellipse cx="301.2" cy="447.4" rx="2.6" ry="2.2" fill="#6a4c68" opacity="0.71"/><ellipse cx="311.9" cy="446.0" rx="2.8" ry="2.5" fill="#5e4460" opacity="0.55"/><ellipse cx="318.4" cy="449.8" rx="3.2" ry="3.0" fill="#684a64" opacity="0.76"/><ellipse cx="326.5" cy="447.1" rx="3.0" ry="2.4" fill="#5e4460" opacity="0.49"/><ellipse cx="333.4" cy="447.8" rx="3.2" ry="2.6" fill="#5e4460" opacity="0.75"/><ellipse cx="338.9" cy="447.5" rx="3.0" ry="2.3" fill="#7a5a78" opacity="0.77"/><ellipse cx="346.5" cy="450.5" rx="2.8" ry="2.4" fill="#6a4c68" opacity="0.66"/><ellipse cx="272.7" cy="453.4" rx="3.0" ry="2.7" fill="#5e4460" opacity="0.76"/><ellipse cx="278.2" cy="456.8" rx="3.2" ry="2.5" fill="#6a4c68" opacity="0.62"/><ellipse cx="284.9" cy="455.1" rx="3.0" ry="3.0" fill="#7a5a78" opacity="0.63"/><ellipse cx="289.7" cy="452.8" rx="2.9" ry="2.6" fill="#5e4460" opacity="0.46"/><ellipse cx="298.0" cy="456.1" rx="3.0" ry="3.1" fill="#684a64" opacity="0.54"/><ellipse cx="306.5" cy="455.0" rx="2.8" ry="2.3" fill="#6a4c68" opacity="0.57"/><ellipse cx="309.1" cy="455.8" rx="3.2" ry="2.9" fill="#7a5a78" opacity="0.60"/><ellipse cx="316.8" cy="452.9" rx="3.4" ry="2.7" fill="#7a5a78" opacity="0.53"/><ellipse cx="322.7" cy="453.7" rx="2.8" ry="2.7" fill="#5e4460" opacity="0.55"/><ellipse cx="331.9" cy="452.1" rx="2.6" ry="2.3" fill="#6a4c68" opacity="0.78"/><ellipse cx="336.9" cy="452.0" rx="3.3" ry="3.3" fill="#5e4460" opacity="0.48"/><ellipse cx="343.9" cy="454.5" rx="3.0" ry="3.1" fill="#5e4460" opacity="0.52"/><ellipse cx="350.4" cy="451.9" rx="2.7" ry="2.5" fill="#6a4c68" opacity="0.66"/><ellipse cx="268.5" cy="462.7" rx="3.1" ry="3.0" fill="#684a64" opacity="0.64"/><ellipse cx="282.3" cy="461.0" rx="2.6" ry="2.0" fill="#7a5a78" opacity="0.67"/><ellipse cx="289.2" cy="461.6" rx="3.4" ry="2.7" fill="#7a5a78" opacity="0.71"/><ellipse cx="295.4" cy="459.9" rx="3.1" ry="2.7" fill="#7a5a78" opacity="0.59"/><ellipse cx="301.5" cy="461.6" rx="2.7" ry="2.2" fill="#6a4c68" opacity="0.51"/><ellipse cx="306.0" cy="459.5" rx="3.0" ry="3.1" fill="#6a4c68" opacity="0.47"/><ellipse cx="311.9" cy="459.9" rx="3.3" ry="3.0" fill="#5e4460" opacity="0.65"/><ellipse cx="319.3" cy="462.0" rx="2.9" ry="2.5" fill="#6a4c68" opacity="0.66"/><ellipse cx="327.2" cy="459.3" rx="2.5" ry="2.6" fill="#7a5a78" opacity="0.57"/><ellipse cx="335.2" cy="461.2" rx="2.8" ry="2.8" fill="#5e4460" opacity="0.47"/><ellipse cx="341.2" cy="461.3" rx="2.9" ry="2.4" fill="#7a5a78" opacity="0.51"/><ellipse cx="346.1" cy="459.4" rx="2.5" ry="2.3" fill="#6a4c68" opacity="0.47"/><ellipse cx="269.8" cy="466.5" rx="2.8" ry="2.5" fill="#684a64" opacity="0.77"/><ellipse cx="279.3" cy="466.6" rx="3.0" ry="2.8" fill="#6a4c68" opacity="0.75"/><ellipse cx="287.0" cy="468.0" rx="2.8" ry="2.6" fill="#5e4460" opacity="0.65"/><ellipse cx="302.7" cy="468.1" rx="3.1" ry="3.1" fill="#6a4c68" opacity="0.67"/><ellipse cx="324.4" cy="468.3" rx="3.2" ry="3.0" fill="#6a4c68" opacity="0.51"/><ellipse cx="330.5" cy="469.6" rx="2.8" ry="2.8" fill="#5e4460" opacity="0.59"/><ellipse cx="337.2" cy="465.7" rx="3.2" ry="3.3" fill="#6a4c68" opacity="0.61"/><ellipse cx="342.9" cy="467.9" rx="3.2" ry="3.1" fill="#7a5a78" opacity="0.53"/><ellipse cx="349.5" cy="469.0" rx="2.7" ry="2.4" fill="#7a5a78" opacity="0.61"/><ellipse cx="269.4" cy="475.5" rx="2.7" ry="2.2" fill="#6a4c68" opacity="0.75"/><ellipse cx="280.0" cy="471.1" rx="2.9" ry="2.2" fill="#6a4c68" opacity="0.52"/><ellipse cx="290.0" cy="475.9" rx="2.6" ry="2.0" fill="#7a5a78" opacity="0.67"/><ellipse cx="294.1" cy="475.8" rx="3.1" ry="2.9" fill="#684a64" opacity="0.77"/><ellipse cx="303.4" cy="474.2" rx="2.8" ry="2.2" fill="#684a64" opacity="0.77"/><ellipse cx="307.9" cy="475.0" rx="3.2" ry="3.0" fill="#6a4c68" opacity="0.79"/><ellipse cx="312.8" cy="471.8" rx="2.6" ry="2.0" fill="#7a5a78" opacity="0.65"/><ellipse cx="321.3" cy="473.8" rx="3.2" ry="3.0" fill="#6a4c68" opacity="0.72"/><ellipse cx="328.2" cy="473.4" rx="2.8" ry="2.4" fill="#684a64" opacity="0.53"/><ellipse cx="334.0" cy="471.9" rx="2.4" ry="1.8" fill="#6a4c68" opacity="0.48"/><ellipse cx="338.3" cy="472.6" rx="2.6" ry="2.2" fill="#6a4c68" opacity="0.79"/><ellipse cx="348.1" cy="471.5" rx="2.9" ry="3.0" fill="#684a64" opacity="0.62"/><ellipse cx="272.3" cy="477.8" rx="2.7" ry="2.0" fill="#6a4c68" opacity="0.56"/><ellipse cx="279.3" cy="481.0" rx="2.9" ry="2.8" fill="#5e4460" opacity="0.71"/><ellipse cx="283.4" cy="477.9" rx="2.9" ry="2.7" fill="#684a64" opacity="0.63"/><ellipse cx="292.7" cy="480.9" rx="3.4" ry="2.6" fill="#7a5a78" opacity="0.49"/><ellipse cx="304.5" cy="479.9" rx="3.2" ry="2.5" fill="#5e4460" opacity="0.46"/><ellipse cx="334.7" cy="480.1" rx="2.9" ry="2.4" fill="#7a5a78" opacity="0.66"/><ellipse cx="340.6" cy="479.8" rx="3.3" ry="3.1" fill="#6a4c68" opacity="0.51"/><ellipse cx="350.2" cy="482.1" rx="2.7" ry="2.7" fill="#5e4460" opacity="0.73"/><ellipse cx="270.9" cy="485.5" rx="2.5" ry="2.2" fill="#6a4c68" opacity="0.77"/><ellipse cx="283.7" cy="487.0" rx="2.5" ry="2.2" fill="#5e4460" opacity="0.61"/><ellipse cx="299.1" cy="488.1" rx="3.0" ry="2.8" fill="#7a5a78" opacity="0.59"/><ellipse cx="306.3" cy="485.1" rx="2.8" ry="2.4" fill="#7a5a78" opacity="0.78"/><ellipse cx="315.5" cy="488.4" rx="2.5" ry="2.2" fill="#7a5a78" opacity="0.80"/><ellipse cx="322.4" cy="485.9" rx="2.6" ry="2.3" fill="#7a5a78" opacity="0.60"/><ellipse cx="327.4" cy="487.0" rx="2.6" ry="2.3" fill="#684a64" opacity="0.74"/><ellipse cx="331.7" cy="486.7" rx="2.9" ry="2.3" fill="#6a4c68" opacity="0.64"/><ellipse cx="340.0" cy="488.2" rx="3.1" ry="2.4" fill="#7a5a78" opacity="0.79"/><ellipse cx="348.3" cy="488.9" rx="2.6" ry="2.6" fill="#684a64" opacity="0.47"/><ellipse cx="274.5" cy="491.3" rx="3.0" ry="3.0" fill="#684a64" opacity="0.48"/><ellipse cx="277.4" cy="494.8" rx="2.6" ry="2.1" fill="#6a4c68" opacity="0.53"/><ellipse cx="284.6" cy="493.4" rx="2.7" ry="2.2" fill="#684a64" opacity="0.49"/><ellipse cx="290.0" cy="492.9" rx="3.4" ry="2.6" fill="#7a5a78" opacity="0.65"/><ellipse cx="296.7" cy="491.3" rx="2.9" ry="2.4" fill="#5e4460" opacity="0.68"/><ellipse cx="306.6" cy="493.4" rx="2.7" ry="2.0" fill="#7a5a78" opacity="0.57"/><ellipse cx="312.4" cy="491.7" rx="3.2" ry="2.6" fill="#684a64" opacity="0.68"/><ellipse cx="318.0" cy="495.4" rx="3.1" ry="3.1" fill="#6a4c68" opacity="0.55"/><ellipse cx="324.2" cy="495.1" rx="3.1" ry="2.4" fill="#684a64" opacity="0.78"/><ellipse cx="329.8" cy="494.6" rx="2.7" ry="2.5" fill="#5e4460" opacity="0.78"/><ellipse cx="335.1" cy="493.3" rx="3.4" ry="3.0" fill="#7a5a78" opacity="0.61"/><ellipse cx="343.4" cy="493.4" rx="2.4" ry="2.2" fill="#5e4460" opacity="0.65"/><ellipse cx="351.2" cy="491.1" rx="2.5" ry="2.3" fill="#5e4460" opacity="0.50"/><ellipse cx="267.0" cy="496.9" rx="2.7" ry="2.8" fill="#5e4460" opacity="0.48"/><ellipse cx="274.0" cy="500.2" rx="3.3" ry="3.5" fill="#6a4c68" opacity="0.76"/><ellipse cx="281.8" cy="497.6" rx="3.2" ry="3.2" fill="#6a4c68" opacity="0.57"/><ellipse cx="286.6" cy="498.8" rx="2.6" ry="2.7" fill="#684a64" opacity="0.74"/><ellipse cx="294.4" cy="497.0" rx="2.4" ry="2.6" fill="#684a64" opacity="0.65"/><ellipse cx="299.3" cy="501.2" rx="2.5" ry="1.9" fill="#7a5a78" opacity="0.69"/><ellipse cx="307.0" cy="499.2" rx="2.9" ry="2.6" fill="#5e4460" opacity="0.74"/><ellipse cx="313.0" cy="501.5" rx="3.2" ry="3.0" fill="#684a64" opacity="0.70"/><ellipse cx="334.3" cy="497.4" rx="2.4" ry="2.0" fill="#7a5a78" opacity="0.74"/><ellipse cx="346.4" cy="498.2" rx="3.4" ry="3.4" fill="#684a64" opacity="0.56"/></g></g><rect x="265.8" y="419.2" width="80.4" height="80.4" filter="url(#mem6)"/><rect x="312.30" y="489.80" width="32.40" height="7.20" fill="#fff"/><line x1="314.80" y1="497.50" x2="342.20" y2="497.50" stroke="#444" stroke-width="0.9"/><text x="328.50" y="495.30" font-size="6" text-anchor="middle" class="n">50 μm</text><rect x="354.0" y="419.2" width="80.4" height="80.4" filter="url(#bg7)"/><g clip-path="url(#cp7)"><g filter="url(#soft)"><ellipse cx="380.0" cy="431.3" rx="4.1" ry="0.8" transform="rotate(96 380.0 431.3)" fill="#ecd8a0" opacity="0.83"/><ellipse cx="427.1" cy="436.5" rx="1.8" ry="1.2" transform="rotate(43 427.1 436.5)" fill="#ecd8a0" opacity="0.62"/><ellipse cx="399.5" cy="495.4" rx="4.0" ry="1.5" transform="rotate(11 399.5 495.4)" fill="#ecd8a0" opacity="0.62"/><ellipse cx="371.8" cy="464.0" rx="2.0" ry="1.2" transform="rotate(97 371.8 464.0)" fill="#ecd8a0" opacity="0.82"/><ellipse cx="408.8" cy="427.5" rx="3.8" ry="0.9" transform="rotate(18 408.8 427.5)" fill="#ecd8a0" opacity="0.83"/><ellipse cx="403.8" cy="459.1" rx="3.6" ry="1.7" transform="rotate(84 403.8 459.1)" fill="#ecd8a0" opacity="0.74"/><ellipse cx="374.0" cy="433.7" rx="4.6" ry="0.8" transform="rotate(54 374.0 433.7)" fill="#ecd8a0" opacity="0.95"/><ellipse cx="412.6" cy="442.4" rx="5.4" ry="0.9" transform="rotate(75 412.6 442.4)" fill="#ecd8a0" opacity="0.66"/><ellipse cx="393.3" cy="422.4" rx="4.2" ry="1.7" transform="rotate(103 393.3 422.4)" fill="#ecd8a0" opacity="0.74"/><ellipse cx="382.2" cy="459.1" rx="4.7" ry="0.8" transform="rotate(17 382.2 459.1)" fill="#ecd8a0" opacity="0.79"/><ellipse cx="407.4" cy="424.1" rx="4.3" ry="1.5" transform="rotate(179 407.4 424.1)" fill="#ecd8a0" opacity="0.71"/><ellipse cx="385.0" cy="473.0" rx="1.6" ry="1.3" transform="rotate(30 385.0 473.0)" fill="#ecd8a0" opacity="0.80"/><ellipse cx="371.5" cy="442.3" rx="4.5" ry="1.2" transform="rotate(165 371.5 442.3)" fill="#ecd8a0" opacity="0.63"/><ellipse cx="390.1" cy="463.4" rx="5.0" ry="1.8" transform="rotate(156 390.1 463.4)" fill="#ecd8a0" opacity="0.88"/><ellipse cx="433.3" cy="474.1" rx="3.0" ry="1.0" transform="rotate(15 433.3 474.1)" fill="#ecd8a0" opacity="0.69"/><ellipse cx="372.8" cy="458.2" rx="3.9" ry="1.0" transform="rotate(1 372.8 458.2)" fill="#ecd8a0" opacity="0.81"/><ellipse cx="356.2" cy="420.4" rx="3.3" ry="3.4" fill="#7672a4" opacity="0.72"/><ellipse cx="364.7" cy="424.2" rx="3.2" ry="2.8" fill="#7672a4" opacity="0.53"/><ellipse cx="380.2" cy="421.5" rx="2.5" ry="1.8" fill="#8c84b4" opacity="0.53"/><ellipse cx="386.0" cy="420.9" rx="2.8" ry="2.6" fill="#7672a4" opacity="0.68"/><ellipse cx="396.0" cy="424.7" rx="2.9" ry="2.6" fill="#8c84b4" opacity="0.53"/><ellipse cx="400.4" cy="423.3" rx="2.9" ry="2.4" fill="#8480b0" opacity="0.61"/><ellipse cx="405.7" cy="423.0" rx="2.5" ry="2.5" fill="#8c84b4" opacity="0.77"/><ellipse cx="413.1" cy="423.7" rx="2.7" ry="2.2" fill="#7e78a8" opacity="0.80"/><ellipse cx="420.7" cy="423.5" rx="2.6" ry="2.4" fill="#8480b0" opacity="0.51"/><ellipse cx="425.2" cy="420.8" rx="3.0" ry="2.6" fill="#8c84b4" opacity="0.72"/><ellipse cx="430.8" cy="420.9" rx="2.6" ry="2.1" fill="#8480b0" opacity="0.69"/><ellipse cx="361.0" cy="430.0" rx="2.5" ry="2.4" fill="#7e78a8" opacity="0.73"/><ellipse cx="364.8" cy="429.9" rx="2.7" ry="2.7" fill="#7672a4" opacity="0.62"/><ellipse cx="370.5" cy="426.8" rx="3.4" ry="2.6" fill="#7e78a8" opacity="0.64"/><ellipse cx="379.3" cy="428.4" rx="3.3" ry="2.7" fill="#8480b0" opacity="0.51"/><ellipse cx="387.2" cy="428.2" rx="3.3" ry="3.3" fill="#8c84b4" opacity="0.58"/><ellipse cx="392.5" cy="427.6" rx="2.9" ry="2.9" fill="#7672a4" opacity="0.72"/><ellipse cx="399.0" cy="428.6" rx="3.2" ry="3.3" fill="#8480b0" opacity="0.55"/><ellipse cx="405.0" cy="429.0" rx="3.2" ry="2.5" fill="#8480b0" opacity="0.69"/><ellipse cx="408.9" cy="428.6" rx="3.0" ry="2.9" fill="#7e78a8" opacity="0.67"/><ellipse cx="413.7" cy="426.5" rx="2.9" ry="2.2" fill="#8c84b4" opacity="0.52"/><ellipse cx="422.2" cy="428.6" rx="3.1" ry="2.7" fill="#7e78a8" opacity="0.64"/><ellipse cx="430.3" cy="430.7" rx="2.7" ry="2.4" fill="#7e78a8" opacity="0.75"/><ellipse cx="434.1" cy="427.6" rx="3.1" ry="2.7" fill="#8480b0" opacity="0.59"/><ellipse cx="355.4" cy="435.8" rx="3.1" ry="2.4" fill="#7e78a8" opacity="0.79"/><ellipse cx="361.3" cy="436.6" rx="2.6" ry="2.4" fill="#7672a4" opacity="0.71"/><ellipse cx="368.0" cy="433.8" rx="3.1" ry="2.4" fill="#8480b0" opacity="0.63"/><ellipse cx="375.8" cy="433.7" rx="3.4" ry="2.6" fill="#8480b0" opacity="0.57"/><ellipse cx="390.1" cy="433.1" rx="3.2" ry="3.1" fill="#8c84b4" opacity="0.70"/><ellipse cx="394.5" cy="434.8" rx="2.9" ry="2.5" fill="#7e78a8" opacity="0.74"/><ellipse cx="398.4" cy="436.9" rx="3.0" ry="3.0" fill="#8480b0" opacity="0.76"/><ellipse cx="404.8" cy="432.3" rx="3.4" ry="3.0" fill="#8480b0" opacity="0.69"/><ellipse cx="411.6" cy="432.8" rx="2.6" ry="2.0" fill="#8c84b4" opacity="0.59"/><ellipse cx="417.6" cy="434.4" rx="3.1" ry="2.6" fill="#8480b0" opacity="0.80"/><ellipse cx="431.8" cy="433.2" rx="2.9" ry="3.0" fill="#7672a4" opacity="0.75"/><ellipse cx="360.4" cy="442.8" rx="3.4" ry="2.8" fill="#7e78a8" opacity="0.57"/><ellipse cx="367.4" cy="441.6" rx="2.8" ry="2.4" fill="#8480b0" opacity="0.54"/><ellipse cx="374.5" cy="440.6" rx="2.5" ry="2.3" fill="#8c84b4" opacity="0.65"/><ellipse cx="379.8" cy="438.6" rx="2.6" ry="2.1" fill="#8c84b4" opacity="0.61"/><ellipse cx="385.2" cy="439.6" rx="3.4" ry="2.8" fill="#7672a4" opacity="0.50"/><ellipse cx="398.2" cy="439.7" rx="3.2" ry="2.5" fill="#8480b0" opacity="0.54"/><ellipse cx="402.6" cy="441.5" rx="2.5" ry="2.6" fill="#7672a4" opacity="0.55"/><ellipse cx="410.9" cy="440.9" rx="2.7" ry="2.5" fill="#7672a4" opacity="0.75"/><ellipse cx="417.5" cy="439.1" rx="2.9" ry="2.6" fill="#7e78a8" opacity="0.74"/><ellipse cx="436.9" cy="440.3" rx="2.9" ry="2.2" fill="#7e78a8" opacity="0.66"/><ellipse cx="354.6" cy="448.6" rx="3.1" ry="2.8" fill="#8480b0" opacity="0.70"/><ellipse cx="363.2" cy="448.6" rx="3.2" ry="2.7" fill="#7672a4" opacity="0.57"/><ellipse cx="368.9" cy="447.0" rx="3.1" ry="3.0" fill="#8480b0" opacity="0.69"/><ellipse cx="374.9" cy="447.9" rx="3.1" ry="2.9" fill="#7672a4" opacity="0.64"/><ellipse cx="382.8" cy="448.1" rx="3.1" ry="2.6" fill="#7672a4" opacity="0.64"/><ellipse cx="390.5" cy="447.3" rx="2.7" ry="2.1" fill="#8480b0" opacity="0.59"/><ellipse cx="396.6" cy="446.8" rx="2.7" ry="2.2" fill="#8480b0" opacity="0.56"/><ellipse cx="400.6" cy="449.3" rx="2.5" ry="2.5" fill="#8c84b4" opacity="0.77"/><ellipse cx="408.7" cy="447.0" rx="2.4" ry="1.8" fill="#8c84b4" opacity="0.64"/><ellipse cx="412.5" cy="446.5" rx="2.5" ry="2.1" fill="#7672a4" opacity="0.60"/><ellipse cx="421.2" cy="448.2" rx="3.3" ry="2.8" fill="#8480b0" opacity="0.62"/><ellipse cx="424.9" cy="446.0" rx="2.4" ry="1.9" fill="#7e78a8" opacity="0.59"/><ellipse cx="430.3" cy="447.2" rx="2.6" ry="2.2" fill="#7672a4" opacity="0.77"/><ellipse cx="362.4" cy="453.5" rx="3.1" ry="2.4" fill="#7e78a8" opacity="0.64"/><ellipse cx="365.3" cy="451.1" rx="3.3" ry="2.6" fill="#8c84b4" opacity="0.60"/><ellipse cx="373.8" cy="454.1" rx="2.8" ry="2.3" fill="#8480b0" opacity="0.70"/><ellipse cx="377.1" cy="451.9" rx="3.3" ry="3.0" fill="#7672a4" opacity="0.77"/><ellipse cx="385.2" cy="452.0" rx="2.6" ry="2.4" fill="#7e78a8" opacity="0.61"/><ellipse cx="392.4" cy="452.9" rx="2.8" ry="2.6" fill="#8480b0" opacity="0.60"/><ellipse cx="397.8" cy="452.6" rx="3.1" ry="2.8" fill="#8480b0" opacity="0.75"/><ellipse cx="402.4" cy="452.8" rx="2.8" ry="2.9" fill="#8480b0" opacity="0.76"/><ellipse cx="409.4" cy="454.6" rx="3.2" ry="3.3" fill="#7672a4" opacity="0.52"/><ellipse cx="414.8" cy="451.4" rx="2.6" ry="2.3" fill="#7672a4" opacity="0.78"/><ellipse cx="425.9" cy="451.4" rx="3.0" ry="2.3" fill="#8c84b4" opacity="0.79"/><ellipse cx="434.3" cy="454.6" rx="2.5" ry="2.1" fill="#8c84b4" opacity="0.56"/><ellipse cx="357.6" cy="457.1" rx="2.7" ry="2.4" fill="#7e78a8" opacity="0.69"/><ellipse cx="362.0" cy="458.2" rx="3.4" ry="3.2" fill="#7672a4" opacity="0.51"/><ellipse cx="370.2" cy="457.4" rx="2.6" ry="2.3" fill="#8c84b4" opacity="0.65"/><ellipse cx="375.0" cy="459.0" rx="2.4" ry="2.0" fill="#7672a4" opacity="0.52"/><ellipse cx="381.0" cy="461.1" rx="2.6" ry="2.1" fill="#7672a4" opacity="0.59"/><ellipse cx="390.1" cy="459.4" rx="3.3" ry="2.5" fill="#8480b0" opacity="0.78"/><ellipse cx="396.7" cy="457.7" rx="2.5" ry="1.9" fill="#8c84b4" opacity="0.77"/><ellipse cx="403.0" cy="461.6" rx="2.7" ry="2.2" fill="#8480b0" opacity="0.72"/><ellipse cx="407.8" cy="461.2" rx="3.4" ry="3.0" fill="#8480b0" opacity="0.52"/><ellipse cx="415.2" cy="457.6" rx="3.4" ry="2.7" fill="#7672a4" opacity="0.75"/><ellipse cx="423.8" cy="459.7" rx="2.8" ry="2.4" fill="#7672a4" opacity="0.64"/><ellipse cx="432.1" cy="459.0" rx="2.8" ry="2.5" fill="#7e78a8" opacity="0.52"/><ellipse cx="362.2" cy="464.9" rx="2.7" ry="2.8" fill="#8c84b4" opacity="0.58"/><ellipse cx="365.4" cy="466.8" rx="3.0" ry="3.0" fill="#7e78a8" opacity="0.52"/><ellipse cx="378.6" cy="467.1" rx="3.2" ry="3.3" fill="#7672a4" opacity="0.54"/><ellipse cx="386.5" cy="466.9" rx="3.2" ry="3.2" fill="#8c84b4" opacity="0.60"/><ellipse cx="392.6" cy="466.2" rx="2.9" ry="2.5" fill="#8480b0" opacity="0.62"/><ellipse cx="397.6" cy="464.0" rx="2.8" ry="2.2" fill="#7e78a8" opacity="0.69"/><ellipse cx="410.8" cy="465.4" rx="2.6" ry="2.3" fill="#8480b0" opacity="0.70"/><ellipse cx="415.0" cy="464.6" rx="2.7" ry="2.2" fill="#7e78a8" opacity="0.63"/><ellipse cx="420.5" cy="467.6" rx="3.0" ry="2.5" fill="#7e78a8" opacity="0.80"/><ellipse cx="426.4" cy="465.5" rx="2.4" ry="1.8" fill="#7672a4" opacity="0.57"/><ellipse cx="432.3" cy="464.7" rx="2.5" ry="2.0" fill="#8480b0" opacity="0.67"/><ellipse cx="358.9" cy="471.6" rx="2.7" ry="2.6" fill="#8c84b4" opacity="0.53"/><ellipse cx="362.6" cy="470.1" rx="2.6" ry="2.2" fill="#7e78a8" opacity="0.70"/><ellipse cx="371.1" cy="471.4" rx="2.8" ry="2.6" fill="#7672a4" opacity="0.51"/><ellipse cx="373.5" cy="469.9" rx="2.8" ry="2.6" fill="#7e78a8" opacity="0.53"/><ellipse cx="380.8" cy="474.3" rx="3.1" ry="2.7" fill="#8c84b4" opacity="0.72"/><ellipse cx="385.7" cy="473.2" rx="3.2" ry="3.0" fill="#8480b0" opacity="0.62"/><ellipse cx="392.6" cy="470.0" rx="2.5" ry="2.3" fill="#7e78a8" opacity="0.73"/><ellipse cx="407.4" cy="473.9" rx="2.5" ry="2.3" fill="#7e78a8" opacity="0.65"/><ellipse cx="411.2" cy="470.3" rx="2.5" ry="2.1" fill="#7e78a8" opacity="0.74"/><ellipse cx="420.8" cy="469.6" rx="3.3" ry="2.8" fill="#8480b0" opacity="0.69"/><ellipse cx="425.9" cy="473.5" rx="2.6" ry="2.5" fill="#7e78a8" opacity="0.62"/><ellipse cx="429.9" cy="470.5" rx="2.8" ry="2.5" fill="#7e78a8" opacity="0.54"/><ellipse cx="361.8" cy="476.6" rx="3.3" ry="3.3" fill="#8c84b4" opacity="0.70"/><ellipse cx="372.8" cy="478.7" rx="2.7" ry="2.4" fill="#8c84b4" opacity="0.63"/><ellipse cx="378.5" cy="475.7" rx="3.0" ry="2.7" fill="#7672a4" opacity="0.73"/><ellipse cx="386.5" cy="477.6" rx="2.5" ry="2.1" fill="#8480b0" opacity="0.74"/><ellipse cx="399.5" cy="477.2" rx="3.1" ry="2.4" fill="#7e78a8" opacity="0.77"/><ellipse cx="417.0" cy="476.2" rx="2.5" ry="2.6" fill="#7e78a8" opacity="0.74"/><ellipse cx="423.3" cy="476.7" rx="3.2" ry="3.0" fill="#8c84b4" opacity="0.60"/><ellipse cx="428.2" cy="476.9" rx="3.4" ry="3.0" fill="#7e78a8" opacity="0.68"/><ellipse cx="432.3" cy="476.5" rx="2.6" ry="2.6" fill="#7e78a8" opacity="0.77"/><ellipse cx="355.9" cy="485.6" rx="2.4" ry="2.5" fill="#8480b0" opacity="0.64"/><ellipse cx="363.5" cy="486.1" rx="3.1" ry="2.7" fill="#7e78a8" opacity="0.61"/><ellipse cx="370.8" cy="484.0" rx="2.6" ry="2.5" fill="#8c84b4" opacity="0.75"/><ellipse cx="378.0" cy="486.1" rx="3.3" ry="3.4" fill="#7e78a8" opacity="0.72"/><ellipse cx="382.5" cy="484.0" rx="2.9" ry="3.0" fill="#8480b0" opacity="0.57"/><ellipse cx="398.5" cy="483.6" rx="2.6" ry="2.4" fill="#7672a4" opacity="0.56"/><ellipse cx="404.3" cy="485.8" rx="3.1" ry="2.8" fill="#8c84b4" opacity="0.54"/><ellipse cx="411.7" cy="481.9" rx="3.0" ry="2.8" fill="#7672a4" opacity="0.69"/><ellipse cx="419.2" cy="484.3" rx="2.6" ry="1.9" fill="#7e78a8" opacity="0.51"/><ellipse cx="423.1" cy="485.7" rx="2.4" ry="2.2" fill="#7e78a8" opacity="0.54"/><ellipse cx="432.2" cy="485.0" rx="2.8" ry="2.6" fill="#8480b0" opacity="0.52"/><ellipse cx="361.3" cy="490.4" rx="2.9" ry="2.5" fill="#8480b0" opacity="0.77"/><ellipse cx="366.2" cy="489.1" rx="2.5" ry="2.1" fill="#8c84b4" opacity="0.60"/><ellipse cx="371.4" cy="490.8" rx="2.8" ry="2.8" fill="#7e78a8" opacity="0.58"/><ellipse cx="383.4" cy="492.5" rx="3.2" ry="2.6" fill="#7e78a8" opacity="0.77"/><ellipse cx="390.3" cy="489.2" rx="3.3" ry="3.1" fill="#7672a4" opacity="0.70"/><ellipse cx="397.6" cy="488.1" rx="2.4" ry="2.5" fill="#7e78a8" opacity="0.77"/><ellipse cx="404.0" cy="490.8" rx="2.6" ry="2.0" fill="#7e78a8" opacity="0.69"/><ellipse cx="408.0" cy="488.2" rx="2.4" ry="2.3" fill="#8480b0" opacity="0.71"/><ellipse cx="421.5" cy="492.1" rx="3.2" ry="3.3" fill="#7672a4" opacity="0.76"/><ellipse cx="432.7" cy="488.2" rx="3.2" ry="3.2" fill="#8c84b4" opacity="0.75"/><ellipse cx="355.3" cy="498.1" rx="3.0" ry="2.6" fill="#8c84b4" opacity="0.58"/><ellipse cx="362.2" cy="497.8" rx="2.8" ry="2.3" fill="#8c84b4" opacity="0.65"/><ellipse cx="367.2" cy="496.3" rx="2.8" ry="2.8" fill="#7e78a8" opacity="0.71"/><ellipse cx="377.3" cy="497.1" rx="2.7" ry="2.4" fill="#8480b0" opacity="0.59"/><ellipse cx="388.1" cy="498.2" rx="2.6" ry="2.3" fill="#8c84b4" opacity="0.75"/><ellipse cx="392.6" cy="498.3" rx="3.3" ry="2.7" fill="#8480b0" opacity="0.78"/><ellipse cx="402.9" cy="497.0" rx="2.5" ry="2.1" fill="#8480b0" opacity="0.78"/><ellipse cx="407.4" cy="496.1" rx="2.7" ry="2.4" fill="#7e78a8" opacity="0.55"/><ellipse cx="411.0" cy="497.2" rx="3.1" ry="2.9" fill="#7e78a8" opacity="0.67"/><ellipse cx="418.9" cy="497.0" rx="2.7" ry="2.4" fill="#7e78a8" opacity="0.58"/><ellipse cx="425.1" cy="498.6" rx="2.6" ry="2.1" fill="#7e78a8" opacity="0.71"/><ellipse cx="433.9" cy="497.8" rx="3.0" ry="2.6" fill="#8c84b4" opacity="0.79"/></g></g><rect x="354.0" y="419.2" width="80.4" height="80.4" filter="url(#mem7)"/><rect x="400.50" y="489.80" width="32.40" height="7.20" fill="#fff"/><line x1="403.00" y1="497.50" x2="430.40" y2="497.50" stroke="#444" stroke-width="0.9"/><text x="416.70" y="495.30" font-size="6" text-anchor="middle" class="n">50 μm</text><rect x="438.3" y="419.2" width="81.2" height="80.4" filter="url(#bg8)"/><g clip-path="url(#cp8)"><g filter="url(#soft)"><ellipse cx="456.7" cy="496.6" rx="2.0" ry="1.6" transform="rotate(15 456.7 496.6)" fill="#d8b878" opacity="0.92"/><ellipse cx="479.4" cy="451.4" rx="1.6" ry="1.3" transform="rotate(70 479.4 451.4)" fill="#d8b878" opacity="0.96"/><ellipse cx="471.0" cy="458.2" rx="4.5" ry="1.6" transform="rotate(94 471.0 458.2)" fill="#ecd8a0" opacity="0.96"/><ellipse cx="469.1" cy="428.3" rx="2.5" ry="2.0" transform="rotate(11 469.1 428.3)" fill="#ecd8a0" opacity="0.64"/><ellipse cx="443.0" cy="438.0" rx="1.8" ry="1.9" transform="rotate(93 443.0 438.0)" fill="#d8b878" opacity="0.83"/><ellipse cx="449.8" cy="424.4" rx="5.3" ry="1.3" transform="rotate(35 449.8 424.4)" fill="#ecd8a0" opacity="0.89"/><ellipse cx="509.8" cy="442.2" rx="2.9" ry="1.8" transform="rotate(24 509.8 442.2)" fill="#d8b878" opacity="0.81"/><ellipse cx="463.8" cy="447.9" rx="4.1" ry="1.3" transform="rotate(112 463.8 447.9)" fill="#ecd8a0" opacity="0.66"/><ellipse cx="481.2" cy="460.2" rx="1.8" ry="1.9" transform="rotate(91 481.2 460.2)" fill="#d8b878" opacity="0.74"/><ellipse cx="512.0" cy="443.0" rx="2.4" ry="0.7" transform="rotate(46 512.0 443.0)" fill="#ecd8a0" opacity="0.93"/><ellipse cx="510.7" cy="433.3" rx="3.1" ry="0.9" transform="rotate(119 510.7 433.3)" fill="#d8b878" opacity="0.68"/><ellipse cx="500.5" cy="443.3" rx="1.6" ry="1.7" transform="rotate(62 500.5 443.3)" fill="#d8b878" opacity="0.83"/><ellipse cx="439.7" cy="422.7" rx="2.8" ry="2.2" fill="#6a4c68" opacity="0.70"/><ellipse cx="460.0" cy="424.0" rx="2.9" ry="2.8" fill="#6a4c68" opacity="0.47"/><ellipse cx="466.3" cy="423.2" rx="2.5" ry="2.1" fill="#684a64" opacity="0.58"/><ellipse cx="475.4" cy="420.0" rx="3.4" ry="3.3" fill="#5e4460" opacity="0.65"/><ellipse cx="479.5" cy="420.5" rx="2.6" ry="2.1" fill="#684a64" opacity="0.73"/><ellipse cx="486.7" cy="422.2" rx="2.5" ry="2.2" fill="#684a64" opacity="0.70"/><ellipse cx="494.3" cy="422.2" rx="2.5" ry="1.9" fill="#6a4c68" opacity="0.52"/><ellipse cx="499.7" cy="420.0" rx="2.8" ry="2.4" fill="#5e4460" opacity="0.79"/><ellipse cx="504.6" cy="421.8" rx="2.9" ry="2.4" fill="#6a4c68" opacity="0.55"/><ellipse cx="514.1" cy="424.9" rx="2.6" ry="2.2" fill="#7a5a78" opacity="0.79"/><ellipse cx="519.5" cy="421.5" rx="2.7" ry="2.7" fill="#6a4c68" opacity="0.76"/><ellipse cx="444.0" cy="431.1" rx="3.2" ry="2.7" fill="#7a5a78" opacity="0.66"/><ellipse cx="451.6" cy="428.1" rx="2.8" ry="2.5" fill="#7a5a78" opacity="0.74"/><ellipse cx="457.5" cy="430.7" rx="3.4" ry="3.3" fill="#7a5a78" opacity="0.74"/><ellipse cx="465.6" cy="427.6" rx="3.4" ry="3.2" fill="#5e4460" opacity="0.54"/><ellipse cx="471.6" cy="427.5" rx="3.2" ry="3.0" fill="#6a4c68" opacity="0.58"/><ellipse cx="476.1" cy="429.6" rx="3.2" ry="3.3" fill="#5e4460" opacity="0.73"/><ellipse cx="488.3" cy="426.7" rx="2.9" ry="2.7" fill="#5e4460" opacity="0.65"/><ellipse cx="497.8" cy="429.6" rx="2.7" ry="2.1" fill="#7a5a78" opacity="0.75"/><ellipse cx="500.1" cy="427.4" rx="2.4" ry="2.4" fill="#7a5a78" opacity="0.71"/><ellipse cx="517.2" cy="429.4" rx="2.8" ry="2.3" fill="#6a4c68" opacity="0.50"/><ellipse cx="440.4" cy="433.5" rx="3.1" ry="2.5" fill="#5e4460" opacity="0.64"/><ellipse cx="448.2" cy="434.3" rx="3.3" ry="3.2" fill="#6a4c68" opacity="0.65"/><ellipse cx="456.5" cy="433.3" rx="2.7" ry="2.4" fill="#6a4c68" opacity="0.72"/><ellipse cx="460.4" cy="436.1" rx="2.7" ry="2.7" fill="#7a5a78" opacity="0.69"/><ellipse cx="469.6" cy="435.1" rx="2.8" ry="2.8" fill="#684a64" opacity="0.56"/><ellipse cx="475.2" cy="434.1" rx="3.0" ry="2.7" fill="#5e4460" opacity="0.63"/><ellipse cx="479.3" cy="433.3" rx="2.9" ry="2.6" fill="#7a5a78" opacity="0.46"/><ellipse cx="485.3" cy="434.6" rx="2.4" ry="2.5" fill="#5e4460" opacity="0.46"/><ellipse cx="495.0" cy="436.6" rx="3.2" ry="3.0" fill="#7a5a78" opacity="0.76"/><ellipse cx="496.7" cy="435.7" rx="3.1" ry="3.2" fill="#6a4c68" opacity="0.78"/><ellipse cx="503.8" cy="433.8" rx="2.8" ry="2.4" fill="#7a5a78" opacity="0.73"/><ellipse cx="512.8" cy="436.4" rx="3.3" ry="3.2" fill="#5e4460" opacity="0.47"/><ellipse cx="518.2" cy="435.1" rx="2.6" ry="2.0" fill="#684a64" opacity="0.46"/><ellipse cx="445.1" cy="440.4" rx="3.2" ry="2.7" fill="#6a4c68" opacity="0.61"/><ellipse cx="451.9" cy="440.8" rx="3.0" ry="2.9" fill="#684a64" opacity="0.66"/><ellipse cx="457.9" cy="440.1" rx="2.9" ry="2.7" fill="#6a4c68" opacity="0.63"/><ellipse cx="471.6" cy="440.2" rx="3.0" ry="2.5" fill="#6a4c68" opacity="0.52"/><ellipse cx="484.8" cy="440.7" rx="2.4" ry="1.8" fill="#7a5a78" opacity="0.49"/><ellipse cx="487.0" cy="443.2" rx="2.7" ry="2.7" fill="#6a4c68" opacity="0.77"/><ellipse cx="496.8" cy="441.7" rx="2.6" ry="2.7" fill="#684a64" opacity="0.74"/><ellipse cx="501.9" cy="439.8" rx="2.5" ry="2.5" fill="#7a5a78" opacity="0.68"/><ellipse cx="508.4" cy="439.3" rx="2.8" ry="2.7" fill="#684a64" opacity="0.55"/><ellipse cx="513.4" cy="439.3" rx="3.2" ry="2.7" fill="#6a4c68" opacity="0.55"/><ellipse cx="520.0" cy="442.6" rx="3.1" ry="2.5" fill="#684a64" opacity="0.68"/><ellipse cx="443.2" cy="446.7" rx="3.3" ry="2.9" fill="#684a64" opacity="0.74"/><ellipse cx="449.8" cy="450.4" rx="3.0" ry="2.8" fill="#7a5a78" opacity="0.53"/><ellipse cx="452.6" cy="446.7" rx="2.6" ry="2.5" fill="#5e4460" opacity="0.52"/><ellipse cx="459.5" cy="447.7" rx="3.4" ry="2.7" fill="#6a4c68" opacity="0.66"/><ellipse cx="466.6" cy="449.4" rx="2.5" ry="2.2" fill="#684a64" opacity="0.68"/><ellipse cx="471.0" cy="447.2" rx="3.1" ry="3.1" fill="#6a4c68" opacity="0.46"/><ellipse cx="480.4" cy="448.0" rx="2.8" ry="2.5" fill="#6a4c68" opacity="0.66"/><ellipse cx="490.6" cy="445.6" rx="2.6" ry="2.7" fill="#7a5a78" opacity="0.57"/><ellipse cx="499.6" cy="450.4" rx="3.1" ry="2.6" fill="#6a4c68" opacity="0.76"/><ellipse cx="505.3" cy="449.3" rx="3.3" ry="3.0" fill="#684a64" opacity="0.69"/><ellipse cx="512.0" cy="449.9" rx="3.1" ry="3.2" fill="#5e4460" opacity="0.67"/><ellipse cx="519.5" cy="448.3" rx="3.4" ry="3.1" fill="#5e4460" opacity="0.51"/><ellipse cx="446.7" cy="456.9" rx="2.8" ry="2.1" fill="#6a4c68" opacity="0.78"/><ellipse cx="451.4" cy="455.5" rx="3.1" ry="2.7" fill="#6a4c68" opacity="0.52"/><ellipse cx="458.2" cy="453.3" rx="2.6" ry="2.0" fill="#684a64" opacity="0.51"/><ellipse cx="462.6" cy="452.8" rx="2.6" ry="2.3" fill="#684a64" opacity="0.56"/><ellipse cx="470.7" cy="454.1" rx="2.8" ry="2.3" fill="#684a64" opacity="0.52"/><ellipse cx="476.4" cy="455.4" rx="2.5" ry="2.2" fill="#684a64" opacity="0.76"/><ellipse cx="484.6" cy="454.2" rx="3.1" ry="2.7" fill="#5e4460" opacity="0.48"/><ellipse cx="488.0" cy="454.9" rx="3.2" ry="3.2" fill="#6a4c68" opacity="0.52"/><ellipse cx="495.0" cy="456.6" rx="2.5" ry="2.0" fill="#684a64" opacity="0.74"/><ellipse cx="501.3" cy="453.0" rx="3.3" ry="3.1" fill="#5e4460" opacity="0.53"/><ellipse cx="508.7" cy="456.3" rx="2.9" ry="2.3" fill="#684a64" opacity="0.79"/><ellipse cx="515.1" cy="453.6" rx="3.1" ry="2.6" fill="#6a4c68" opacity="0.77"/><ellipse cx="440.8" cy="461.8" rx="2.4" ry="2.0" fill="#5e4460" opacity="0.58"/><ellipse cx="448.1" cy="463.0" rx="2.5" ry="1.9" fill="#5e4460" opacity="0.49"/><ellipse cx="456.8" cy="462.6" rx="2.8" ry="2.5" fill="#5e4460" opacity="0.74"/><ellipse cx="462.6" cy="462.9" rx="2.9" ry="2.4" fill="#5e4460" opacity="0.60"/><ellipse cx="472.6" cy="460.8" rx="2.6" ry="2.0" fill="#684a64" opacity="0.57"/><ellipse cx="478.2" cy="461.4" rx="3.4" ry="3.3" fill="#7a5a78" opacity="0.67"/><ellipse cx="487.3" cy="462.0" rx="2.4" ry="1.8" fill="#5e4460" opacity="0.80"/><ellipse cx="492.9" cy="459.3" rx="2.5" ry="1.9" fill="#7a5a78" opacity="0.66"/><ellipse cx="500.2" cy="461.7" rx="2.7" ry="2.9" fill="#5e4460" opacity="0.76"/><ellipse cx="505.2" cy="461.4" rx="2.6" ry="2.4" fill="#7a5a78" opacity="0.73"/><ellipse cx="512.1" cy="463.1" rx="3.2" ry="2.4" fill="#6a4c68" opacity="0.76"/><ellipse cx="515.7" cy="460.6" rx="2.8" ry="2.9" fill="#5e4460" opacity="0.76"/><ellipse cx="445.7" cy="465.3" rx="3.0" ry="2.3" fill="#5e4460" opacity="0.57"/><ellipse cx="451.4" cy="469.4" rx="2.9" ry="2.8" fill="#684a64" opacity="0.78"/><ellipse cx="458.8" cy="465.1" rx="2.8" ry="2.4" fill="#684a64" opacity="0.62"/><ellipse cx="461.7" cy="467.4" rx="3.3" ry="3.2" fill="#5e4460" opacity="0.53"/><ellipse cx="469.4" cy="466.0" rx="2.7" ry="2.5" fill="#684a64" opacity="0.53"/><ellipse cx="478.5" cy="466.3" rx="2.9" ry="2.4" fill="#5e4460" opacity="0.51"/><ellipse cx="481.4" cy="465.8" rx="3.2" ry="3.3" fill="#5e4460" opacity="0.65"/><ellipse cx="491.5" cy="465.3" rx="2.7" ry="2.0" fill="#6a4c68" opacity="0.48"/><ellipse cx="496.0" cy="466.0" rx="3.3" ry="2.6" fill="#6a4c68" opacity="0.74"/><ellipse cx="501.5" cy="466.4" rx="2.7" ry="2.6" fill="#6a4c68" opacity="0.77"/><ellipse cx="509.4" cy="465.5" rx="2.8" ry="2.1" fill="#684a64" opacity="0.80"/><ellipse cx="512.8" cy="467.7" rx="2.9" ry="2.4" fill="#684a64" opacity="0.50"/><ellipse cx="439.9" cy="473.7" rx="2.5" ry="2.1" fill="#7a5a78" opacity="0.56"/><ellipse cx="445.3" cy="473.2" rx="3.3" ry="3.1" fill="#6a4c68" opacity="0.49"/><ellipse cx="454.9" cy="471.7" rx="3.4" ry="3.0" fill="#6a4c68" opacity="0.69"/><ellipse cx="459.6" cy="473.9" rx="2.8" ry="2.3" fill="#5e4460" opacity="0.56"/><ellipse cx="464.9" cy="473.3" rx="2.4" ry="1.9" fill="#684a64" opacity="0.77"/><ellipse cx="474.4" cy="471.7" rx="3.2" ry="3.2" fill="#684a64" opacity="0.75"/><ellipse cx="480.8" cy="473.7" rx="3.2" ry="2.8" fill="#684a64" opacity="0.56"/><ellipse cx="487.5" cy="471.4" rx="2.5" ry="2.3" fill="#6a4c68" opacity="0.73"/><ellipse cx="490.7" cy="475.7" rx="2.9" ry="2.6" fill="#7a5a78" opacity="0.55"/><ellipse cx="497.3" cy="474.2" rx="2.8" ry="2.3" fill="#7a5a78" opacity="0.79"/><ellipse cx="509.4" cy="476.0" rx="3.1" ry="2.8" fill="#6a4c68" opacity="0.74"/><ellipse cx="517.1" cy="473.3" rx="3.3" ry="3.4" fill="#684a64" opacity="0.58"/><ellipse cx="446.8" cy="479.6" rx="2.4" ry="2.3" fill="#5e4460" opacity="0.61"/><ellipse cx="450.9" cy="479.7" rx="2.5" ry="1.9" fill="#5e4460" opacity="0.76"/><ellipse cx="457.1" cy="477.8" rx="2.7" ry="2.5" fill="#684a64" opacity="0.50"/><ellipse cx="462.0" cy="480.8" rx="2.5" ry="2.3" fill="#7a5a78" opacity="0.59"/><ellipse cx="470.7" cy="479.2" rx="2.6" ry="2.1" fill="#7a5a78" opacity="0.48"/><ellipse cx="483.5" cy="480.6" rx="2.8" ry="3.0" fill="#684a64" opacity="0.52"/><ellipse cx="487.2" cy="478.9" rx="2.6" ry="2.7" fill="#5e4460" opacity="0.78"/><ellipse cx="493.7" cy="478.5" rx="3.4" ry="2.6" fill="#5e4460" opacity="0.64"/><ellipse cx="504.6" cy="482.3" rx="2.9" ry="2.8" fill="#7a5a78" opacity="0.57"/><ellipse cx="506.3" cy="479.7" rx="2.9" ry="2.5" fill="#7a5a78" opacity="0.78"/><ellipse cx="512.9" cy="482.2" rx="2.5" ry="2.4" fill="#5e4460" opacity="0.79"/><ellipse cx="520.6" cy="481.0" rx="2.5" ry="2.6" fill="#5e4460" opacity="0.77"/><ellipse cx="449.3" cy="484.2" rx="3.2" ry="3.1" fill="#684a64" opacity="0.47"/><ellipse cx="452.4" cy="485.8" rx="2.6" ry="2.5" fill="#7a5a78" opacity="0.49"/><ellipse cx="466.3" cy="484.9" rx="2.9" ry="2.4" fill="#684a64" opacity="0.72"/><ellipse cx="473.8" cy="487.3" rx="2.8" ry="2.1" fill="#7a5a78" opacity="0.77"/><ellipse cx="480.6" cy="488.2" rx="3.0" ry="2.9" fill="#5e4460" opacity="0.70"/><ellipse cx="492.1" cy="485.4" rx="3.0" ry="3.1" fill="#6a4c68" opacity="0.75"/><ellipse cx="501.2" cy="485.3" rx="3.2" ry="3.0" fill="#684a64" opacity="0.66"/><ellipse cx="504.3" cy="487.1" rx="3.2" ry="3.0" fill="#684a64" opacity="0.74"/><ellipse cx="513.9" cy="488.3" rx="2.8" ry="2.6" fill="#684a64" opacity="0.48"/><ellipse cx="516.9" cy="486.5" rx="2.9" ry="2.8" fill="#6a4c68" opacity="0.79"/><ellipse cx="445.2" cy="490.6" rx="3.2" ry="2.9" fill="#5e4460" opacity="0.47"/><ellipse cx="453.4" cy="493.4" rx="2.9" ry="3.0" fill="#684a64" opacity="0.70"/><ellipse cx="466.0" cy="492.0" rx="3.1" ry="2.5" fill="#5e4460" opacity="0.79"/><ellipse cx="471.2" cy="495.2" rx="3.1" ry="2.7" fill="#684a64" opacity="0.51"/><ellipse cx="485.2" cy="495.2" rx="3.3" ry="3.1" fill="#5e4460" opacity="0.70"/><ellipse cx="489.9" cy="494.6" rx="2.8" ry="2.1" fill="#684a64" opacity="0.46"/><ellipse cx="493.9" cy="494.7" rx="2.7" ry="2.3" fill="#684a64" opacity="0.63"/><ellipse cx="499.8" cy="491.0" rx="2.6" ry="2.1" fill="#6a4c68" opacity="0.75"/><ellipse cx="506.3" cy="491.7" rx="2.9" ry="2.8" fill="#7a5a78" opacity="0.61"/><ellipse cx="516.2" cy="492.7" rx="3.1" ry="2.8" fill="#5e4460" opacity="0.45"/><ellipse cx="522.8" cy="493.4" rx="2.9" ry="2.8" fill="#7a5a78" opacity="0.55"/><ellipse cx="442.7" cy="497.8" rx="3.1" ry="2.5" fill="#7a5a78" opacity="0.64"/><ellipse cx="445.7" cy="497.6" rx="2.9" ry="2.2" fill="#5e4460" opacity="0.75"/><ellipse cx="458.9" cy="498.9" rx="3.2" ry="3.3" fill="#6a4c68" opacity="0.55"/><ellipse cx="466.9" cy="499.5" rx="2.7" ry="2.3" fill="#5e4460" opacity="0.65"/><ellipse cx="472.1" cy="498.3" rx="3.4" ry="3.4" fill="#7a5a78" opacity="0.52"/><ellipse cx="478.1" cy="500.8" rx="2.4" ry="2.2" fill="#5e4460" opacity="0.59"/><ellipse cx="484.4" cy="501.0" rx="2.7" ry="2.1" fill="#6a4c68" opacity="0.66"/><ellipse cx="494.4" cy="498.1" rx="2.5" ry="2.2" fill="#684a64" opacity="0.79"/><ellipse cx="501.5" cy="498.2" rx="3.3" ry="3.0" fill="#6a4c68" opacity="0.55"/><ellipse cx="510.9" cy="497.6" rx="2.5" ry="2.0" fill="#684a64" opacity="0.72"/><ellipse cx="516.3" cy="497.9" rx="3.3" ry="3.2" fill="#6a4c68" opacity="0.53"/></g></g><rect x="438.3" y="419.2" width="81.2" height="80.4" filter="url(#mem8)"/><rect x="485.60" y="489.80" width="32.40" height="7.20" fill="#fff"/><line x1="488.10" y1="497.50" x2="515.50" y2="497.50" stroke="#444" stroke-width="0.9"/><text x="501.80" y="495.30" font-size="6" text-anchor="middle" class="n">50 μm</text><rect x="180.0" y="510.2" width="82.0" height="81.0" filter="url(#bg9)"/><g clip-path="url(#cp9)"><g filter="url(#soft)"><ellipse cx="218.0" cy="540.4" rx="2.1" ry="1.8" transform="rotate(1 218.0 540.4)" fill="#ecd8a0" opacity="0.96"/><ellipse cx="186.6" cy="555.1" rx="4.0" ry="0.8" transform="rotate(68 186.6 555.1)" fill="#ecd8a0" opacity="0.98"/><ellipse cx="214.7" cy="523.8" rx="1.7" ry="0.9" transform="rotate(157 214.7 523.8)" fill="#ecd8a0" opacity="0.91"/><ellipse cx="211.5" cy="570.6" rx="1.9" ry="1.1" transform="rotate(121 211.5 570.6)" fill="#ecd8a0" opacity="0.96"/><ellipse cx="243.4" cy="584.0" rx="3.1" ry="1.1" transform="rotate(8 243.4 584.0)" fill="#ecd8a0" opacity="0.95"/><ellipse cx="184.5" cy="540.9" rx="3.5" ry="0.7" transform="rotate(76 184.5 540.9)" fill="#ecd8a0" opacity="0.99"/><ellipse cx="180.3" cy="572.1" rx="2.3" ry="1.8" transform="rotate(59 180.3 572.1)" fill="#ecd8a0" opacity="0.65"/><ellipse cx="255.2" cy="550.8" rx="3.8" ry="1.4" transform="rotate(36 255.2 550.8)" fill="#ecd8a0" opacity="0.76"/><ellipse cx="232.4" cy="517.8" rx="3.8" ry="0.9" transform="rotate(110 232.4 517.8)" fill="#ecd8a0" opacity="0.62"/><ellipse cx="225.5" cy="559.3" rx="2.1" ry="1.0" transform="rotate(179 225.5 559.3)" fill="#ecd8a0" opacity="0.65"/><ellipse cx="185.3" cy="512.0" rx="3.0" ry="2.3" fill="#8480b0" opacity="0.70"/><ellipse cx="187.4" cy="515.2" rx="2.8" ry="2.2" fill="#8480b0" opacity="0.78"/><ellipse cx="196.0" cy="510.8" rx="2.5" ry="2.1" fill="#8c84b4" opacity="0.74"/><ellipse cx="199.7" cy="514.7" rx="2.4" ry="2.4" fill="#7e78a8" opacity="0.65"/><ellipse cx="205.7" cy="514.0" rx="2.5" ry="2.4" fill="#8c84b4" opacity="0.79"/><ellipse cx="213.1" cy="514.3" rx="3.3" ry="2.5" fill="#8c84b4" opacity="0.74"/><ellipse cx="222.7" cy="513.8" rx="2.4" ry="1.9" fill="#8480b0" opacity="0.62"/><ellipse cx="225.8" cy="511.5" rx="3.0" ry="2.3" fill="#8480b0" opacity="0.67"/><ellipse cx="239.9" cy="514.6" rx="2.8" ry="2.8" fill="#7672a4" opacity="0.71"/><ellipse cx="247.2" cy="512.2" rx="2.5" ry="2.5" fill="#7e78a8" opacity="0.55"/><ellipse cx="249.8" cy="513.2" rx="3.0" ry="2.7" fill="#8c84b4" opacity="0.66"/><ellipse cx="259.7" cy="511.0" rx="3.4" ry="3.4" fill="#8480b0" opacity="0.66"/><ellipse cx="264.1" cy="515.6" rx="2.5" ry="2.0" fill="#7672a4" opacity="0.53"/><ellipse cx="186.2" cy="520.2" rx="2.5" ry="2.3" fill="#7e78a8" opacity="0.76"/><ellipse cx="194.7" cy="519.9" rx="2.9" ry="2.4" fill="#8480b0" opacity="0.53"/><ellipse cx="198.1" cy="517.4" rx="2.6" ry="2.4" fill="#8c84b4" opacity="0.52"/><ellipse cx="205.0" cy="519.4" rx="3.1" ry="2.4" fill="#7672a4" opacity="0.60"/><ellipse cx="211.4" cy="521.9" rx="3.4" ry="3.4" fill="#7e78a8" opacity="0.60"/><ellipse cx="215.4" cy="521.8" rx="2.5" ry="1.9" fill="#8480b0" opacity="0.69"/><ellipse cx="224.6" cy="519.3" rx="2.9" ry="2.5" fill="#8c84b4" opacity="0.57"/><ellipse cx="230.5" cy="517.1" rx="2.7" ry="2.5" fill="#7672a4" opacity="0.66"/><ellipse cx="243.7" cy="520.0" rx="2.6" ry="2.0" fill="#7e78a8" opacity="0.59"/><ellipse cx="249.6" cy="521.5" rx="3.3" ry="3.4" fill="#8480b0" opacity="0.79"/><ellipse cx="260.2" cy="518.6" rx="3.0" ry="3.0" fill="#8480b0" opacity="0.63"/><ellipse cx="266.6" cy="520.0" rx="3.0" ry="2.6" fill="#8c84b4" opacity="0.62"/><ellipse cx="187.0" cy="524.3" rx="2.8" ry="2.8" fill="#7672a4" opacity="0.53"/><ellipse cx="196.0" cy="527.9" rx="3.1" ry="2.7" fill="#8480b0" opacity="0.73"/><ellipse cx="207.8" cy="527.5" rx="2.7" ry="2.7" fill="#8480b0" opacity="0.53"/><ellipse cx="214.3" cy="523.6" rx="2.4" ry="2.5" fill="#7e78a8" opacity="0.54"/><ellipse cx="220.3" cy="527.1" rx="2.8" ry="2.8" fill="#7e78a8" opacity="0.68"/><ellipse cx="225.8" cy="527.9" rx="2.6" ry="2.7" fill="#7e78a8" opacity="0.74"/><ellipse cx="230.3" cy="526.6" rx="2.4" ry="2.2" fill="#8480b0" opacity="0.70"/><ellipse cx="237.1" cy="525.5" rx="3.1" ry="2.5" fill="#8c84b4" opacity="0.72"/><ellipse cx="242.9" cy="524.6" rx="2.7" ry="2.5" fill="#8480b0" opacity="0.79"/><ellipse cx="250.5" cy="526.9" rx="2.5" ry="2.2" fill="#7672a4" opacity="0.75"/><ellipse cx="261.5" cy="527.1" rx="2.8" ry="2.4" fill="#7672a4" opacity="0.74"/><ellipse cx="187.3" cy="530.4" rx="2.5" ry="2.0" fill="#8c84b4" opacity="0.77"/><ellipse cx="193.7" cy="534.2" rx="2.6" ry="2.4" fill="#7e78a8" opacity="0.66"/><ellipse cx="197.0" cy="529.7" rx="3.3" ry="3.0" fill="#8c84b4" opacity="0.75"/><ellipse cx="204.0" cy="531.4" rx="2.5" ry="2.5" fill="#8480b0" opacity="0.64"/><ellipse cx="212.7" cy="533.8" rx="3.1" ry="2.9" fill="#7672a4" opacity="0.78"/><ellipse cx="218.6" cy="534.0" rx="2.6" ry="2.2" fill="#8c84b4" opacity="0.62"/><ellipse cx="224.6" cy="533.6" rx="3.1" ry="2.9" fill="#8c84b4" opacity="0.65"/><ellipse cx="230.2" cy="534.1" rx="2.7" ry="2.1" fill="#7672a4" opacity="0.52"/><ellipse cx="237.5" cy="530.4" rx="2.4" ry="2.1" fill="#7e78a8" opacity="0.59"/><ellipse cx="247.8" cy="530.8" rx="3.3" ry="2.9" fill="#8480b0" opacity="0.55"/><ellipse cx="256.7" cy="529.9" rx="2.6" ry="2.2" fill="#8c84b4" opacity="0.63"/><ellipse cx="261.6" cy="529.8" rx="3.1" ry="3.0" fill="#7e78a8" opacity="0.52"/><ellipse cx="268.5" cy="531.2" rx="3.1" ry="3.1" fill="#7672a4" opacity="0.65"/><ellipse cx="188.4" cy="537.9" rx="2.7" ry="2.7" fill="#8480b0" opacity="0.72"/><ellipse cx="202.8" cy="538.9" rx="2.8" ry="2.4" fill="#7672a4" opacity="0.80"/><ellipse cx="209.0" cy="535.9" rx="2.5" ry="2.4" fill="#8c84b4" opacity="0.65"/><ellipse cx="213.6" cy="540.3" rx="3.4" ry="3.5" fill="#8480b0" opacity="0.55"/><ellipse cx="221.3" cy="538.2" rx="3.0" ry="2.2" fill="#8c84b4" opacity="0.53"/><ellipse cx="228.4" cy="540.4" rx="2.5" ry="2.2" fill="#7672a4" opacity="0.76"/><ellipse cx="231.2" cy="538.0" rx="3.1" ry="2.7" fill="#8c84b4" opacity="0.69"/><ellipse cx="238.9" cy="539.9" rx="2.5" ry="2.2" fill="#8480b0" opacity="0.75"/><ellipse cx="246.5" cy="539.2" rx="2.5" ry="2.2" fill="#7e78a8" opacity="0.66"/><ellipse cx="251.2" cy="537.7" rx="2.9" ry="2.3" fill="#7672a4" opacity="0.71"/><ellipse cx="255.4" cy="540.4" rx="3.1" ry="3.0" fill="#8c84b4" opacity="0.50"/><ellipse cx="263.4" cy="538.2" rx="3.2" ry="2.7" fill="#8c84b4" opacity="0.55"/><ellipse cx="185.3" cy="544.2" rx="3.3" ry="2.8" fill="#8c84b4" opacity="0.77"/><ellipse cx="190.2" cy="543.8" rx="2.9" ry="2.4" fill="#7672a4" opacity="0.59"/><ellipse cx="196.3" cy="542.9" rx="3.2" ry="3.3" fill="#8c84b4" opacity="0.52"/><ellipse cx="212.4" cy="544.0" rx="2.6" ry="2.6" fill="#8480b0" opacity="0.80"/><ellipse cx="218.8" cy="543.1" rx="2.8" ry="2.3" fill="#7e78a8" opacity="0.79"/><ellipse cx="223.6" cy="543.8" rx="3.1" ry="2.6" fill="#8c84b4" opacity="0.71"/><ellipse cx="227.9" cy="545.5" rx="3.2" ry="2.9" fill="#8480b0" opacity="0.64"/><ellipse cx="237.3" cy="543.7" rx="2.9" ry="2.9" fill="#7e78a8" opacity="0.60"/><ellipse cx="244.1" cy="542.2" rx="2.5" ry="2.1" fill="#7e78a8" opacity="0.61"/><ellipse cx="248.4" cy="545.1" rx="2.4" ry="2.1" fill="#8c84b4" opacity="0.60"/><ellipse cx="259.4" cy="542.6" rx="3.2" ry="2.5" fill="#8480b0" opacity="0.55"/><ellipse cx="265.2" cy="542.2" rx="3.3" ry="2.6" fill="#7672a4" opacity="0.71"/><ellipse cx="187.4" cy="550.5" rx="2.5" ry="2.3" fill="#8480b0" opacity="0.78"/><ellipse cx="196.2" cy="551.2" rx="2.4" ry="2.4" fill="#8c84b4" opacity="0.72"/><ellipse cx="200.6" cy="548.8" rx="2.7" ry="2.1" fill="#8480b0" opacity="0.52"/><ellipse cx="208.9" cy="551.6" rx="2.4" ry="2.4" fill="#7e78a8" opacity="0.72"/><ellipse cx="215.9" cy="549.5" rx="2.5" ry="2.3" fill="#7e78a8" opacity="0.70"/><ellipse cx="232.5" cy="551.3" rx="3.1" ry="3.0" fill="#8c84b4" opacity="0.53"/><ellipse cx="237.7" cy="548.3" rx="2.8" ry="2.1" fill="#8480b0" opacity="0.60"/><ellipse cx="247.2" cy="550.8" rx="2.6" ry="2.4" fill="#8c84b4" opacity="0.71"/><ellipse cx="249.5" cy="552.9" rx="3.1" ry="2.8" fill="#7672a4" opacity="0.64"/><ellipse cx="256.1" cy="550.4" rx="2.7" ry="2.1" fill="#7e78a8" opacity="0.54"/><ellipse cx="263.3" cy="551.7" rx="2.7" ry="2.6" fill="#8c84b4" opacity="0.54"/><ellipse cx="194.0" cy="554.8" rx="2.7" ry="2.3" fill="#7e78a8" opacity="0.79"/><ellipse cx="198.1" cy="559.2" rx="3.3" ry="2.8" fill="#8480b0" opacity="0.76"/><ellipse cx="206.7" cy="558.8" rx="3.2" ry="2.8" fill="#8480b0" opacity="0.69"/><ellipse cx="209.4" cy="557.8" rx="2.8" ry="2.2" fill="#7e78a8" opacity="0.58"/><ellipse cx="225.5" cy="554.5" rx="2.8" ry="2.4" fill="#8480b0" opacity="0.53"/><ellipse cx="228.6" cy="555.4" rx="3.1" ry="3.1" fill="#8c84b4" opacity="0.51"/><ellipse cx="235.1" cy="557.0" rx="3.1" ry="2.9" fill="#8c84b4" opacity="0.71"/><ellipse cx="241.9" cy="555.8" rx="2.6" ry="2.7" fill="#8480b0" opacity="0.72"/><ellipse cx="248.1" cy="557.6" rx="3.3" ry="3.4" fill="#8c84b4" opacity="0.62"/><ellipse cx="252.5" cy="555.7" rx="2.8" ry="2.4" fill="#7672a4" opacity="0.78"/><ellipse cx="261.5" cy="556.4" rx="2.8" ry="2.4" fill="#8480b0" opacity="0.52"/><ellipse cx="266.0" cy="555.2" rx="2.5" ry="2.3" fill="#7e78a8" opacity="0.78"/><ellipse cx="183.6" cy="564.9" rx="3.3" ry="2.7" fill="#8480b0" opacity="0.54"/><ellipse cx="194.1" cy="561.6" rx="3.0" ry="3.1" fill="#8480b0" opacity="0.57"/><ellipse cx="199.7" cy="560.7" rx="3.2" ry="3.1" fill="#7e78a8" opacity="0.74"/><ellipse cx="207.3" cy="564.2" rx="2.4" ry="2.1" fill="#8480b0" opacity="0.76"/><ellipse cx="212.1" cy="562.0" rx="3.1" ry="3.0" fill="#8c84b4" opacity="0.80"/><ellipse cx="222.7" cy="564.6" rx="2.8" ry="2.2" fill="#8480b0" opacity="0.59"/><ellipse cx="227.6" cy="560.7" rx="2.9" ry="2.6" fill="#8c84b4" opacity="0.53"/><ellipse cx="249.6" cy="563.8" rx="2.5" ry="2.3" fill="#8480b0" opacity="0.68"/><ellipse cx="255.9" cy="561.4" rx="2.5" ry="2.3" fill="#7672a4" opacity="0.77"/><ellipse cx="261.6" cy="561.8" rx="2.4" ry="1.8" fill="#7672a4" opacity="0.59"/><ellipse cx="187.4" cy="571.0" rx="2.4" ry="2.3" fill="#8480b0" opacity="0.73"/><ellipse cx="199.1" cy="566.9" rx="2.6" ry="2.6" fill="#8c84b4" opacity="0.51"/><ellipse cx="211.4" cy="566.7" rx="2.9" ry="3.0" fill="#8c84b4" opacity="0.65"/><ellipse cx="215.2" cy="571.6" rx="2.7" ry="2.3" fill="#7e78a8" opacity="0.74"/><ellipse cx="223.4" cy="569.2" rx="3.0" ry="2.4" fill="#8480b0" opacity="0.58"/><ellipse cx="229.8" cy="570.8" rx="2.8" ry="2.1" fill="#7e78a8" opacity="0.73"/><ellipse cx="233.8" cy="567.1" rx="2.6" ry="2.3" fill="#8c84b4" opacity="0.67"/><ellipse cx="242.6" cy="567.4" rx="3.4" ry="3.2" fill="#7672a4" opacity="0.71"/><ellipse cx="248.6" cy="571.2" rx="3.1" ry="2.7" fill="#7e78a8" opacity="0.69"/><ellipse cx="254.4" cy="568.9" rx="2.6" ry="2.5" fill="#8480b0" opacity="0.62"/><ellipse cx="262.6" cy="567.4" rx="3.2" ry="2.4" fill="#7e78a8" opacity="0.64"/><ellipse cx="265.7" cy="569.3" rx="2.4" ry="2.5" fill="#7672a4" opacity="0.55"/><ellipse cx="183.5" cy="576.1" rx="2.6" ry="2.0" fill="#8480b0" opacity="0.76"/><ellipse cx="189.6" cy="573.0" rx="3.1" ry="2.9" fill="#8480b0" opacity="0.55"/><ellipse cx="196.3" cy="577.2" rx="2.4" ry="1.9" fill="#7672a4" opacity="0.53"/><ellipse cx="203.7" cy="573.8" rx="2.7" ry="2.7" fill="#7672a4" opacity="0.63"/><ellipse cx="207.9" cy="577.1" rx="2.9" ry="2.5" fill="#7e78a8" opacity="0.79"/><ellipse cx="215.0" cy="574.2" rx="3.3" ry="2.9" fill="#7e78a8" opacity="0.67"/><ellipse cx="219.2" cy="573.0" rx="3.0" ry="2.7" fill="#8c84b4" opacity="0.61"/><ellipse cx="224.8" cy="576.1" rx="2.4" ry="2.0" fill="#7672a4" opacity="0.57"/><ellipse cx="231.4" cy="576.2" rx="3.3" ry="3.4" fill="#7672a4" opacity="0.79"/><ellipse cx="238.7" cy="573.9" rx="2.6" ry="2.5" fill="#7672a4" opacity="0.63"/><ellipse cx="245.7" cy="577.2" rx="2.8" ry="2.7" fill="#8c84b4" opacity="0.53"/><ellipse cx="251.0" cy="573.0" rx="2.9" ry="2.3" fill="#8c84b4" opacity="0.65"/><ellipse cx="261.8" cy="575.8" rx="2.7" ry="2.5" fill="#7e78a8" opacity="0.51"/><ellipse cx="184.2" cy="583.6" rx="3.1" ry="3.1" fill="#7e78a8" opacity="0.63"/><ellipse cx="191.3" cy="579.1" rx="2.9" ry="2.3" fill="#8c84b4" opacity="0.64"/><ellipse cx="197.2" cy="579.5" rx="3.4" ry="3.1" fill="#8c84b4" opacity="0.56"/><ellipse cx="205.8" cy="583.0" rx="3.0" ry="3.2" fill="#8480b0" opacity="0.60"/><ellipse cx="219.4" cy="579.7" rx="2.8" ry="2.4" fill="#8c84b4" opacity="0.76"/><ellipse cx="223.0" cy="580.0" rx="2.8" ry="2.7" fill="#7672a4" opacity="0.62"/><ellipse cx="231.2" cy="583.2" rx="3.2" ry="3.0" fill="#7e78a8" opacity="0.62"/><ellipse cx="236.8" cy="583.4" rx="2.7" ry="2.6" fill="#7e78a8" opacity="0.53"/><ellipse cx="243.8" cy="581.5" rx="2.8" ry="2.6" fill="#8480b0" opacity="0.72"/><ellipse cx="248.0" cy="581.2" rx="3.0" ry="2.3" fill="#7e78a8" opacity="0.51"/><ellipse cx="254.8" cy="581.6" rx="2.5" ry="2.2" fill="#8480b0" opacity="0.64"/><ellipse cx="262.6" cy="583.9" rx="3.4" ry="2.8" fill="#8480b0" opacity="0.54"/><ellipse cx="269.2" cy="580.9" rx="2.8" ry="2.9" fill="#7672a4" opacity="0.56"/><ellipse cx="181.9" cy="586.6" rx="3.2" ry="2.5" fill="#7e78a8" opacity="0.78"/><ellipse cx="188.3" cy="589.4" rx="3.0" ry="2.5" fill="#8480b0" opacity="0.79"/><ellipse cx="196.1" cy="587.7" rx="3.1" ry="2.8" fill="#7672a4" opacity="0.54"/><ellipse cx="202.8" cy="586.8" rx="2.6" ry="2.5" fill="#7672a4" opacity="0.64"/><ellipse cx="221.7" cy="589.0" rx="2.8" ry="2.3" fill="#7e78a8" opacity="0.63"/><ellipse cx="226.4" cy="588.0" rx="3.0" ry="2.6" fill="#7672a4" opacity="0.72"/><ellipse cx="234.1" cy="587.9" rx="2.9" ry="2.3" fill="#7e78a8" opacity="0.57"/><ellipse cx="241.3" cy="589.2" rx="3.2" ry="2.9" fill="#8c84b4" opacity="0.56"/><ellipse cx="246.4" cy="589.1" rx="3.3" ry="2.8" fill="#7e78a8" opacity="0.50"/><ellipse cx="249.5" cy="586.9" rx="2.8" ry="2.5" fill="#8480b0" opacity="0.58"/><ellipse cx="257.4" cy="587.4" rx="2.8" ry="2.9" fill="#8480b0" opacity="0.71"/><ellipse cx="263.2" cy="589.0" rx="2.8" ry="2.6" fill="#8c84b4" opacity="0.64"/><ellipse cx="186.8" cy="592.8" rx="2.4" ry="1.8" fill="#7e78a8" opacity="0.57"/><ellipse cx="191.6" cy="592.4" rx="3.2" ry="2.5" fill="#7672a4" opacity="0.54"/><ellipse cx="199.7" cy="596.0" rx="2.6" ry="2.2" fill="#7e78a8" opacity="0.66"/><ellipse cx="203.7" cy="595.3" rx="3.2" ry="2.7" fill="#8c84b4" opacity="0.65"/><ellipse cx="211.4" cy="594.1" rx="3.2" ry="3.0" fill="#7672a4" opacity="0.51"/><ellipse cx="217.8" cy="594.2" rx="3.0" ry="3.1" fill="#8c84b4" opacity="0.76"/><ellipse cx="221.1" cy="594.2" rx="3.2" ry="2.7" fill="#7e78a8" opacity="0.78"/><ellipse cx="227.3" cy="595.3" rx="2.5" ry="1.9" fill="#8480b0" opacity="0.56"/><ellipse cx="241.3" cy="591.9" rx="3.3" ry="3.0" fill="#8480b0" opacity="0.61"/><ellipse cx="253.5" cy="595.2" rx="2.7" ry="2.5" fill="#7672a4" opacity="0.69"/><ellipse cx="268.7" cy="591.6" rx="3.0" ry="3.0" fill="#7672a4" opacity="0.58"/><ellipse cx="186" cy="582" rx="10" ry="9" fill="#8a88b8" opacity="0.7"/></g></g><rect x="180.0" y="510.2" width="82.0" height="81.0" filter="url(#mem9)"/><rect x="228.10" y="581.40" width="32.40" height="7.20" fill="#fff"/><line x1="230.60" y1="589.10" x2="258.00" y2="589.10" stroke="#444" stroke-width="0.9"/><text x="244.30" y="586.90" font-size="6" text-anchor="middle" class="n">50 μm</text><rect x="265.8" y="510.2" width="80.4" height="81.0" filter="url(#bg10)"/><g clip-path="url(#cp10)"><g filter="url(#soft)"><ellipse cx="311.7" cy="544.9" rx="3.8" ry="1.0" transform="rotate(146 311.7 544.9)" fill="#ecd8a0" opacity="0.86"/><ellipse cx="278.7" cy="552.4" rx="2.8" ry="1.0" transform="rotate(172 278.7 552.4)" fill="#ecd8a0" opacity="0.62"/><ellipse cx="335.0" cy="559.1" rx="3.0" ry="1.1" transform="rotate(121 335.0 559.1)" fill="#ecd8a0" opacity="0.67"/><ellipse cx="290.2" cy="539.6" rx="3.3" ry="1.8" transform="rotate(43 290.2 539.6)" fill="#ecd8a0" opacity="0.85"/><ellipse cx="269.4" cy="510.5" rx="2.0" ry="1.9" transform="rotate(55 269.4 510.5)" fill="#ecd8a0" opacity="0.91"/><ellipse cx="285.1" cy="564.2" rx="3.3" ry="1.3" transform="rotate(118 285.1 564.2)" fill="#ecd8a0" opacity="0.94"/><ellipse cx="278.4" cy="528.4" rx="3.2" ry="0.7" transform="rotate(89 278.4 528.4)" fill="#d8b878" opacity="0.81"/><ellipse cx="334.6" cy="522.3" rx="3.8" ry="1.2" transform="rotate(108 334.6 522.3)" fill="#d8b878" opacity="0.99"/><ellipse cx="328.0" cy="546.0" rx="5.4" ry="0.9" transform="rotate(63 328.0 546.0)" fill="#ecd8a0" opacity="0.78"/><ellipse cx="320.5" cy="521.8" rx="3.6" ry="1.8" transform="rotate(48 320.5 521.8)" fill="#ecd8a0" opacity="0.67"/><ellipse cx="318.0" cy="576.7" rx="4.6" ry="1.3" transform="rotate(63 318.0 576.7)" fill="#ecd8a0" opacity="0.69"/><ellipse cx="309.6" cy="513.7" rx="5.1" ry="1.0" transform="rotate(47 309.6 513.7)" fill="#ecd8a0" opacity="0.83"/><ellipse cx="297.2" cy="580.6" rx="4.2" ry="1.0" transform="rotate(95 297.2 580.6)" fill="#ecd8a0" opacity="0.81"/><ellipse cx="314.2" cy="515.3" rx="3.5" ry="1.3" transform="rotate(72 314.2 515.3)" fill="#ecd8a0" opacity="0.82"/><ellipse cx="268.4" cy="514.4" rx="3.0" ry="2.3" fill="#6a4c68" opacity="0.74"/><ellipse cx="273.2" cy="512.6" rx="2.6" ry="2.4" fill="#5e4460" opacity="0.73"/><ellipse cx="281.5" cy="513.4" rx="2.8" ry="2.8" fill="#684a64" opacity="0.69"/><ellipse cx="288.3" cy="513.5" rx="3.1" ry="2.7" fill="#684a64" opacity="0.52"/><ellipse cx="309.2" cy="512.1" rx="2.7" ry="2.1" fill="#6a4c68" opacity="0.64"/><ellipse cx="312.7" cy="514.3" rx="2.5" ry="2.4" fill="#7a5a78" opacity="0.52"/><ellipse cx="320.7" cy="513.0" rx="3.4" ry="3.2" fill="#684a64" opacity="0.79"/><ellipse cx="327.8" cy="511.9" rx="3.0" ry="2.4" fill="#684a64" opacity="0.45"/><ellipse cx="334.9" cy="515.3" rx="3.1" ry="2.4" fill="#6a4c68" opacity="0.48"/><ellipse cx="338.7" cy="513.0" rx="2.6" ry="2.5" fill="#684a64" opacity="0.55"/><ellipse cx="344.6" cy="513.1" rx="2.7" ry="2.7" fill="#684a64" opacity="0.61"/><ellipse cx="270.1" cy="520.0" rx="2.8" ry="2.7" fill="#684a64" opacity="0.51"/><ellipse cx="276.4" cy="521.6" rx="3.2" ry="2.4" fill="#684a64" opacity="0.56"/><ellipse cx="283.9" cy="518.2" rx="2.6" ry="2.0" fill="#5e4460" opacity="0.78"/><ellipse cx="289.2" cy="519.4" rx="3.0" ry="3.1" fill="#6a4c68" opacity="0.73"/><ellipse cx="297.0" cy="521.8" rx="2.6" ry="2.7" fill="#7a5a78" opacity="0.72"/><ellipse cx="305.0" cy="520.2" rx="2.4" ry="2.1" fill="#5e4460" opacity="0.56"/><ellipse cx="308.6" cy="521.3" rx="2.7" ry="2.2" fill="#7a5a78" opacity="0.64"/><ellipse cx="325.4" cy="517.5" rx="3.3" ry="2.9" fill="#684a64" opacity="0.61"/><ellipse cx="328.1" cy="521.5" rx="3.2" ry="2.7" fill="#5e4460" opacity="0.61"/><ellipse cx="340.3" cy="521.6" rx="3.0" ry="2.5" fill="#7a5a78" opacity="0.77"/><ellipse cx="351.4" cy="520.3" rx="2.6" ry="2.7" fill="#6a4c68" opacity="0.65"/><ellipse cx="268.3" cy="524.6" rx="3.3" ry="2.6" fill="#7a5a78" opacity="0.60"/><ellipse cx="275.4" cy="524.5" rx="3.2" ry="3.3" fill="#6a4c68" opacity="0.56"/><ellipse cx="283.7" cy="526.6" rx="2.8" ry="2.5" fill="#6a4c68" opacity="0.59"/><ellipse cx="289.8" cy="524.8" rx="2.8" ry="2.7" fill="#6a4c68" opacity="0.64"/><ellipse cx="296.7" cy="526.8" rx="3.0" ry="2.7" fill="#684a64" opacity="0.51"/><ellipse cx="298.9" cy="526.9" rx="2.9" ry="2.7" fill="#7a5a78" opacity="0.53"/><ellipse cx="314.4" cy="526.5" rx="2.4" ry="2.1" fill="#684a64" opacity="0.68"/><ellipse cx="322.3" cy="527.4" rx="2.8" ry="2.6" fill="#5e4460" opacity="0.51"/><ellipse cx="329.0" cy="524.7" rx="3.3" ry="2.9" fill="#6a4c68" opacity="0.66"/><ellipse cx="331.1" cy="527.9" rx="3.1" ry="3.0" fill="#6a4c68" opacity="0.69"/><ellipse cx="346.6" cy="526.8" rx="3.3" ry="3.0" fill="#684a64" opacity="0.58"/><ellipse cx="270.6" cy="532.1" rx="2.9" ry="3.0" fill="#5e4460" opacity="0.68"/><ellipse cx="276.9" cy="532.4" rx="2.6" ry="2.0" fill="#6a4c68" opacity="0.50"/><ellipse cx="283.9" cy="533.2" rx="2.7" ry="2.1" fill="#684a64" opacity="0.78"/><ellipse cx="289.6" cy="530.3" rx="2.5" ry="1.9" fill="#5e4460" opacity="0.46"/><ellipse cx="298.8" cy="532.2" rx="3.3" ry="2.8" fill="#7a5a78" opacity="0.49"/><ellipse cx="304.0" cy="534.7" rx="2.5" ry="2.2" fill="#5e4460" opacity="0.68"/><ellipse cx="311.5" cy="530.8" rx="2.9" ry="2.5" fill="#5e4460" opacity="0.55"/><ellipse cx="316.2" cy="535.0" rx="3.2" ry="3.2" fill="#7a5a78" opacity="0.76"/><ellipse cx="322.5" cy="530.3" rx="2.5" ry="2.1" fill="#6a4c68" opacity="0.47"/><ellipse cx="330.9" cy="530.7" rx="3.4" ry="3.5" fill="#6a4c68" opacity="0.68"/><ellipse cx="344.2" cy="532.2" rx="2.6" ry="2.0" fill="#5e4460" opacity="0.64"/><ellipse cx="350.3" cy="533.7" rx="3.2" ry="2.6" fill="#684a64" opacity="0.62"/><ellipse cx="267.4" cy="536.8" rx="3.1" ry="2.5" fill="#6a4c68" opacity="0.64"/><ellipse cx="275.2" cy="540.8" rx="2.6" ry="2.0" fill="#684a64" opacity="0.51"/><ellipse cx="280.5" cy="538.0" rx="2.7" ry="2.0" fill="#7a5a78" opacity="0.57"/><ellipse cx="288.2" cy="540.4" rx="3.3" ry="2.5" fill="#6a4c68" opacity="0.61"/><ellipse cx="294.2" cy="541.5" rx="2.5" ry="2.0" fill="#6a4c68" opacity="0.74"/><ellipse cx="301.1" cy="540.1" rx="2.7" ry="2.4" fill="#6a4c68" opacity="0.60"/><ellipse cx="309.2" cy="540.6" rx="2.8" ry="2.1" fill="#684a64" opacity="0.67"/><ellipse cx="312.8" cy="539.8" rx="2.9" ry="2.3" fill="#7a5a78" opacity="0.61"/><ellipse cx="320.5" cy="538.7" rx="3.2" ry="2.8" fill="#684a64" opacity="0.70"/><ellipse cx="325.2" cy="538.4" rx="2.6" ry="2.5" fill="#6a4c68" opacity="0.65"/><ellipse cx="340.7" cy="537.3" rx="2.6" ry="2.1" fill="#6a4c68" opacity="0.63"/><ellipse cx="272.0" cy="544.6" rx="2.8" ry="2.7" fill="#6a4c68" opacity="0.50"/><ellipse cx="279.6" cy="547.4" rx="2.5" ry="2.4" fill="#7a5a78" opacity="0.72"/><ellipse cx="285.3" cy="546.8" rx="3.1" ry="2.9" fill="#684a64" opacity="0.47"/><ellipse cx="292.5" cy="545.3" rx="2.8" ry="2.4" fill="#7a5a78" opacity="0.52"/><ellipse cx="295.3" cy="546.6" rx="2.8" ry="2.8" fill="#684a64" opacity="0.51"/><ellipse cx="302.3" cy="544.1" rx="3.4" ry="3.4" fill="#6a4c68" opacity="0.48"/><ellipse cx="312.7" cy="545.3" rx="3.4" ry="3.3" fill="#6a4c68" opacity="0.80"/><ellipse cx="317.8" cy="543.7" rx="2.8" ry="2.7" fill="#5e4460" opacity="0.60"/><ellipse cx="321.8" cy="546.5" rx="3.3" ry="2.8" fill="#5e4460" opacity="0.50"/><ellipse cx="330.6" cy="546.6" rx="3.1" ry="2.8" fill="#684a64" opacity="0.52"/><ellipse cx="336.4" cy="545.9" rx="3.3" ry="3.3" fill="#7a5a78" opacity="0.77"/><ellipse cx="342.6" cy="547.5" rx="3.3" ry="3.1" fill="#684a64" opacity="0.61"/><ellipse cx="349.0" cy="545.0" rx="2.9" ry="2.3" fill="#7a5a78" opacity="0.70"/><ellipse cx="270.1" cy="551.0" rx="2.7" ry="2.3" fill="#5e4460" opacity="0.72"/><ellipse cx="277.6" cy="553.1" rx="2.9" ry="2.2" fill="#6a4c68" opacity="0.66"/><ellipse cx="279.9" cy="550.5" rx="2.9" ry="2.3" fill="#5e4460" opacity="0.68"/><ellipse cx="290.2" cy="551.5" rx="3.1" ry="2.8" fill="#6a4c68" opacity="0.79"/><ellipse cx="296.5" cy="551.3" rx="2.9" ry="2.9" fill="#5e4460" opacity="0.58"/><ellipse cx="300.1" cy="549.6" rx="2.7" ry="2.8" fill="#6a4c68" opacity="0.57"/><ellipse cx="308.0" cy="550.8" rx="2.8" ry="2.3" fill="#5e4460" opacity="0.78"/><ellipse cx="313.5" cy="553.4" rx="3.3" ry="2.9" fill="#5e4460" opacity="0.56"/><ellipse cx="321.1" cy="549.5" rx="3.2" ry="2.5" fill="#6a4c68" opacity="0.64"/><ellipse cx="325.8" cy="551.6" rx="2.8" ry="2.8" fill="#7a5a78" opacity="0.52"/><ellipse cx="333.8" cy="553.0" rx="2.6" ry="2.6" fill="#7a5a78" opacity="0.65"/><ellipse cx="338.3" cy="553.6" rx="2.8" ry="2.7" fill="#7a5a78" opacity="0.69"/><ellipse cx="345.8" cy="553.5" rx="2.9" ry="3.0" fill="#684a64" opacity="0.76"/><ellipse cx="273.8" cy="559.8" rx="2.6" ry="2.3" fill="#6a4c68" opacity="0.49"/><ellipse cx="284.7" cy="556.5" rx="3.1" ry="2.5" fill="#7a5a78" opacity="0.45"/><ellipse cx="290.6" cy="556.6" rx="3.3" ry="3.1" fill="#6a4c68" opacity="0.51"/><ellipse cx="297.7" cy="557.9" rx="3.0" ry="2.7" fill="#7a5a78" opacity="0.75"/><ellipse cx="306.4" cy="558.7" rx="2.6" ry="2.4" fill="#7a5a78" opacity="0.79"/><ellipse cx="309.6" cy="557.6" rx="2.6" ry="2.2" fill="#684a64" opacity="0.45"/><ellipse cx="316.5" cy="558.6" rx="3.3" ry="2.5" fill="#5e4460" opacity="0.75"/><ellipse cx="324.8" cy="557.7" rx="3.0" ry="2.8" fill="#5e4460" opacity="0.53"/><ellipse cx="331.6" cy="555.8" rx="3.0" ry="3.1" fill="#5e4460" opacity="0.45"/><ellipse cx="337.4" cy="558.1" rx="3.1" ry="3.1" fill="#5e4460" opacity="0.45"/><ellipse cx="345.0" cy="559.8" rx="3.1" ry="2.6" fill="#684a64" opacity="0.75"/><ellipse cx="350.6" cy="558.1" rx="2.7" ry="2.8" fill="#7a5a78" opacity="0.70"/><ellipse cx="266.7" cy="563.5" rx="2.8" ry="2.1" fill="#5e4460" opacity="0.46"/><ellipse cx="276.9" cy="565.5" rx="3.3" ry="2.5" fill="#6a4c68" opacity="0.75"/><ellipse cx="281.1" cy="566.8" rx="3.0" ry="3.1" fill="#684a64" opacity="0.59"/><ellipse cx="294.4" cy="564.9" rx="2.8" ry="2.5" fill="#6a4c68" opacity="0.54"/><ellipse cx="308.2" cy="563.6" rx="2.6" ry="2.2" fill="#5e4460" opacity="0.71"/><ellipse cx="314.5" cy="566.7" rx="3.1" ry="3.3" fill="#7a5a78" opacity="0.71"/><ellipse cx="328.5" cy="562.2" rx="2.6" ry="2.4" fill="#684a64" opacity="0.64"/><ellipse cx="334.1" cy="565.3" rx="3.3" ry="3.1" fill="#6a4c68" opacity="0.56"/><ellipse cx="340.2" cy="563.5" rx="3.4" ry="2.9" fill="#7a5a78" opacity="0.67"/><ellipse cx="348.0" cy="564.3" rx="2.6" ry="2.4" fill="#684a64" opacity="0.56"/><ellipse cx="273.8" cy="569.6" rx="3.2" ry="2.6" fill="#7a5a78" opacity="0.48"/><ellipse cx="287.2" cy="572.8" rx="3.1" ry="2.4" fill="#5e4460" opacity="0.46"/><ellipse cx="291.7" cy="570.7" rx="2.9" ry="2.3" fill="#5e4460" opacity="0.49"/><ellipse cx="298.4" cy="572.8" rx="3.2" ry="3.3" fill="#6a4c68" opacity="0.68"/><ellipse cx="302.2" cy="572.1" rx="2.6" ry="2.6" fill="#7a5a78" opacity="0.72"/><ellipse cx="308.3" cy="569.1" rx="3.4" ry="2.7" fill="#7a5a78" opacity="0.50"/><ellipse cx="319.4" cy="571.7" rx="2.9" ry="2.5" fill="#6a4c68" opacity="0.59"/><ellipse cx="321.7" cy="571.2" rx="3.2" ry="2.6" fill="#6a4c68" opacity="0.55"/><ellipse cx="337.2" cy="570.5" rx="2.9" ry="2.2" fill="#684a64" opacity="0.77"/><ellipse cx="344.4" cy="573.0" rx="2.8" ry="2.4" fill="#6a4c68" opacity="0.60"/><ellipse cx="347.6" cy="569.3" rx="3.2" ry="2.6" fill="#7a5a78" opacity="0.50"/><ellipse cx="271.2" cy="577.5" rx="3.3" ry="3.2" fill="#5e4460" opacity="0.72"/><ellipse cx="273.9" cy="576.1" rx="2.8" ry="2.5" fill="#7a5a78" opacity="0.80"/><ellipse cx="282.1" cy="576.0" rx="2.9" ry="2.2" fill="#684a64" opacity="0.78"/><ellipse cx="290.3" cy="577.1" rx="2.6" ry="2.4" fill="#6a4c68" opacity="0.53"/><ellipse cx="295.4" cy="575.7" rx="2.6" ry="2.3" fill="#6a4c68" opacity="0.51"/><ellipse cx="300.8" cy="575.6" rx="3.1" ry="2.9" fill="#684a64" opacity="0.68"/><ellipse cx="315.2" cy="575.7" rx="3.0" ry="2.3" fill="#6a4c68" opacity="0.73"/><ellipse cx="328.5" cy="575.2" rx="2.9" ry="2.5" fill="#5e4460" opacity="0.79"/><ellipse cx="334.9" cy="575.4" rx="2.5" ry="2.4" fill="#7a5a78" opacity="0.70"/><ellipse cx="338.2" cy="575.8" rx="2.9" ry="3.0" fill="#684a64" opacity="0.61"/><ellipse cx="347.0" cy="578.2" rx="3.2" ry="2.7" fill="#684a64" opacity="0.54"/><ellipse cx="271.8" cy="582.8" rx="3.3" ry="2.8" fill="#7a5a78" opacity="0.47"/><ellipse cx="280.8" cy="581.5" rx="3.2" ry="3.2" fill="#7a5a78" opacity="0.47"/><ellipse cx="286.5" cy="584.7" rx="3.2" ry="2.8" fill="#7a5a78" opacity="0.77"/><ellipse cx="293.2" cy="582.5" rx="2.6" ry="2.7" fill="#7a5a78" opacity="0.49"/><ellipse cx="299.9" cy="583.0" rx="3.3" ry="3.4" fill="#684a64" opacity="0.66"/><ellipse cx="302.2" cy="583.3" rx="3.3" ry="2.9" fill="#6a4c68" opacity="0.75"/><ellipse cx="309.7" cy="583.8" rx="3.2" ry="2.9" fill="#684a64" opacity="0.47"/><ellipse cx="325.4" cy="585.3" rx="2.7" ry="2.1" fill="#7a5a78" opacity="0.68"/><ellipse cx="331.6" cy="584.0" rx="2.6" ry="2.1" fill="#5e4460" opacity="0.57"/><ellipse cx="334.0" cy="583.5" rx="2.5" ry="2.3" fill="#6a4c68" opacity="0.50"/><ellipse cx="348.9" cy="582.6" rx="2.8" ry="2.3" fill="#6a4c68" opacity="0.55"/><ellipse cx="268.3" cy="591.9" rx="3.0" ry="2.7" fill="#7a5a78" opacity="0.46"/><ellipse cx="277.0" cy="591.7" rx="2.7" ry="2.5" fill="#5e4460" opacity="0.73"/><ellipse cx="295.9" cy="589.4" rx="2.8" ry="2.8" fill="#6a4c68" opacity="0.69"/><ellipse cx="301.8" cy="591.4" rx="2.7" ry="2.3" fill="#7a5a78" opacity="0.56"/><ellipse cx="307.2" cy="592.2" rx="3.2" ry="3.1" fill="#6a4c68" opacity="0.60"/><ellipse cx="313.9" cy="590.1" rx="2.8" ry="2.8" fill="#6a4c68" opacity="0.67"/><ellipse cx="322.0" cy="592.7" rx="3.2" ry="2.9" fill="#7a5a78" opacity="0.52"/><ellipse cx="328.4" cy="587.7" rx="2.8" ry="2.2" fill="#5e4460" opacity="0.58"/><ellipse cx="332.7" cy="590.3" rx="3.1" ry="3.0" fill="#684a64" opacity="0.75"/><ellipse cx="340.2" cy="590.4" rx="2.6" ry="2.0" fill="#5e4460" opacity="0.46"/><ellipse cx="346.9" cy="591.9" rx="3.3" ry="3.2" fill="#7a5a78" opacity="0.56"/></g></g><rect x="265.8" y="510.2" width="80.4" height="81.0" filter="url(#mem10)"/><rect x="312.30" y="581.40" width="32.40" height="7.20" fill="#fff"/><line x1="314.80" y1="589.10" x2="342.20" y2="589.10" stroke="#444" stroke-width="0.9"/><text x="328.50" y="586.90" font-size="6" text-anchor="middle" class="n">50 μm</text><rect x="354.0" y="510.2" width="80.4" height="81.0" filter="url(#bg11)"/><g clip-path="url(#cp11)"><g filter="url(#soft)"><ellipse cx="390.4" cy="555.5" rx="5.2" ry="1.3" transform="rotate(91 390.4 555.5)" fill="#ecd8a0" opacity="0.67"/><ellipse cx="395.2" cy="561.2" rx="4.7" ry="0.8" transform="rotate(55 395.2 561.2)" fill="#ecd8a0" opacity="0.82"/><ellipse cx="425.6" cy="561.6" rx="3.9" ry="1.2" transform="rotate(82 425.6 561.6)" fill="#ecd8a0" opacity="0.85"/><ellipse cx="420.9" cy="515.3" rx="1.6" ry="1.8" transform="rotate(108 420.9 515.3)" fill="#ecd8a0" opacity="0.73"/><ellipse cx="401.5" cy="526.0" rx="2.4" ry="1.1" transform="rotate(1 401.5 526.0)" fill="#ecd8a0" opacity="0.78"/><ellipse cx="376.4" cy="591.0" rx="5.5" ry="1.8" transform="rotate(127 376.4 591.0)" fill="#ecd8a0" opacity="0.90"/><ellipse cx="395.2" cy="512.6" rx="3.8" ry="0.8" transform="rotate(19 395.2 512.6)" fill="#ecd8a0" opacity="0.75"/><ellipse cx="431.0" cy="578.8" rx="1.5" ry="1.0" transform="rotate(164 431.0 578.8)" fill="#ecd8a0" opacity="0.75"/><ellipse cx="411.0" cy="544.2" rx="3.8" ry="1.0" transform="rotate(121 411.0 544.2)" fill="#ecd8a0" opacity="0.63"/><ellipse cx="380.7" cy="588.3" rx="4.5" ry="0.9" transform="rotate(44 380.7 588.3)" fill="#ecd8a0" opacity="0.60"/><ellipse cx="357.0" cy="514.2" rx="2.6" ry="2.3" fill="#7672a4" opacity="0.73"/><ellipse cx="361.4" cy="512.9" rx="2.6" ry="2.2" fill="#8c84b4" opacity="0.74"/><ellipse cx="367.1" cy="511.7" rx="3.4" ry="3.2" fill="#7e78a8" opacity="0.51"/><ellipse cx="374.5" cy="514.7" rx="2.7" ry="2.3" fill="#7e78a8" opacity="0.53"/><ellipse cx="388.7" cy="511.5" rx="3.0" ry="3.0" fill="#7e78a8" opacity="0.62"/><ellipse cx="393.0" cy="513.8" rx="3.1" ry="2.5" fill="#7672a4" opacity="0.67"/><ellipse cx="401.0" cy="512.9" rx="2.5" ry="1.9" fill="#7672a4" opacity="0.57"/><ellipse cx="408.3" cy="513.8" rx="2.7" ry="2.2" fill="#7e78a8" opacity="0.52"/><ellipse cx="413.7" cy="513.9" rx="2.5" ry="2.0" fill="#8480b0" opacity="0.72"/><ellipse cx="418.8" cy="511.1" rx="2.6" ry="2.2" fill="#8c84b4" opacity="0.54"/><ellipse cx="425.1" cy="512.5" rx="3.1" ry="2.8" fill="#8480b0" opacity="0.68"/><ellipse cx="430.8" cy="512.4" rx="2.4" ry="2.3" fill="#8c84b4" opacity="0.52"/><ellipse cx="362.7" cy="517.4" rx="2.9" ry="2.9" fill="#7e78a8" opacity="0.72"/><ellipse cx="368.5" cy="518.8" rx="3.1" ry="3.1" fill="#8480b0" opacity="0.63"/><ellipse cx="373.0" cy="520.1" rx="2.8" ry="2.6" fill="#8480b0" opacity="0.52"/><ellipse cx="380.7" cy="520.6" rx="2.8" ry="2.7" fill="#8480b0" opacity="0.63"/><ellipse cx="385.1" cy="518.6" rx="2.5" ry="1.9" fill="#7672a4" opacity="0.53"/><ellipse cx="388.8" cy="518.5" rx="3.1" ry="2.5" fill="#7672a4" opacity="0.77"/><ellipse cx="396.1" cy="519.0" rx="2.7" ry="2.5" fill="#7e78a8" opacity="0.73"/><ellipse cx="403.0" cy="519.9" rx="2.7" ry="2.1" fill="#8480b0" opacity="0.75"/><ellipse cx="412.0" cy="518.4" rx="2.6" ry="2.3" fill="#7672a4" opacity="0.56"/><ellipse cx="416.1" cy="520.4" rx="3.1" ry="3.1" fill="#8480b0" opacity="0.60"/><ellipse cx="422.7" cy="520.4" rx="2.7" ry="2.3" fill="#7e78a8" opacity="0.67"/><ellipse cx="426.9" cy="520.8" rx="2.7" ry="2.6" fill="#8480b0" opacity="0.80"/><ellipse cx="435.2" cy="520.3" rx="3.2" ry="3.3" fill="#7672a4" opacity="0.56"/><ellipse cx="358.2" cy="527.0" rx="2.9" ry="2.2" fill="#7e78a8" opacity="0.73"/><ellipse cx="364.7" cy="527.7" rx="2.5" ry="2.6" fill="#7672a4" opacity="0.54"/><ellipse cx="371.4" cy="523.3" rx="3.0" ry="2.8" fill="#8c84b4" opacity="0.75"/><ellipse cx="376.5" cy="524.2" rx="3.1" ry="3.1" fill="#7e78a8" opacity="0.72"/><ellipse cx="381.4" cy="523.7" rx="2.7" ry="2.8" fill="#8480b0" opacity="0.58"/><ellipse cx="386.0" cy="525.4" rx="3.0" ry="2.9" fill="#8480b0" opacity="0.51"/><ellipse cx="392.0" cy="525.9" rx="3.1" ry="3.2" fill="#7672a4" opacity="0.80"/><ellipse cx="400.5" cy="527.9" rx="2.5" ry="2.0" fill="#7e78a8" opacity="0.59"/><ellipse cx="408.4" cy="526.0" rx="2.7" ry="2.3" fill="#7e78a8" opacity="0.77"/><ellipse cx="411.1" cy="525.9" rx="2.7" ry="2.4" fill="#8480b0" opacity="0.53"/><ellipse cx="416.8" cy="528.0" rx="2.9" ry="2.5" fill="#7672a4" opacity="0.67"/><ellipse cx="433.6" cy="525.5" rx="3.3" ry="3.3" fill="#7672a4" opacity="0.57"/><ellipse cx="359.9" cy="533.5" rx="3.3" ry="2.9" fill="#8480b0" opacity="0.56"/><ellipse cx="364.6" cy="533.3" rx="2.4" ry="2.0" fill="#8c84b4" opacity="0.71"/><ellipse cx="371.3" cy="531.9" rx="2.9" ry="2.7" fill="#7e78a8" opacity="0.69"/><ellipse cx="380.7" cy="529.5" rx="3.0" ry="3.0" fill="#7e78a8" opacity="0.66"/><ellipse cx="386.7" cy="532.5" rx="3.3" ry="2.7" fill="#7e78a8" opacity="0.74"/><ellipse cx="390.3" cy="534.0" rx="2.6" ry="2.7" fill="#7e78a8" opacity="0.54"/><ellipse cx="395.4" cy="531.3" rx="2.8" ry="2.9" fill="#7e78a8" opacity="0.71"/><ellipse cx="404.5" cy="529.5" rx="2.6" ry="2.5" fill="#8480b0" opacity="0.79"/><ellipse cx="410.5" cy="531.1" rx="3.4" ry="3.4" fill="#8480b0" opacity="0.64"/><ellipse cx="422.3" cy="532.2" rx="2.5" ry="2.1" fill="#8c84b4" opacity="0.75"/><ellipse cx="426.4" cy="529.7" rx="3.4" ry="3.0" fill="#7672a4" opacity="0.60"/><ellipse cx="433.9" cy="530.5" rx="2.8" ry="2.6" fill="#7672a4" opacity="0.56"/><ellipse cx="358.3" cy="537.6" rx="2.6" ry="2.1" fill="#8480b0" opacity="0.50"/><ellipse cx="364.3" cy="539.9" rx="3.0" ry="2.6" fill="#8c84b4" opacity="0.65"/><ellipse cx="368.3" cy="540.1" rx="3.1" ry="3.1" fill="#8c84b4" opacity="0.62"/><ellipse cx="376.7" cy="539.4" rx="3.2" ry="2.8" fill="#8c84b4" opacity="0.52"/><ellipse cx="379.9" cy="540.0" rx="3.4" ry="3.5" fill="#8c84b4" opacity="0.58"/><ellipse cx="388.9" cy="538.4" rx="2.9" ry="2.5" fill="#8480b0" opacity="0.69"/><ellipse cx="396.7" cy="535.7" rx="3.0" ry="2.9" fill="#8480b0" opacity="0.62"/><ellipse cx="401.2" cy="535.7" rx="2.7" ry="2.2" fill="#7672a4" opacity="0.66"/><ellipse cx="407.0" cy="540.6" rx="3.0" ry="3.0" fill="#8480b0" opacity="0.68"/><ellipse cx="415.1" cy="537.5" rx="3.4" ry="3.4" fill="#7672a4" opacity="0.68"/><ellipse cx="418.7" cy="538.2" rx="3.0" ry="2.6" fill="#8c84b4" opacity="0.70"/><ellipse cx="426.5" cy="535.8" rx="3.2" ry="2.9" fill="#7672a4" opacity="0.62"/><ellipse cx="359.7" cy="544.7" rx="3.1" ry="2.6" fill="#7672a4" opacity="0.57"/><ellipse cx="367.7" cy="542.0" rx="2.5" ry="2.5" fill="#7e78a8" opacity="0.54"/><ellipse cx="370.7" cy="544.9" rx="2.9" ry="2.3" fill="#8480b0" opacity="0.66"/><ellipse cx="377.0" cy="543.9" rx="3.0" ry="2.8" fill="#7e78a8" opacity="0.61"/><ellipse cx="386.2" cy="543.0" rx="2.5" ry="2.6" fill="#8c84b4" opacity="0.69"/><ellipse cx="391.7" cy="545.4" rx="3.1" ry="2.5" fill="#7e78a8" opacity="0.57"/><ellipse cx="398.2" cy="542.8" rx="3.1" ry="2.9" fill="#8480b0" opacity="0.58"/><ellipse cx="401.6" cy="544.5" rx="2.5" ry="1.9" fill="#8c84b4" opacity="0.67"/><ellipse cx="409.1" cy="543.5" rx="2.9" ry="2.3" fill="#7672a4" opacity="0.74"/><ellipse cx="416.6" cy="545.6" rx="2.6" ry="2.3" fill="#8c84b4" opacity="0.74"/><ellipse cx="423.9" cy="544.8" rx="2.7" ry="2.6" fill="#8c84b4" opacity="0.56"/><ellipse cx="428.2" cy="543.4" rx="2.9" ry="2.6" fill="#7672a4" opacity="0.74"/><ellipse cx="436.0" cy="542.2" rx="2.6" ry="2.5" fill="#8c84b4" opacity="0.59"/><ellipse cx="355.3" cy="549.8" rx="3.1" ry="2.7" fill="#8c84b4" opacity="0.71"/><ellipse cx="364.8" cy="549.5" rx="2.7" ry="2.4" fill="#7e78a8" opacity="0.77"/><ellipse cx="373.3" cy="551.4" rx="3.0" ry="3.0" fill="#7672a4" opacity="0.61"/><ellipse cx="383.6" cy="550.8" rx="2.6" ry="2.5" fill="#8480b0" opacity="0.58"/><ellipse cx="385.9" cy="548.8" rx="2.7" ry="2.0" fill="#8c84b4" opacity="0.63"/><ellipse cx="392.2" cy="548.4" rx="3.1" ry="3.2" fill="#7e78a8" opacity="0.69"/><ellipse cx="406.3" cy="551.6" rx="2.9" ry="3.0" fill="#8c84b4" opacity="0.64"/><ellipse cx="415.2" cy="551.4" rx="2.9" ry="2.6" fill="#8480b0" opacity="0.71"/><ellipse cx="420.7" cy="551.3" rx="3.3" ry="3.2" fill="#8480b0" opacity="0.77"/><ellipse cx="426.3" cy="552.0" rx="2.8" ry="2.5" fill="#7672a4" opacity="0.72"/><ellipse cx="430.6" cy="550.0" rx="2.9" ry="2.4" fill="#8480b0" opacity="0.64"/><ellipse cx="358.5" cy="558.8" rx="3.3" ry="3.2" fill="#8480b0" opacity="0.64"/><ellipse cx="364.9" cy="556.0" rx="3.0" ry="2.8" fill="#7672a4" opacity="0.65"/><ellipse cx="371.5" cy="555.1" rx="3.2" ry="2.7" fill="#7672a4" opacity="0.75"/><ellipse cx="378.7" cy="556.2" rx="3.4" ry="3.2" fill="#7e78a8" opacity="0.53"/><ellipse cx="383.6" cy="554.9" rx="3.2" ry="3.3" fill="#8480b0" opacity="0.73"/><ellipse cx="389.9" cy="554.3" rx="2.9" ry="2.5" fill="#7e78a8" opacity="0.71"/><ellipse cx="398.7" cy="554.9" rx="3.3" ry="3.3" fill="#8c84b4" opacity="0.72"/><ellipse cx="401.4" cy="557.1" rx="2.6" ry="2.1" fill="#7e78a8" opacity="0.54"/><ellipse cx="417.1" cy="554.7" rx="2.9" ry="2.6" fill="#8c84b4" opacity="0.68"/><ellipse cx="426.9" cy="557.6" rx="3.2" ry="2.8" fill="#7672a4" opacity="0.62"/><ellipse cx="436.2" cy="555.8" rx="2.7" ry="2.1" fill="#8480b0" opacity="0.64"/><ellipse cx="358.0" cy="560.9" rx="2.8" ry="2.5" fill="#7672a4" opacity="0.75"/><ellipse cx="370.5" cy="561.6" rx="3.0" ry="2.6" fill="#7e78a8" opacity="0.80"/><ellipse cx="374.0" cy="563.5" rx="3.3" ry="3.3" fill="#8480b0" opacity="0.73"/><ellipse cx="380.4" cy="564.0" rx="2.7" ry="2.8" fill="#8c84b4" opacity="0.72"/><ellipse cx="387.5" cy="560.9" rx="3.0" ry="2.4" fill="#7e78a8" opacity="0.55"/><ellipse cx="396.0" cy="563.4" rx="2.5" ry="2.0" fill="#7672a4" opacity="0.54"/><ellipse cx="399.7" cy="564.5" rx="3.3" ry="2.6" fill="#7672a4" opacity="0.54"/><ellipse cx="408.8" cy="563.5" rx="3.1" ry="2.9" fill="#7e78a8" opacity="0.74"/><ellipse cx="413.4" cy="560.5" rx="2.7" ry="2.3" fill="#7672a4" opacity="0.53"/><ellipse cx="418.3" cy="561.9" rx="2.5" ry="2.4" fill="#8c84b4" opacity="0.66"/><ellipse cx="424.6" cy="562.9" rx="2.5" ry="2.5" fill="#7e78a8" opacity="0.65"/><ellipse cx="429.2" cy="563.7" rx="3.2" ry="2.5" fill="#8c84b4" opacity="0.63"/><ellipse cx="362.3" cy="568.4" rx="2.9" ry="2.3" fill="#8480b0" opacity="0.54"/><ellipse cx="365.2" cy="571.1" rx="3.4" ry="3.4" fill="#8480b0" opacity="0.54"/><ellipse cx="374.6" cy="567.8" rx="3.0" ry="3.0" fill="#8480b0" opacity="0.66"/><ellipse cx="378.3" cy="570.5" rx="3.3" ry="3.5" fill="#7672a4" opacity="0.73"/><ellipse cx="385.7" cy="570.4" rx="2.6" ry="2.2" fill="#8480b0" opacity="0.66"/><ellipse cx="389.6" cy="569.2" rx="2.7" ry="2.5" fill="#8480b0" opacity="0.69"/><ellipse cx="398.8" cy="568.6" rx="2.9" ry="2.3" fill="#7672a4" opacity="0.77"/><ellipse cx="403.5" cy="571.6" rx="3.2" ry="3.3" fill="#8480b0" opacity="0.63"/><ellipse cx="409.9" cy="569.2" rx="2.8" ry="2.9" fill="#7672a4" opacity="0.52"/><ellipse cx="416.5" cy="570.3" rx="2.7" ry="2.5" fill="#7672a4" opacity="0.54"/><ellipse cx="424.1" cy="571.4" rx="2.9" ry="2.2" fill="#7672a4" opacity="0.66"/><ellipse cx="430.3" cy="571.6" rx="3.1" ry="3.2" fill="#7e78a8" opacity="0.66"/><ellipse cx="435.8" cy="569.4" rx="3.3" ry="2.6" fill="#7672a4" opacity="0.54"/><ellipse cx="362.3" cy="574.4" rx="2.5" ry="2.5" fill="#8c84b4" opacity="0.62"/><ellipse cx="368.2" cy="574.3" rx="2.9" ry="2.4" fill="#7672a4" opacity="0.54"/><ellipse cx="374.2" cy="577.1" rx="3.1" ry="2.4" fill="#7672a4" opacity="0.76"/><ellipse cx="389.1" cy="575.6" rx="2.9" ry="2.4" fill="#8480b0" opacity="0.79"/><ellipse cx="395.9" cy="577.6" rx="2.7" ry="2.3" fill="#7672a4" opacity="0.60"/><ellipse cx="398.9" cy="577.1" rx="2.5" ry="2.4" fill="#8c84b4" opacity="0.72"/><ellipse cx="406.1" cy="576.1" rx="3.3" ry="3.0" fill="#7e78a8" opacity="0.59"/><ellipse cx="411.8" cy="576.0" rx="2.5" ry="2.6" fill="#8480b0" opacity="0.66"/><ellipse cx="425.5" cy="574.9" rx="3.0" ry="2.4" fill="#7e78a8" opacity="0.56"/><ellipse cx="431.7" cy="573.7" rx="3.3" ry="3.4" fill="#7672a4" opacity="0.64"/><ellipse cx="364.2" cy="579.3" rx="3.2" ry="3.2" fill="#8480b0" opacity="0.65"/><ellipse cx="372.6" cy="583.2" rx="3.1" ry="2.8" fill="#7e78a8" opacity="0.55"/><ellipse cx="385.8" cy="581.7" rx="2.7" ry="2.6" fill="#7e78a8" opacity="0.58"/><ellipse cx="391.7" cy="580.3" rx="2.6" ry="2.7" fill="#7e78a8" opacity="0.63"/><ellipse cx="397.9" cy="582.0" rx="3.2" ry="2.9" fill="#8480b0" opacity="0.76"/><ellipse cx="410.1" cy="581.7" rx="3.2" ry="2.6" fill="#8480b0" opacity="0.59"/><ellipse cx="417.6" cy="582.7" rx="3.2" ry="3.1" fill="#7e78a8" opacity="0.70"/><ellipse cx="421.0" cy="581.5" rx="3.1" ry="2.8" fill="#7672a4" opacity="0.59"/><ellipse cx="427.0" cy="583.8" rx="2.4" ry="2.2" fill="#7e78a8" opacity="0.80"/><ellipse cx="434.7" cy="583.9" rx="2.4" ry="2.1" fill="#8c84b4" opacity="0.53"/><ellipse cx="359.3" cy="590.0" rx="3.1" ry="3.0" fill="#8c84b4" opacity="0.68"/><ellipse cx="363.6" cy="586.4" rx="2.9" ry="2.9" fill="#7e78a8" opacity="0.60"/><ellipse cx="376.4" cy="585.5" rx="2.7" ry="2.6" fill="#7e78a8" opacity="0.68"/><ellipse cx="381.4" cy="589.4" rx="2.8" ry="2.7" fill="#7e78a8" opacity="0.60"/><ellipse cx="389.6" cy="587.6" rx="2.8" ry="2.6" fill="#7672a4" opacity="0.64"/><ellipse cx="395.2" cy="589.5" rx="2.6" ry="2.3" fill="#8c84b4" opacity="0.71"/><ellipse cx="401.1" cy="587.8" rx="3.1" ry="2.8" fill="#7e78a8" opacity="0.69"/><ellipse cx="406.0" cy="586.0" rx="3.3" ry="2.9" fill="#8480b0" opacity="0.72"/><ellipse cx="418.5" cy="585.6" rx="3.3" ry="2.8" fill="#8480b0" opacity="0.66"/><ellipse cx="425.8" cy="587.6" rx="2.6" ry="2.3" fill="#7672a4" opacity="0.56"/><ellipse cx="431.7" cy="585.9" rx="3.1" ry="2.6" fill="#7e78a8" opacity="0.70"/><ellipse cx="361.9" cy="594.1" rx="2.8" ry="2.3" fill="#8480b0" opacity="0.61"/><ellipse cx="365.6" cy="592.5" rx="2.4" ry="1.8" fill="#8c84b4" opacity="0.67"/><ellipse cx="370.5" cy="595.7" rx="3.0" ry="2.5" fill="#8c84b4" opacity="0.73"/><ellipse cx="379.5" cy="591.9" rx="2.8" ry="2.5" fill="#8c84b4" opacity="0.62"/><ellipse cx="386.0" cy="592.5" rx="3.3" ry="2.7" fill="#7e78a8" opacity="0.61"/><ellipse cx="392.4" cy="595.9" rx="3.2" ry="2.9" fill="#8c84b4" opacity="0.76"/><ellipse cx="395.0" cy="593.4" rx="2.8" ry="2.1" fill="#7672a4" opacity="0.52"/><ellipse cx="402.6" cy="595.0" rx="3.3" ry="2.5" fill="#8c84b4" opacity="0.60"/><ellipse cx="408.6" cy="594.7" rx="2.6" ry="2.3" fill="#8c84b4" opacity="0.79"/><ellipse cx="420.8" cy="591.8" rx="2.4" ry="2.2" fill="#8480b0" opacity="0.52"/><ellipse cx="430.3" cy="593.3" rx="3.3" ry="2.5" fill="#8c84b4" opacity="0.65"/><ellipse cx="434.5" cy="591.5" rx="3.0" ry="2.5" fill="#8480b0" opacity="0.57"/><g filter="url(#bb2)"><path d="M354 520 Q360 516 364 524 Q368 534 363 546 Q359 554 354 556 Z" fill="#e6e2c4" opacity="0.7"/><path d="M434.4 540 L434.4 549 Q427 557 420 566 Q417 565 420 560 Q427 549 434.4 540 Z" fill="#f0ecd4" opacity="0.7"/></g></g></g><rect x="354.0" y="510.2" width="80.4" height="81.0" filter="url(#mem11)"/><rect x="400.50" y="581.40" width="32.40" height="7.20" fill="#fff"/><line x1="403.00" y1="589.10" x2="430.40" y2="589.10" stroke="#444" stroke-width="0.9"/><text x="416.70" y="586.90" font-size="6" text-anchor="middle" class="n">50 μm</text><rect x="438.3" y="510.2" width="81.2" height="81.0" filter="url(#bg12)"/><g clip-path="url(#cp12)"><g filter="url(#soft)"><ellipse cx="476.8" cy="563.5" rx="4.2" ry="0.9" transform="rotate(2 476.8 563.5)" fill="#ecd8a0" opacity="0.79"/><ellipse cx="490.5" cy="547.5" rx="5.0" ry="1.0" transform="rotate(0 490.5 547.5)" fill="#d8b878" opacity="0.99"/><ellipse cx="468.2" cy="537.7" rx="2.3" ry="1.4" transform="rotate(36 468.2 537.7)" fill="#ecd8a0" opacity="0.87"/><ellipse cx="503.1" cy="517.3" rx="5.2" ry="1.8" transform="rotate(119 503.1 517.3)" fill="#d8b878" opacity="0.64"/><ellipse cx="518.5" cy="586.9" rx="2.0" ry="1.3" transform="rotate(24 518.5 586.9)" fill="#ecd8a0" opacity="0.95"/><ellipse cx="483.6" cy="589.3" rx="5.0" ry="1.4" transform="rotate(91 483.6 589.3)" fill="#d8b878" opacity="0.76"/><ellipse cx="472.3" cy="558.5" rx="3.4" ry="1.2" transform="rotate(5 472.3 558.5)" fill="#d8b878" opacity="0.99"/><ellipse cx="517.6" cy="564.0" rx="2.9" ry="1.2" transform="rotate(124 517.6 564.0)" fill="#ecd8a0" opacity="0.65"/><ellipse cx="457.4" cy="539.6" rx="3.5" ry="1.8" transform="rotate(90 457.4 539.6)" fill="#d8b878" opacity="0.75"/><ellipse cx="508.1" cy="512.8" rx="1.6" ry="1.6" transform="rotate(8 508.1 512.8)" fill="#d8b878" opacity="0.91"/><ellipse cx="446.6" cy="554.7" rx="2.2" ry="1.6" transform="rotate(7 446.6 554.7)" fill="#ecd8a0" opacity="0.80"/><ellipse cx="487.2" cy="569.0" rx="3.6" ry="1.2" transform="rotate(61 487.2 569.0)" fill="#ecd8a0" opacity="0.79"/><ellipse cx="441.4" cy="515.7" rx="2.6" ry="2.6" fill="#5e4460" opacity="0.52"/><ellipse cx="445.4" cy="512.2" rx="3.2" ry="2.7" fill="#6a4c68" opacity="0.45"/><ellipse cx="452.3" cy="512.7" rx="2.9" ry="2.3" fill="#7a5a78" opacity="0.76"/><ellipse cx="459.3" cy="513.5" rx="2.9" ry="2.7" fill="#5e4460" opacity="0.78"/><ellipse cx="467.7" cy="511.1" rx="2.7" ry="2.8" fill="#5e4460" opacity="0.61"/><ellipse cx="473.6" cy="511.0" rx="2.4" ry="1.8" fill="#5e4460" opacity="0.54"/><ellipse cx="479.6" cy="515.9" rx="3.0" ry="2.8" fill="#6a4c68" opacity="0.79"/><ellipse cx="486.8" cy="515.5" rx="3.2" ry="2.9" fill="#684a64" opacity="0.58"/><ellipse cx="490.2" cy="514.5" rx="3.3" ry="3.3" fill="#5e4460" opacity="0.77"/><ellipse cx="498.5" cy="511.3" rx="2.8" ry="2.3" fill="#684a64" opacity="0.69"/><ellipse cx="503.6" cy="513.6" rx="3.1" ry="2.7" fill="#7a5a78" opacity="0.59"/><ellipse cx="519.3" cy="514.5" rx="2.7" ry="2.2" fill="#684a64" opacity="0.67"/><ellipse cx="442.3" cy="519.7" rx="2.8" ry="2.3" fill="#5e4460" opacity="0.57"/><ellipse cx="449.0" cy="518.4" rx="3.4" ry="2.9" fill="#7a5a78" opacity="0.69"/><ellipse cx="459.6" cy="519.8" rx="3.1" ry="2.5" fill="#5e4460" opacity="0.66"/><ellipse cx="465.4" cy="517.5" rx="3.2" ry="2.8" fill="#684a64" opacity="0.73"/><ellipse cx="472.7" cy="520.1" rx="3.1" ry="2.6" fill="#684a64" opacity="0.56"/><ellipse cx="477.4" cy="518.1" rx="2.9" ry="2.8" fill="#684a64" opacity="0.62"/><ellipse cx="482.0" cy="522.0" rx="3.0" ry="2.6" fill="#7a5a78" opacity="0.76"/><ellipse cx="488.3" cy="517.4" rx="3.1" ry="3.0" fill="#7a5a78" opacity="0.60"/><ellipse cx="497.3" cy="519.8" rx="3.3" ry="3.3" fill="#7a5a78" opacity="0.73"/><ellipse cx="510.7" cy="521.7" rx="3.1" ry="3.0" fill="#7a5a78" opacity="0.79"/><ellipse cx="516.9" cy="518.8" rx="3.3" ry="3.2" fill="#6a4c68" opacity="0.64"/><ellipse cx="439.8" cy="527.3" rx="2.7" ry="2.2" fill="#6a4c68" opacity="0.56"/><ellipse cx="445.9" cy="527.1" rx="2.9" ry="2.6" fill="#684a64" opacity="0.68"/><ellipse cx="455.0" cy="526.0" rx="3.0" ry="2.6" fill="#7a5a78" opacity="0.63"/><ellipse cx="468.4" cy="525.5" rx="2.5" ry="2.5" fill="#7a5a78" opacity="0.64"/><ellipse cx="475.2" cy="524.3" rx="2.5" ry="1.9" fill="#6a4c68" opacity="0.47"/><ellipse cx="477.5" cy="527.2" rx="3.0" ry="3.0" fill="#6a4c68" opacity="0.68"/><ellipse cx="486.7" cy="527.8" rx="3.0" ry="2.7" fill="#7a5a78" opacity="0.68"/><ellipse cx="492.1" cy="527.0" rx="2.7" ry="2.1" fill="#7a5a78" opacity="0.69"/><ellipse cx="497.2" cy="526.1" rx="2.5" ry="2.1" fill="#684a64" opacity="0.49"/><ellipse cx="507.2" cy="527.5" rx="2.7" ry="2.4" fill="#684a64" opacity="0.80"/><ellipse cx="513.9" cy="526.9" rx="3.0" ry="2.3" fill="#5e4460" opacity="0.54"/><ellipse cx="519.2" cy="525.9" rx="2.7" ry="2.3" fill="#684a64" opacity="0.49"/><ellipse cx="444.9" cy="533.1" rx="3.0" ry="2.6" fill="#7a5a78" opacity="0.57"/><ellipse cx="451.6" cy="530.4" rx="3.0" ry="3.1" fill="#7a5a78" opacity="0.67"/><ellipse cx="455.7" cy="531.8" rx="3.4" ry="3.2" fill="#6a4c68" opacity="0.57"/><ellipse cx="464.0" cy="534.5" rx="2.6" ry="2.3" fill="#684a64" opacity="0.56"/><ellipse cx="468.1" cy="533.6" rx="2.6" ry="2.2" fill="#5e4460" opacity="0.52"/><ellipse cx="479.1" cy="532.4" rx="3.3" ry="2.9" fill="#5e4460" opacity="0.58"/><ellipse cx="483.2" cy="533.8" rx="2.9" ry="2.8" fill="#7a5a78" opacity="0.70"/><ellipse cx="487.6" cy="530.4" rx="3.1" ry="2.6" fill="#684a64" opacity="0.55"/><ellipse cx="497.6" cy="532.2" rx="2.7" ry="2.2" fill="#6a4c68" opacity="0.47"/><ellipse cx="502.5" cy="531.3" rx="2.6" ry="2.6" fill="#7a5a78" opacity="0.63"/><ellipse cx="510.9" cy="530.8" rx="2.6" ry="2.6" fill="#7a5a78" opacity="0.78"/><ellipse cx="513.2" cy="531.1" rx="3.2" ry="2.5" fill="#684a64" opacity="0.46"/><ellipse cx="439.9" cy="540.7" rx="3.2" ry="3.1" fill="#684a64" opacity="0.46"/><ellipse cx="449.6" cy="536.9" rx="2.9" ry="3.0" fill="#684a64" opacity="0.73"/><ellipse cx="456.1" cy="538.3" rx="3.3" ry="2.5" fill="#7a5a78" opacity="0.63"/><ellipse cx="459.3" cy="538.5" rx="3.2" ry="3.1" fill="#6a4c68" opacity="0.72"/><ellipse cx="467.9" cy="538.3" rx="2.7" ry="2.1" fill="#5e4460" opacity="0.46"/><ellipse cx="481.4" cy="539.0" rx="2.6" ry="2.3" fill="#5e4460" opacity="0.57"/><ellipse cx="483.8" cy="537.2" rx="2.9" ry="2.5" fill="#7a5a78" opacity="0.51"/><ellipse cx="491.6" cy="540.3" rx="2.8" ry="2.3" fill="#7a5a78" opacity="0.67"/><ellipse cx="499.7" cy="538.3" rx="2.8" ry="2.1" fill="#6a4c68" opacity="0.76"/><ellipse cx="507.4" cy="538.1" rx="3.3" ry="2.6" fill="#5e4460" opacity="0.78"/><ellipse cx="509.8" cy="541.3" rx="3.0" ry="2.9" fill="#7a5a78" opacity="0.80"/><ellipse cx="519.7" cy="538.7" rx="3.3" ry="2.8" fill="#7a5a78" opacity="0.79"/><ellipse cx="444.6" cy="543.9" rx="2.6" ry="2.0" fill="#5e4460" opacity="0.62"/><ellipse cx="452.0" cy="545.2" rx="3.2" ry="3.1" fill="#5e4460" opacity="0.75"/><ellipse cx="455.8" cy="545.3" rx="2.8" ry="2.3" fill="#5e4460" opacity="0.59"/><ellipse cx="461.7" cy="545.2" rx="3.3" ry="2.9" fill="#5e4460" opacity="0.68"/><ellipse cx="472.1" cy="545.8" rx="2.6" ry="2.4" fill="#7a5a78" opacity="0.70"/><ellipse cx="477.5" cy="543.1" rx="2.9" ry="2.9" fill="#6a4c68" opacity="0.50"/><ellipse cx="482.9" cy="547.9" rx="3.0" ry="2.4" fill="#5e4460" opacity="0.79"/><ellipse cx="489.6" cy="545.9" rx="2.9" ry="2.7" fill="#7a5a78" opacity="0.59"/><ellipse cx="496.1" cy="545.8" rx="2.4" ry="2.3" fill="#5e4460" opacity="0.63"/><ellipse cx="503.7" cy="545.7" rx="3.1" ry="2.9" fill="#5e4460" opacity="0.49"/><ellipse cx="509.0" cy="543.3" rx="3.1" ry="2.9" fill="#5e4460" opacity="0.74"/><ellipse cx="512.9" cy="543.7" rx="2.8" ry="2.8" fill="#6a4c68" opacity="0.45"/><ellipse cx="443.5" cy="550.6" rx="3.1" ry="2.5" fill="#6a4c68" opacity="0.51"/><ellipse cx="447.6" cy="554.3" rx="2.8" ry="2.9" fill="#6a4c68" opacity="0.80"/><ellipse cx="452.9" cy="550.9" rx="3.3" ry="3.3" fill="#6a4c68" opacity="0.57"/><ellipse cx="475.7" cy="552.7" rx="3.3" ry="3.3" fill="#684a64" opacity="0.69"/><ellipse cx="477.8" cy="553.8" rx="2.6" ry="2.3" fill="#684a64" opacity="0.71"/><ellipse cx="485.3" cy="553.0" rx="2.4" ry="2.5" fill="#7a5a78" opacity="0.59"/><ellipse cx="495.1" cy="554.0" rx="3.2" ry="2.8" fill="#684a64" opacity="0.57"/><ellipse cx="504.8" cy="550.8" rx="2.7" ry="2.1" fill="#6a4c68" opacity="0.54"/><ellipse cx="510.4" cy="553.2" rx="3.4" ry="3.2" fill="#7a5a78" opacity="0.75"/><ellipse cx="445.6" cy="559.3" rx="2.5" ry="2.5" fill="#5e4460" opacity="0.48"/><ellipse cx="450.8" cy="556.2" rx="3.2" ry="3.3" fill="#5e4460" opacity="0.74"/><ellipse cx="455.9" cy="558.2" rx="2.8" ry="2.3" fill="#6a4c68" opacity="0.61"/><ellipse cx="461.5" cy="555.9" rx="2.9" ry="2.4" fill="#7a5a78" opacity="0.45"/><ellipse cx="469.9" cy="557.8" rx="2.5" ry="2.5" fill="#6a4c68" opacity="0.79"/><ellipse cx="474.4" cy="560.2" rx="3.4" ry="3.3" fill="#684a64" opacity="0.68"/><ellipse cx="482.7" cy="556.9" rx="2.9" ry="2.3" fill="#684a64" opacity="0.45"/><ellipse cx="488.6" cy="559.3" rx="2.6" ry="2.4" fill="#6a4c68" opacity="0.70"/><ellipse cx="497.6" cy="559.9" rx="2.4" ry="2.2" fill="#5e4460" opacity="0.68"/><ellipse cx="503.3" cy="559.0" rx="2.6" ry="2.6" fill="#684a64" opacity="0.77"/><ellipse cx="507.0" cy="557.9" rx="2.6" ry="2.7" fill="#5e4460" opacity="0.76"/><ellipse cx="513.9" cy="559.3" rx="3.0" ry="2.6" fill="#6a4c68" opacity="0.61"/><ellipse cx="519.0" cy="558.9" rx="3.1" ry="3.1" fill="#5e4460" opacity="0.64"/><ellipse cx="441.7" cy="566.7" rx="2.4" ry="2.4" fill="#6a4c68" opacity="0.60"/><ellipse cx="449.7" cy="566.8" rx="2.4" ry="2.1" fill="#7a5a78" opacity="0.59"/><ellipse cx="455.0" cy="563.5" rx="3.0" ry="2.8" fill="#5e4460" opacity="0.54"/><ellipse cx="460.6" cy="564.4" rx="3.2" ry="3.2" fill="#6a4c68" opacity="0.67"/><ellipse cx="473.2" cy="565.9" rx="2.8" ry="2.2" fill="#684a64" opacity="0.74"/><ellipse cx="479.6" cy="565.5" rx="2.5" ry="2.5" fill="#7a5a78" opacity="0.69"/><ellipse cx="484.8" cy="565.6" rx="2.8" ry="2.6" fill="#684a64" opacity="0.46"/><ellipse cx="492.8" cy="565.4" rx="2.7" ry="2.2" fill="#684a64" opacity="0.79"/><ellipse cx="499.7" cy="562.3" rx="2.7" ry="2.6" fill="#684a64" opacity="0.55"/><ellipse cx="507.1" cy="564.0" rx="3.0" ry="2.9" fill="#684a64" opacity="0.49"/><ellipse cx="513.3" cy="566.7" rx="2.6" ry="2.7" fill="#7a5a78" opacity="0.75"/><ellipse cx="442.8" cy="572.7" rx="2.8" ry="2.3" fill="#5e4460" opacity="0.80"/><ellipse cx="455.3" cy="569.4" rx="2.5" ry="2.6" fill="#6a4c68" opacity="0.56"/><ellipse cx="465.6" cy="568.9" rx="2.8" ry="2.6" fill="#684a64" opacity="0.54"/><ellipse cx="472.6" cy="570.7" rx="3.1" ry="2.5" fill="#5e4460" opacity="0.71"/><ellipse cx="475.6" cy="572.9" rx="2.7" ry="2.1" fill="#5e4460" opacity="0.76"/><ellipse cx="481.7" cy="571.5" rx="2.7" ry="2.1" fill="#6a4c68" opacity="0.66"/><ellipse cx="492.1" cy="569.3" rx="2.9" ry="2.7" fill="#6a4c68" opacity="0.79"/><ellipse cx="497.5" cy="572.6" rx="2.8" ry="2.7" fill="#7a5a78" opacity="0.65"/><ellipse cx="503.4" cy="571.8" rx="3.1" ry="2.7" fill="#5e4460" opacity="0.45"/><ellipse cx="507.6" cy="568.6" rx="2.9" ry="2.8" fill="#7a5a78" opacity="0.64"/><ellipse cx="513.3" cy="571.9" rx="3.1" ry="3.1" fill="#5e4460" opacity="0.60"/><ellipse cx="522.6" cy="569.9" rx="2.8" ry="2.2" fill="#684a64" opacity="0.65"/><ellipse cx="441.5" cy="578.6" rx="2.6" ry="2.5" fill="#7a5a78" opacity="0.77"/><ellipse cx="446.5" cy="575.4" rx="3.0" ry="2.8" fill="#6a4c68" opacity="0.51"/><ellipse cx="454.5" cy="579.4" rx="2.5" ry="2.3" fill="#5e4460" opacity="0.67"/><ellipse cx="462.9" cy="578.6" rx="2.9" ry="2.8" fill="#684a64" opacity="0.66"/><ellipse cx="465.9" cy="578.3" rx="3.0" ry="2.7" fill="#684a64" opacity="0.71"/><ellipse cx="474.1" cy="579.5" rx="3.1" ry="2.4" fill="#5e4460" opacity="0.51"/><ellipse cx="480.7" cy="575.4" rx="3.3" ry="3.4" fill="#7a5a78" opacity="0.77"/><ellipse cx="487.7" cy="575.0" rx="3.4" ry="2.5" fill="#6a4c68" opacity="0.65"/><ellipse cx="492.7" cy="576.5" rx="3.1" ry="2.3" fill="#684a64" opacity="0.68"/><ellipse cx="499.6" cy="580.0" rx="2.8" ry="2.9" fill="#6a4c68" opacity="0.50"/><ellipse cx="507.1" cy="578.0" rx="3.2" ry="2.8" fill="#5e4460" opacity="0.80"/><ellipse cx="511.2" cy="576.6" rx="3.3" ry="3.3" fill="#6a4c68" opacity="0.65"/><ellipse cx="516.8" cy="576.2" rx="2.7" ry="2.1" fill="#6a4c68" opacity="0.45"/><ellipse cx="445.1" cy="581.9" rx="3.4" ry="2.6" fill="#7a5a78" opacity="0.70"/><ellipse cx="449.0" cy="583.8" rx="2.7" ry="2.5" fill="#6a4c68" opacity="0.67"/><ellipse cx="457.1" cy="584.1" rx="2.6" ry="2.6" fill="#6a4c68" opacity="0.62"/><ellipse cx="463.5" cy="585.2" rx="3.0" ry="2.3" fill="#7a5a78" opacity="0.68"/><ellipse cx="469.1" cy="584.9" rx="2.5" ry="2.5" fill="#7a5a78" opacity="0.70"/><ellipse cx="476.2" cy="584.6" rx="3.0" ry="2.4" fill="#6a4c68" opacity="0.63"/><ellipse cx="480.9" cy="583.0" rx="3.2" ry="3.2" fill="#6a4c68" opacity="0.61"/><ellipse cx="488.6" cy="585.0" rx="2.7" ry="2.1" fill="#5e4460" opacity="0.49"/><ellipse cx="497.7" cy="583.7" rx="3.3" ry="3.2" fill="#5e4460" opacity="0.46"/><ellipse cx="503.4" cy="582.4" rx="2.8" ry="2.6" fill="#684a64" opacity="0.61"/><ellipse cx="510.2" cy="582.6" rx="2.8" ry="2.4" fill="#7a5a78" opacity="0.47"/><ellipse cx="521.8" cy="585.1" rx="2.9" ry="2.8" fill="#5e4460" opacity="0.50"/><ellipse cx="440.7" cy="590.5" rx="2.8" ry="2.4" fill="#6a4c68" opacity="0.49"/><ellipse cx="450.4" cy="590.1" rx="3.0" ry="3.0" fill="#5e4460" opacity="0.73"/><ellipse cx="456.0" cy="588.9" rx="3.2" ry="2.5" fill="#5e4460" opacity="0.77"/><ellipse cx="459.8" cy="589.4" rx="2.4" ry="1.9" fill="#5e4460" opacity="0.62"/><ellipse cx="465.9" cy="589.7" rx="2.5" ry="2.3" fill="#5e4460" opacity="0.51"/><ellipse cx="472.6" cy="590.9" rx="2.5" ry="2.0" fill="#684a64" opacity="0.70"/><ellipse cx="479.1" cy="591.9" rx="2.9" ry="2.9" fill="#7a5a78" opacity="0.57"/><ellipse cx="485.2" cy="590.6" rx="3.0" ry="2.5" fill="#684a64" opacity="0.78"/><ellipse cx="490.9" cy="590.6" rx="2.8" ry="2.7" fill="#5e4460" opacity="0.63"/><ellipse cx="498.9" cy="592.0" rx="2.9" ry="2.2" fill="#6a4c68" opacity="0.78"/><ellipse cx="504.9" cy="589.2" rx="3.3" ry="3.2" fill="#6a4c68" opacity="0.54"/><ellipse cx="513.2" cy="591.0" rx="2.4" ry="1.9" fill="#6a4c68" opacity="0.64"/><ellipse cx="518.3" cy="589.6" rx="2.5" ry="2.6" fill="#5e4460" opacity="0.55"/></g></g><rect x="438.3" y="510.2" width="81.2" height="81.0" filter="url(#mem12)"/><rect x="485.60" y="581.40" width="32.40" height="7.20" fill="#fff"/><line x1="488.10" y1="589.10" x2="515.50" y2="589.10" stroke="#444" stroke-width="0.9"/><text x="501.80" y="586.90" font-size="6" text-anchor="middle" class="n">50 μm</text><rect x="339.0" y="183.0" width="82.3" height="81.0" filter="url(#bg100)"/><g clip-path="url(#cp100)"><g filter="url(#soft)"><ellipse cx="341.6" cy="187.0" rx="3.3" ry="2.1" transform="rotate(78 341.6 187.0)" fill="#5454a0" opacity="0.84"/><ellipse cx="346.3" cy="186.5" rx="3.2" ry="2.6" transform="rotate(41 346.3 186.5)" fill="#6060a8" opacity="0.85"/><ellipse cx="354.8" cy="185.2" rx="2.9" ry="1.6" transform="rotate(73 354.8 185.2)" fill="#4a4a90" opacity="0.74"/><ellipse cx="359.3" cy="184.1" rx="2.2" ry="1.1" transform="rotate(139 359.3 184.1)" fill="#5454a0" opacity="0.77"/><ellipse cx="363.0" cy="185.6" rx="3.2" ry="2.5" transform="rotate(23 363.0 185.6)" fill="#7878b4" opacity="0.77"/><ellipse cx="370.3" cy="187.7" rx="3.3" ry="2.1" transform="rotate(61 370.3 187.7)" fill="#6c6cae" opacity="0.80"/><ellipse cx="375.0" cy="183.8" rx="2.4" ry="1.7" transform="rotate(78 375.0 183.8)" fill="#4a4a90" opacity="0.67"/><ellipse cx="381.1" cy="185.8" rx="3.1" ry="1.6" transform="rotate(122 381.1 185.8)" fill="#6c6cae" opacity="0.86"/><ellipse cx="384.9" cy="183.8" rx="3.2" ry="2.1" transform="rotate(56 384.9 183.8)" fill="#7878b4" opacity="0.79"/><ellipse cx="392.0" cy="186.6" rx="3.0" ry="1.4" transform="rotate(21 392.0 186.6)" fill="#5454a0" opacity="0.78"/><ellipse cx="398.8" cy="186.3" rx="3.3" ry="1.6" transform="rotate(98 398.8 186.3)" fill="#4a4a90" opacity="0.81"/><ellipse cx="401.4" cy="184.4" rx="2.6" ry="1.3" transform="rotate(25 401.4 184.4)" fill="#5454a0" opacity="0.79"/><ellipse cx="410.0" cy="183.7" rx="2.9" ry="1.9" transform="rotate(125 410.0 183.7)" fill="#6c6cae" opacity="0.76"/><ellipse cx="416.1" cy="187.3" rx="2.3" ry="1.7" transform="rotate(48 416.1 187.3)" fill="#5454a0" opacity="0.90"/><ellipse cx="422.4" cy="185.3" rx="2.6" ry="2.1" transform="rotate(55 422.4 185.3)" fill="#7878b4" opacity="0.88"/><ellipse cx="344.2" cy="192.1" rx="2.6" ry="1.2" transform="rotate(131 344.2 192.1)" fill="#7878b4" opacity="0.61"/><ellipse cx="351.0" cy="191.2" rx="3.4" ry="2.2" transform="rotate(176 351.0 191.2)" fill="#6c6cae" opacity="0.61"/><ellipse cx="356.0" cy="189.9" rx="3.3" ry="2.0" transform="rotate(2 356.0 189.9)" fill="#4a4a90" opacity="0.70"/><ellipse cx="361.2" cy="190.1" rx="2.5" ry="1.6" transform="rotate(99 361.2 190.1)" fill="#6060a8" opacity="0.68"/><ellipse cx="368.6" cy="191.4" rx="3.2" ry="1.5" transform="rotate(20 368.6 191.4)" fill="#4a4a90" opacity="0.78"/><ellipse cx="371.9" cy="193.5" rx="2.3" ry="1.4" transform="rotate(75 371.9 193.5)" fill="#5454a0" opacity="0.77"/><ellipse cx="379.0" cy="191.6" rx="3.5" ry="1.8" transform="rotate(174 379.0 191.6)" fill="#6c6cae" opacity="0.77"/><ellipse cx="383.3" cy="193.1" rx="2.4" ry="1.8" transform="rotate(152 383.3 193.1)" fill="#4a4a90" opacity="0.63"/><ellipse cx="388.4" cy="192.5" rx="3.4" ry="2.2" transform="rotate(6 388.4 192.5)" fill="#7878b4" opacity="0.60"/><ellipse cx="402.3" cy="192.5" rx="2.8" ry="1.9" transform="rotate(89 402.3 192.5)" fill="#7878b4" opacity="0.89"/><ellipse cx="404.1" cy="191.5" rx="3.7" ry="2.4" transform="rotate(124 404.1 191.5)" fill="#6060a8" opacity="0.61"/><ellipse cx="412.7" cy="189.7" rx="2.8" ry="1.6" transform="rotate(113 412.7 189.7)" fill="#4a4a90" opacity="0.63"/><ellipse cx="416.0" cy="189.6" rx="2.7" ry="1.9" transform="rotate(111 416.0 189.6)" fill="#5454a0" opacity="0.88"/><ellipse cx="341.0" cy="195.4" rx="2.4" ry="1.5" transform="rotate(163 341.0 195.4)" fill="#4a4a90" opacity="0.66"/><ellipse cx="348.9" cy="194.9" rx="3.1" ry="1.8" transform="rotate(1 348.9 194.9)" fill="#4a4a90" opacity="0.75"/><ellipse cx="352.7" cy="195.7" rx="2.6" ry="1.5" transform="rotate(72 352.7 195.7)" fill="#6c6cae" opacity="0.87"/><ellipse cx="365.8" cy="195.5" rx="3.3" ry="2.2" transform="rotate(63 365.8 195.5)" fill="#6c6cae" opacity="0.65"/><ellipse cx="370.5" cy="195.8" rx="3.7" ry="2.4" transform="rotate(61 370.5 195.8)" fill="#5454a0" opacity="0.68"/><ellipse cx="374.8" cy="198.9" rx="2.6" ry="1.4" transform="rotate(104 374.8 198.9)" fill="#4a4a90" opacity="0.82"/><ellipse cx="379.5" cy="195.3" rx="2.5" ry="1.8" transform="rotate(72 379.5 195.3)" fill="#5454a0" opacity="0.72"/><ellipse cx="385.2" cy="195.9" rx="2.2" ry="1.7" transform="rotate(50 385.2 195.9)" fill="#6c6cae" opacity="0.74"/><ellipse cx="390.2" cy="196.0" rx="2.8" ry="1.5" transform="rotate(128 390.2 196.0)" fill="#7878b4" opacity="0.62"/><ellipse cx="397.2" cy="199.1" rx="2.8" ry="1.8" transform="rotate(173 397.2 199.1)" fill="#5454a0" opacity="0.88"/><ellipse cx="402.4" cy="196.7" rx="3.7" ry="2.5" transform="rotate(133 402.4 196.7)" fill="#5454a0" opacity="0.79"/><ellipse cx="409.6" cy="196.2" rx="2.3" ry="1.2" transform="rotate(110 409.6 196.2)" fill="#5454a0" opacity="0.87"/><ellipse cx="415.5" cy="199.2" rx="3.0" ry="1.9" transform="rotate(174 415.5 199.2)" fill="#6060a8" opacity="0.65"/><ellipse cx="421.3" cy="197.8" rx="2.9" ry="1.8" transform="rotate(0 421.3 197.8)" fill="#7878b4" opacity="0.73"/><ellipse cx="343.2" cy="202.4" rx="3.2" ry="1.7" transform="rotate(157 343.2 202.4)" fill="#6c6cae" opacity="0.74"/><ellipse cx="348.1" cy="202.2" rx="2.4" ry="1.9" transform="rotate(163 348.1 202.2)" fill="#6060a8" opacity="0.82"/><ellipse cx="357.6" cy="203.7" rx="3.5" ry="2.6" transform="rotate(74 357.6 203.7)" fill="#4a4a90" opacity="0.69"/><ellipse cx="362.3" cy="203.4" rx="2.4" ry="1.7" transform="rotate(140 362.3 203.4)" fill="#5454a0" opacity="0.61"/><ellipse cx="366.5" cy="201.4" rx="2.4" ry="1.7" transform="rotate(69 366.5 201.4)" fill="#7878b4" opacity="0.69"/><ellipse cx="373.1" cy="202.8" rx="3.3" ry="1.7" transform="rotate(73 373.1 202.8)" fill="#4a4a90" opacity="0.62"/><ellipse cx="381.7" cy="202.0" rx="3.5" ry="1.8" transform="rotate(86 381.7 202.0)" fill="#4a4a90" opacity="0.68"/><ellipse cx="389.8" cy="201.7" rx="2.3" ry="1.6" transform="rotate(143 389.8 201.7)" fill="#6c6cae" opacity="0.86"/><ellipse cx="400.7" cy="204.0" rx="3.6" ry="2.8" transform="rotate(143 400.7 204.0)" fill="#6c6cae" opacity="0.87"/><ellipse cx="407.0" cy="201.3" rx="3.2" ry="2.2" transform="rotate(44 407.0 201.3)" fill="#6c6cae" opacity="0.69"/><ellipse cx="411.0" cy="201.8" rx="2.4" ry="1.6" transform="rotate(171 411.0 201.8)" fill="#6060a8" opacity="0.89"/><ellipse cx="415.8" cy="202.5" rx="2.4" ry="1.6" transform="rotate(31 415.8 202.5)" fill="#6060a8" opacity="0.79"/><ellipse cx="422.0" cy="204.1" rx="3.0" ry="2.4" transform="rotate(114 422.0 204.1)" fill="#5454a0" opacity="0.68"/><ellipse cx="342.4" cy="208.5" rx="3.0" ry="2.1" transform="rotate(73 342.4 208.5)" fill="#4a4a90" opacity="0.82"/><ellipse cx="349.6" cy="207.4" rx="2.6" ry="2.0" transform="rotate(77 349.6 207.4)" fill="#6060a8" opacity="0.77"/><ellipse cx="351.1" cy="206.7" rx="2.5" ry="1.7" transform="rotate(137 351.1 206.7)" fill="#7878b4" opacity="0.74"/><ellipse cx="358.1" cy="207.5" rx="3.2" ry="2.1" transform="rotate(104 358.1 207.5)" fill="#5454a0" opacity="0.76"/><ellipse cx="365.2" cy="206.6" rx="2.2" ry="1.5" transform="rotate(15 365.2 206.6)" fill="#7878b4" opacity="0.70"/><ellipse cx="370.9" cy="208.3" rx="3.7" ry="2.4" transform="rotate(63 370.9 208.3)" fill="#5454a0" opacity="0.73"/><ellipse cx="375.9" cy="206.1" rx="3.4" ry="1.6" transform="rotate(9 375.9 206.1)" fill="#7878b4" opacity="0.83"/><ellipse cx="380.3" cy="207.1" rx="3.4" ry="2.1" transform="rotate(160 380.3 207.1)" fill="#7878b4" opacity="0.86"/><ellipse cx="385.5" cy="207.0" rx="2.3" ry="1.2" transform="rotate(102 385.5 207.0)" fill="#4a4a90" opacity="0.63"/><ellipse cx="390.8" cy="207.8" rx="3.6" ry="1.8" transform="rotate(38 390.8 207.8)" fill="#7878b4" opacity="0.67"/><ellipse cx="405.6" cy="209.7" rx="3.3" ry="2.5" transform="rotate(111 405.6 209.7)" fill="#5454a0" opacity="0.82"/><ellipse cx="409.9" cy="207.8" rx="3.6" ry="2.8" transform="rotate(163 409.9 207.8)" fill="#7878b4" opacity="0.72"/><ellipse cx="415.6" cy="209.9" rx="2.7" ry="1.3" transform="rotate(133 415.6 209.9)" fill="#7878b4" opacity="0.77"/><ellipse cx="422.1" cy="207.6" rx="2.2" ry="1.2" transform="rotate(131 422.1 207.6)" fill="#7878b4" opacity="0.89"/><ellipse cx="344.6" cy="212.3" rx="3.5" ry="2.0" transform="rotate(30 344.6 212.3)" fill="#5454a0" opacity="0.77"/><ellipse cx="350.2" cy="212.4" rx="3.5" ry="2.2" transform="rotate(129 350.2 212.4)" fill="#5454a0" opacity="0.82"/><ellipse cx="356.4" cy="213.7" rx="3.8" ry="2.3" transform="rotate(83 356.4 213.7)" fill="#6c6cae" opacity="0.81"/><ellipse cx="359.5" cy="213.2" rx="2.5" ry="1.3" transform="rotate(97 359.5 213.2)" fill="#7878b4" opacity="0.90"/><ellipse cx="370.6" cy="213.3" rx="3.6" ry="2.5" transform="rotate(147 370.6 213.3)" fill="#7878b4" opacity="0.61"/><ellipse cx="376.3" cy="211.7" rx="3.3" ry="1.8" transform="rotate(163 376.3 211.7)" fill="#4a4a90" opacity="0.77"/><ellipse cx="389.5" cy="214.4" rx="2.7" ry="1.8" transform="rotate(108 389.5 214.4)" fill="#4a4a90" opacity="0.82"/><ellipse cx="397.1" cy="215.4" rx="3.2" ry="2.2" transform="rotate(44 397.1 215.4)" fill="#7878b4" opacity="0.77"/><ellipse cx="402.0" cy="214.3" rx="2.9" ry="2.3" transform="rotate(53 402.0 214.3)" fill="#5454a0" opacity="0.81"/><ellipse cx="405.4" cy="211.7" rx="2.7" ry="1.7" transform="rotate(124 405.4 211.7)" fill="#6c6cae" opacity="0.87"/><ellipse cx="409.9" cy="215.6" rx="3.4" ry="2.6" transform="rotate(76 409.9 215.6)" fill="#5454a0" opacity="0.89"/><ellipse cx="423.2" cy="215.4" rx="2.3" ry="1.3" transform="rotate(112 423.2 215.4)" fill="#4a4a90" opacity="0.81"/><ellipse cx="343.8" cy="218.4" rx="3.4" ry="2.3" transform="rotate(69 343.8 218.4)" fill="#6060a8" opacity="0.76"/><ellipse cx="348.9" cy="217.5" rx="2.8" ry="2.2" transform="rotate(135 348.9 217.5)" fill="#6c6cae" opacity="0.65"/><ellipse cx="351.5" cy="219.0" rx="2.4" ry="1.5" transform="rotate(153 351.5 219.0)" fill="#6c6cae" opacity="0.65"/><ellipse cx="359.7" cy="219.3" rx="3.7" ry="2.4" transform="rotate(9 359.7 219.3)" fill="#7878b4" opacity="0.88"/><ellipse cx="364.7" cy="217.2" rx="2.5" ry="1.6" transform="rotate(109 364.7 217.2)" fill="#5454a0" opacity="0.76"/><ellipse cx="369.6" cy="220.2" rx="3.3" ry="1.8" transform="rotate(107 369.6 220.2)" fill="#6c6cae" opacity="0.87"/><ellipse cx="374.3" cy="220.5" rx="3.5" ry="2.5" transform="rotate(127 374.3 220.5)" fill="#4a4a90" opacity="0.63"/><ellipse cx="379.4" cy="217.8" rx="2.9" ry="1.4" transform="rotate(53 379.4 217.8)" fill="#7878b4" opacity="0.68"/><ellipse cx="384.7" cy="221.4" rx="3.2" ry="1.9" transform="rotate(120 384.7 221.4)" fill="#6c6cae" opacity="0.77"/><ellipse cx="398.1" cy="219.2" rx="3.0" ry="1.4" transform="rotate(20 398.1 219.2)" fill="#6060a8" opacity="0.65"/><ellipse cx="401.2" cy="218.0" rx="2.7" ry="1.7" transform="rotate(134 401.2 218.0)" fill="#7878b4" opacity="0.66"/><ellipse cx="408.2" cy="217.6" rx="2.3" ry="1.8" transform="rotate(39 408.2 217.6)" fill="#6060a8" opacity="0.65"/><ellipse cx="421.5" cy="218.1" rx="3.6" ry="2.6" transform="rotate(10 421.5 218.1)" fill="#7878b4" opacity="0.83"/><ellipse cx="366.9" cy="226.5" rx="3.3" ry="1.7" transform="rotate(9 366.9 226.5)" fill="#6c6cae" opacity="0.65"/><ellipse cx="370.8" cy="224.2" rx="2.9" ry="1.9" transform="rotate(133 370.8 224.2)" fill="#7878b4" opacity="0.70"/><ellipse cx="380.0" cy="225.7" rx="2.8" ry="1.5" transform="rotate(159 380.0 225.7)" fill="#6c6cae" opacity="0.73"/><ellipse cx="382.3" cy="225.1" rx="3.6" ry="2.0" transform="rotate(167 382.3 225.1)" fill="#6060a8" opacity="0.73"/><ellipse cx="388.0" cy="226.1" rx="2.6" ry="1.4" transform="rotate(10 388.0 226.1)" fill="#4a4a90" opacity="0.83"/><ellipse cx="400.5" cy="225.1" rx="3.6" ry="2.1" transform="rotate(126 400.5 225.1)" fill="#4a4a90" opacity="0.73"/><ellipse cx="407.1" cy="225.3" rx="2.3" ry="1.4" transform="rotate(54 407.1 225.3)" fill="#4a4a90" opacity="0.79"/><ellipse cx="410.4" cy="224.4" rx="2.7" ry="1.5" transform="rotate(21 410.4 224.4)" fill="#6c6cae" opacity="0.83"/><ellipse cx="415.6" cy="225.3" rx="3.2" ry="1.9" transform="rotate(55 415.6 225.3)" fill="#4a4a90" opacity="0.63"/><ellipse cx="425.0" cy="223.9" rx="3.2" ry="2.0" transform="rotate(104 425.0 223.9)" fill="#6c6cae" opacity="0.83"/><ellipse cx="345.6" cy="229.6" rx="3.3" ry="1.8" transform="rotate(17 345.6 229.6)" fill="#5454a0" opacity="0.62"/><ellipse cx="351.0" cy="229.8" rx="2.6" ry="1.7" transform="rotate(159 351.0 229.8)" fill="#7878b4" opacity="0.66"/><ellipse cx="356.6" cy="232.7" rx="3.4" ry="2.2" transform="rotate(177 356.6 232.7)" fill="#4a4a90" opacity="0.81"/><ellipse cx="363.2" cy="229.0" rx="3.4" ry="1.9" transform="rotate(58 363.2 229.0)" fill="#6060a8" opacity="0.84"/><ellipse cx="374.7" cy="232.6" rx="3.8" ry="3.0" transform="rotate(40 374.7 232.6)" fill="#6060a8" opacity="0.85"/><ellipse cx="380.7" cy="232.3" rx="3.3" ry="1.7" transform="rotate(49 380.7 232.3)" fill="#7878b4" opacity="0.78"/><ellipse cx="394.2" cy="230.1" rx="2.8" ry="1.9" transform="rotate(45 394.2 230.1)" fill="#7878b4" opacity="0.90"/><ellipse cx="399.8" cy="232.6" rx="3.6" ry="1.9" transform="rotate(11 399.8 232.6)" fill="#6c6cae" opacity="0.83"/><ellipse cx="404.7" cy="229.4" rx="2.7" ry="2.1" transform="rotate(57 404.7 229.4)" fill="#6c6cae" opacity="0.88"/><ellipse cx="410.9" cy="230.6" rx="2.9" ry="1.6" transform="rotate(137 410.9 230.6)" fill="#7878b4" opacity="0.71"/><ellipse cx="415.5" cy="232.0" rx="3.1" ry="1.9" transform="rotate(34 415.5 232.0)" fill="#6c6cae" opacity="0.79"/><ellipse cx="421.5" cy="231.4" rx="3.4" ry="2.6" transform="rotate(54 421.5 231.4)" fill="#5454a0" opacity="0.64"/><ellipse cx="351.3" cy="235.8" rx="2.8" ry="1.8" transform="rotate(20 351.3 235.8)" fill="#7878b4" opacity="0.89"/><ellipse cx="353.8" cy="236.4" rx="2.5" ry="1.3" transform="rotate(98 353.8 236.4)" fill="#5454a0" opacity="0.65"/><ellipse cx="362.2" cy="237.0" rx="3.6" ry="1.9" transform="rotate(62 362.2 237.0)" fill="#7878b4" opacity="0.70"/><ellipse cx="368.8" cy="234.8" rx="3.7" ry="2.7" transform="rotate(48 368.8 234.8)" fill="#4a4a90" opacity="0.86"/><ellipse cx="370.5" cy="235.3" rx="3.8" ry="2.5" transform="rotate(97 370.5 235.3)" fill="#7878b4" opacity="0.81"/><ellipse cx="379.7" cy="234.4" rx="2.9" ry="2.2" transform="rotate(172 379.7 234.4)" fill="#7878b4" opacity="0.69"/><ellipse cx="384.9" cy="237.4" rx="2.3" ry="1.1" transform="rotate(40 384.9 237.4)" fill="#6c6cae" opacity="0.66"/><ellipse cx="393.2" cy="237.7" rx="2.5" ry="1.1" transform="rotate(35 393.2 237.7)" fill="#5454a0" opacity="0.71"/><ellipse cx="401.8" cy="236.8" rx="3.6" ry="2.0" transform="rotate(73 401.8 236.8)" fill="#4a4a90" opacity="0.88"/><ellipse cx="408.1" cy="234.4" rx="2.7" ry="2.1" transform="rotate(18 408.1 234.4)" fill="#6c6cae" opacity="0.64"/><ellipse cx="411.8" cy="238.0" rx="2.5" ry="1.2" transform="rotate(56 411.8 238.0)" fill="#7878b4" opacity="0.88"/><ellipse cx="418.0" cy="234.2" rx="2.9" ry="2.3" transform="rotate(117 418.0 234.2)" fill="#6060a8" opacity="0.66"/><ellipse cx="421.4" cy="235.5" rx="2.4" ry="1.7" transform="rotate(77 421.4 235.5)" fill="#7878b4" opacity="0.74"/><ellipse cx="339.7" cy="243.3" rx="2.4" ry="1.2" transform="rotate(65 339.7 243.3)" fill="#6060a8" opacity="0.81"/><ellipse cx="345.3" cy="244.0" rx="3.5" ry="2.5" transform="rotate(23 345.3 244.0)" fill="#7878b4" opacity="0.67"/><ellipse cx="353.1" cy="243.0" rx="3.6" ry="1.9" transform="rotate(123 353.1 243.0)" fill="#6c6cae" opacity="0.86"/><ellipse cx="358.3" cy="243.8" rx="3.1" ry="1.5" transform="rotate(160 358.3 243.8)" fill="#7878b4" opacity="0.84"/><ellipse cx="366.1" cy="243.7" rx="3.2" ry="2.1" transform="rotate(34 366.1 243.7)" fill="#6060a8" opacity="0.87"/><ellipse cx="371.6" cy="243.4" rx="3.1" ry="2.2" transform="rotate(160 371.6 243.4)" fill="#4a4a90" opacity="0.88"/><ellipse cx="376.2" cy="243.1" rx="3.0" ry="1.9" transform="rotate(153 376.2 243.1)" fill="#5454a0" opacity="0.69"/><ellipse cx="380.0" cy="243.8" rx="2.5" ry="2.0" transform="rotate(71 380.0 243.8)" fill="#5454a0" opacity="0.82"/><ellipse cx="386.1" cy="239.8" rx="3.7" ry="1.9" transform="rotate(90 386.1 239.8)" fill="#5454a0" opacity="0.62"/><ellipse cx="393.2" cy="241.2" rx="2.4" ry="1.4" transform="rotate(44 393.2 241.2)" fill="#7878b4" opacity="0.60"/><ellipse cx="399.4" cy="241.9" rx="3.6" ry="1.8" transform="rotate(13 399.4 241.9)" fill="#7878b4" opacity="0.85"/><ellipse cx="403.1" cy="241.7" rx="3.3" ry="2.2" transform="rotate(44 403.1 241.7)" fill="#4a4a90" opacity="0.64"/><ellipse cx="408.5" cy="241.5" rx="2.3" ry="1.7" transform="rotate(19 408.5 241.5)" fill="#6060a8" opacity="0.70"/><ellipse cx="415.4" cy="241.9" rx="3.6" ry="2.8" transform="rotate(160 415.4 241.9)" fill="#6c6cae" opacity="0.61"/><ellipse cx="342.4" cy="245.4" rx="2.3" ry="1.4" transform="rotate(106 342.4 245.4)" fill="#7878b4" opacity="0.63"/><ellipse cx="348.0" cy="247.1" rx="2.6" ry="2.1" transform="rotate(26 348.0 247.1)" fill="#5454a0" opacity="0.85"/><ellipse cx="356.6" cy="245.3" rx="2.3" ry="1.4" transform="rotate(97 356.6 245.3)" fill="#6060a8" opacity="0.72"/><ellipse cx="366.5" cy="247.1" rx="2.3" ry="1.4" transform="rotate(56 366.5 247.1)" fill="#4a4a90" opacity="0.63"/><ellipse cx="372.9" cy="246.0" rx="3.7" ry="2.6" transform="rotate(18 372.9 246.0)" fill="#6060a8" opacity="0.66"/><ellipse cx="377.8" cy="245.4" rx="2.6" ry="1.9" transform="rotate(2 377.8 245.4)" fill="#6c6cae" opacity="0.81"/><ellipse cx="385.8" cy="246.8" rx="3.7" ry="2.7" transform="rotate(50 385.8 246.8)" fill="#6060a8" opacity="0.88"/><ellipse cx="388.4" cy="249.1" rx="2.4" ry="1.7" transform="rotate(67 388.4 249.1)" fill="#5454a0" opacity="0.87"/><ellipse cx="394.9" cy="246.4" rx="2.4" ry="1.3" transform="rotate(68 394.9 246.4)" fill="#6060a8" opacity="0.73"/><ellipse cx="398.7" cy="248.3" rx="2.5" ry="1.2" transform="rotate(54 398.7 248.3)" fill="#5454a0" opacity="0.71"/><ellipse cx="405.5" cy="246.0" rx="2.9" ry="1.8" transform="rotate(163 405.5 246.0)" fill="#6060a8" opacity="0.89"/><ellipse cx="413.4" cy="245.5" rx="3.6" ry="1.8" transform="rotate(157 413.4 245.5)" fill="#6060a8" opacity="0.70"/><ellipse cx="417.9" cy="247.4" rx="3.3" ry="1.7" transform="rotate(32 417.9 247.4)" fill="#4a4a90" opacity="0.63"/><ellipse cx="358.4" cy="251.6" rx="3.2" ry="2.6" transform="rotate(96 358.4 251.6)" fill="#6060a8" opacity="0.82"/><ellipse cx="363.3" cy="252.6" rx="2.7" ry="1.5" transform="rotate(111 363.3 252.6)" fill="#4a4a90" opacity="0.90"/><ellipse cx="369.3" cy="253.9" rx="3.3" ry="1.5" transform="rotate(127 369.3 253.9)" fill="#4a4a90" opacity="0.80"/><ellipse cx="375.6" cy="251.9" rx="2.9" ry="2.2" transform="rotate(134 375.6 251.9)" fill="#5454a0" opacity="0.75"/><ellipse cx="379.2" cy="253.5" rx="3.6" ry="2.5" transform="rotate(120 379.2 253.5)" fill="#5454a0" opacity="0.76"/><ellipse cx="385.0" cy="254.3" rx="2.4" ry="1.7" transform="rotate(1 385.0 254.3)" fill="#5454a0" opacity="0.76"/><ellipse cx="392.7" cy="252.9" rx="3.4" ry="2.2" transform="rotate(96 392.7 252.9)" fill="#6060a8" opacity="0.80"/><ellipse cx="396.7" cy="251.0" rx="2.8" ry="1.7" transform="rotate(179 396.7 251.0)" fill="#5454a0" opacity="0.71"/><ellipse cx="404.3" cy="250.8" rx="3.5" ry="2.1" transform="rotate(3 404.3 250.8)" fill="#6060a8" opacity="0.83"/><ellipse cx="410.1" cy="252.8" rx="3.4" ry="2.3" transform="rotate(157 410.1 252.8)" fill="#7878b4" opacity="0.85"/><ellipse cx="412.6" cy="254.5" rx="2.3" ry="1.3" transform="rotate(26 412.6 254.5)" fill="#5454a0" opacity="0.72"/><ellipse cx="421.4" cy="254.2" rx="2.7" ry="1.3" transform="rotate(0 421.4 254.2)" fill="#5454a0" opacity="0.84"/><ellipse cx="344.7" cy="256.8" rx="2.9" ry="1.8" transform="rotate(146 344.7 256.8)" fill="#4a4a90" opacity="0.87"/><ellipse cx="349.2" cy="260.8" rx="2.4" ry="1.4" transform="rotate(93 349.2 260.8)" fill="#6c6cae" opacity="0.84"/><ellipse cx="355.4" cy="259.5" rx="2.4" ry="1.3" transform="rotate(137 355.4 259.5)" fill="#6060a8" opacity="0.67"/><ellipse cx="367.6" cy="257.9" rx="3.6" ry="2.8" transform="rotate(3 367.6 257.9)" fill="#6060a8" opacity="0.88"/><ellipse cx="373.1" cy="258.6" rx="3.8" ry="2.6" transform="rotate(124 373.1 258.6)" fill="#6c6cae" opacity="0.78"/><ellipse cx="380.1" cy="257.0" rx="2.9" ry="1.9" transform="rotate(10 380.1 257.0)" fill="#6060a8" opacity="0.81"/><ellipse cx="385.4" cy="259.3" rx="3.4" ry="2.0" transform="rotate(117 385.4 259.3)" fill="#6c6cae" opacity="0.74"/><ellipse cx="388.7" cy="259.9" rx="2.8" ry="1.7" transform="rotate(26 388.7 259.9)" fill="#6c6cae" opacity="0.77"/><ellipse cx="393.6" cy="258.5" rx="2.4" ry="1.6" transform="rotate(177 393.6 258.5)" fill="#6060a8" opacity="0.86"/><ellipse cx="405.8" cy="260.5" rx="2.8" ry="2.0" transform="rotate(141 405.8 260.5)" fill="#6c6cae" opacity="0.80"/><ellipse cx="411.9" cy="260.0" rx="3.3" ry="2.0" transform="rotate(103 411.9 260.0)" fill="#7878b4" opacity="0.85"/><ellipse cx="417.1" cy="258.9" rx="2.5" ry="1.7" transform="rotate(94 417.1 258.9)" fill="#6c6cae" opacity="0.70"/><ellipse cx="425.2" cy="259.6" rx="3.6" ry="2.8" transform="rotate(36 425.2 259.6)" fill="#5454a0" opacity="0.68"/><ellipse cx="340.6" cy="263.2" rx="2.6" ry="1.6" transform="rotate(61 340.6 263.2)" fill="#4a4a90" opacity="0.74"/><ellipse cx="347.8" cy="262.4" rx="3.1" ry="2.3" transform="rotate(4 347.8 262.4)" fill="#7878b4" opacity="0.68"/><ellipse cx="351.6" cy="262.8" rx="3.2" ry="2.1" transform="rotate(166 351.6 262.8)" fill="#5454a0" opacity="0.66"/><ellipse cx="359.0" cy="266.1" rx="2.9" ry="2.2" transform="rotate(157 359.0 266.1)" fill="#7878b4" opacity="0.89"/><ellipse cx="364.9" cy="263.6" rx="3.0" ry="2.4" transform="rotate(84 364.9 263.6)" fill="#6c6cae" opacity="0.69"/><ellipse cx="368.7" cy="265.8" rx="2.9" ry="1.8" transform="rotate(98 368.7 265.8)" fill="#4a4a90" opacity="0.79"/><ellipse cx="374.7" cy="266.2" rx="3.6" ry="2.1" transform="rotate(100 374.7 266.2)" fill="#5454a0" opacity="0.88"/><ellipse cx="380.0" cy="266.2" rx="3.0" ry="2.0" transform="rotate(9 380.0 266.2)" fill="#7878b4" opacity="0.74"/><ellipse cx="386.8" cy="266.1" rx="3.5" ry="1.9" transform="rotate(131 386.8 266.1)" fill="#6060a8" opacity="0.85"/><ellipse cx="390.0" cy="265.4" rx="2.6" ry="1.4" transform="rotate(118 390.0 265.4)" fill="#6060a8" opacity="0.88"/><ellipse cx="395.7" cy="266.2" rx="3.1" ry="2.0" transform="rotate(105 395.7 266.2)" fill="#4a4a90" opacity="0.82"/><ellipse cx="403.9" cy="263.0" rx="2.6" ry="1.4" transform="rotate(56 403.9 263.0)" fill="#6c6cae" opacity="0.67"/><ellipse cx="410.3" cy="262.2" rx="2.6" ry="2.1" transform="rotate(67 410.3 262.2)" fill="#4a4a90" opacity="0.77"/><ellipse cx="415.7" cy="265.5" rx="3.5" ry="1.9" transform="rotate(169 415.7 265.5)" fill="#6060a8" opacity="0.80"/><ellipse cx="421.1" cy="262.5" rx="3.2" ry="1.7" transform="rotate(173 421.1 262.5)" fill="#4a4a90" opacity="0.85"/></g></g><rect x="339.0" y="183.0" width="82.3" height="81.0" filter="url(#mem100)"/><path d="M339 183 L346 183 Q342 195 344 215 L339 222 Z" fill="#dfe4da" opacity="0.85" filter="url(#soft)"/><rect x="394.30" y="254.70" width="25.50" height="6.70" fill="#fff"/><line x1="396.80" y1="261.90" x2="417.30" y2="261.90" stroke="#444" stroke-width="0.9"/><text x="407.05" y="259.70" font-size="6" text-anchor="middle" class="n">50 μm</text><rect x="426.8" y="183.0" width="83.0" height="81.5" filter="url(#bg101)"/><g clip-path="url(#cp101)"><g filter="url(#soft)"><ellipse cx="429.1" cy="190.8" rx="3.7" ry="2.1" transform="rotate(119 429.1 190.8)" fill="#806890" opacity="0.46"/><ellipse cx="442.3" cy="186.3" rx="3.1" ry="2.0" transform="rotate(29 442.3 186.3)" fill="#8a6c94" opacity="0.53"/><ellipse cx="448.0" cy="188.5" rx="3.0" ry="1.6" transform="rotate(77 448.0 188.5)" fill="#947088" opacity="0.49"/><ellipse cx="459.5" cy="190.3" rx="3.0" ry="2.1" transform="rotate(76 459.5 190.3)" fill="#8a6c94" opacity="0.52"/><ellipse cx="465.3" cy="184.6" rx="3.5" ry="2.6" transform="rotate(65 465.3 184.6)" fill="#8a6c94" opacity="0.48"/><ellipse cx="493.6" cy="191.0" rx="3.6" ry="2.7" transform="rotate(102 493.6 191.0)" fill="#947088" opacity="0.45"/><ellipse cx="513.7" cy="188.8" rx="2.5" ry="2.0" transform="rotate(6 513.7 188.8)" fill="#806890" opacity="0.50"/><ellipse cx="433.1" cy="198.0" rx="3.5" ry="1.9" transform="rotate(143 433.1 198.0)" fill="#8a6c94" opacity="0.44"/><ellipse cx="447.6" cy="196.1" rx="3.7" ry="2.2" transform="rotate(172 447.6 196.1)" fill="#8a6c94" opacity="0.67"/><ellipse cx="466.4" cy="196.2" rx="2.8" ry="1.5" transform="rotate(59 466.4 196.2)" fill="#806890" opacity="0.48"/><ellipse cx="492.7" cy="195.2" rx="2.6" ry="1.8" transform="rotate(160 492.7 195.2)" fill="#947088" opacity="0.40"/><ellipse cx="499.3" cy="198.7" rx="2.8" ry="1.9" transform="rotate(119 499.3 198.7)" fill="#806890" opacity="0.57"/><ellipse cx="460.1" cy="205.6" rx="2.8" ry="1.4" transform="rotate(26 460.1 205.6)" fill="#947088" opacity="0.44"/><ellipse cx="478.6" cy="205.6" rx="3.3" ry="2.0" transform="rotate(83 478.6 205.6)" fill="#806890" opacity="0.57"/><ellipse cx="483.4" cy="205.0" rx="3.1" ry="2.5" transform="rotate(7 483.4 205.0)" fill="#947088" opacity="0.41"/><ellipse cx="493.9" cy="202.3" rx="3.2" ry="2.6" transform="rotate(6 493.9 202.3)" fill="#947088" opacity="0.67"/><ellipse cx="500.1" cy="204.9" rx="3.1" ry="2.2" transform="rotate(111 500.1 204.9)" fill="#947088" opacity="0.44"/><ellipse cx="434.1" cy="215.5" rx="3.4" ry="2.4" transform="rotate(144 434.1 215.5)" fill="#8a6c94" opacity="0.50"/><ellipse cx="448.2" cy="211.7" rx="2.5" ry="2.0" transform="rotate(116 448.2 211.7)" fill="#947088" opacity="0.56"/><ellipse cx="472.4" cy="215.7" rx="3.7" ry="2.4" transform="rotate(7 472.4 215.7)" fill="#947088" opacity="0.46"/><ellipse cx="482.1" cy="217.2" rx="2.6" ry="1.7" transform="rotate(2 482.1 217.2)" fill="#8a6c94" opacity="0.67"/><ellipse cx="489.7" cy="211.8" rx="2.6" ry="2.1" transform="rotate(110 489.7 211.8)" fill="#947088" opacity="0.61"/><ellipse cx="518.2" cy="211.7" rx="3.4" ry="1.9" transform="rotate(17 518.2 211.7)" fill="#806890" opacity="0.49"/><ellipse cx="430.4" cy="225.6" rx="3.6" ry="2.6" transform="rotate(128 430.4 225.6)" fill="#8a6c94" opacity="0.59"/><ellipse cx="449.1" cy="221.3" rx="2.7" ry="2.1" transform="rotate(79 449.1 221.3)" fill="#8a6c94" opacity="0.68"/><ellipse cx="456.1" cy="225.5" rx="2.8" ry="1.5" transform="rotate(6 456.1 225.5)" fill="#947088" opacity="0.67"/><ellipse cx="468.9" cy="226.7" rx="3.3" ry="2.6" transform="rotate(162 468.9 226.7)" fill="#806890" opacity="0.54"/><ellipse cx="473.1" cy="224.7" rx="2.6" ry="1.3" transform="rotate(67 473.1 224.7)" fill="#806890" opacity="0.66"/><ellipse cx="438.2" cy="235.5" rx="2.7" ry="1.6" transform="rotate(143 438.2 235.5)" fill="#947088" opacity="0.62"/><ellipse cx="456.3" cy="229.9" rx="2.7" ry="2.1" transform="rotate(54 456.3 229.9)" fill="#947088" opacity="0.47"/><ellipse cx="473.3" cy="229.0" rx="3.4" ry="1.8" transform="rotate(113 473.3 229.0)" fill="#806890" opacity="0.59"/><ellipse cx="428.4" cy="241.8" rx="3.7" ry="2.0" transform="rotate(147 428.4 241.8)" fill="#8a6c94" opacity="0.65"/><ellipse cx="438.4" cy="243.3" rx="3.8" ry="2.4" transform="rotate(138 438.4 243.3)" fill="#8a6c94" opacity="0.53"/><ellipse cx="446.1" cy="243.2" rx="3.3" ry="2.1" transform="rotate(46 446.1 243.2)" fill="#947088" opacity="0.61"/><ellipse cx="458.5" cy="242.1" rx="3.4" ry="1.9" transform="rotate(101 458.5 242.1)" fill="#8a6c94" opacity="0.61"/><ellipse cx="469.7" cy="238.8" rx="2.7" ry="1.5" transform="rotate(55 469.7 238.8)" fill="#806890" opacity="0.44"/><ellipse cx="473.1" cy="240.5" rx="3.7" ry="2.9" transform="rotate(32 473.1 240.5)" fill="#8a6c94" opacity="0.40"/><ellipse cx="500.8" cy="243.1" rx="3.7" ry="2.7" transform="rotate(155 500.8 243.1)" fill="#947088" opacity="0.50"/><ellipse cx="438.3" cy="249.7" rx="2.8" ry="1.8" transform="rotate(172 438.3 249.7)" fill="#8a6c94" opacity="0.55"/><ellipse cx="442.2" cy="253.9" rx="3.0" ry="1.7" transform="rotate(148 442.2 253.9)" fill="#8a6c94" opacity="0.63"/><ellipse cx="460.7" cy="247.7" rx="3.0" ry="1.5" transform="rotate(157 460.7 247.7)" fill="#8a6c94" opacity="0.66"/><ellipse cx="471.8" cy="252.3" rx="2.6" ry="1.4" transform="rotate(64 471.8 252.3)" fill="#947088" opacity="0.42"/><ellipse cx="483.1" cy="252.5" rx="2.7" ry="1.5" transform="rotate(66 483.1 252.5)" fill="#947088" opacity="0.62"/><ellipse cx="491.2" cy="250.4" rx="2.7" ry="2.0" transform="rotate(31 491.2 250.4)" fill="#947088" opacity="0.55"/><ellipse cx="497.4" cy="250.1" rx="2.6" ry="1.8" transform="rotate(64 497.4 250.1)" fill="#806890" opacity="0.67"/><ellipse cx="510.0" cy="249.5" rx="3.2" ry="2.1" transform="rotate(10 510.0 249.5)" fill="#806890" opacity="0.64"/><ellipse cx="429.0" cy="259.8" rx="3.7" ry="2.8" transform="rotate(93 429.0 259.8)" fill="#8a6c94" opacity="0.48"/><ellipse cx="437.7" cy="260.9" rx="2.5" ry="1.5" transform="rotate(75 437.7 260.9)" fill="#947088" opacity="0.49"/><ellipse cx="467.4" cy="262.3" rx="3.1" ry="1.7" transform="rotate(56 467.4 262.3)" fill="#806890" opacity="0.70"/><ellipse cx="473.2" cy="260.8" rx="2.9" ry="2.1" transform="rotate(49 473.2 260.8)" fill="#8a6c94" opacity="0.50"/><ellipse cx="485.5" cy="258.0" rx="3.3" ry="2.4" transform="rotate(62 485.5 258.0)" fill="#806890" opacity="0.43"/><ellipse cx="504.9" cy="256.4" rx="2.6" ry="1.7" transform="rotate(85 504.9 256.4)" fill="#8a6c94" opacity="0.62"/><ellipse cx="433.0" cy="268.6" rx="2.7" ry="2.0" transform="rotate(51 433.0 268.6)" fill="#806890" opacity="0.62"/><ellipse cx="473.1" cy="271.4" rx="2.6" ry="2.0" transform="rotate(115 473.1 271.4)" fill="#8a6c94" opacity="0.62"/><ellipse cx="482.4" cy="266.2" rx="3.8" ry="2.1" transform="rotate(10 482.4 266.2)" fill="#947088" opacity="0.41"/><ellipse cx="492.2" cy="265.2" rx="3.2" ry="1.8" transform="rotate(87 492.2 265.2)" fill="#8a6c94" opacity="0.62"/><ellipse cx="508.6" cy="270.7" rx="3.6" ry="2.4" transform="rotate(92 508.6 270.7)" fill="#806890" opacity="0.52"/><ellipse cx="518.0" cy="266.0" rx="3.5" ry="1.9" transform="rotate(99 518.0 266.0)" fill="#947088" opacity="0.61"/><path d="M435 185 Q440 190 443 196 Q445 200 448 202" fill="none" stroke="#eef2e4" stroke-width="2.6" stroke-linecap="round" opacity="0.9"/><path d="M433 188 L437 192" fill="none" stroke="#e8eedc" stroke-width="1.8" stroke-linecap="round" opacity="0.9"/><path d="M462 199 Q460 193 466 192 Q472 193 470 199 Q468 204 463 202" fill="none" stroke="#f4f4ea" stroke-width="1.9" stroke-linecap="round" opacity="0.9"/><path d="M432 215.5 Q437 214 442 216.5" fill="none" stroke="#eef0e0" stroke-width="2.0" stroke-linecap="round" opacity="0.9"/><path d="M444 207 Q449 205 453 208" fill="none" stroke="#ecf0dc" stroke-width="2.0" stroke-linecap="round" opacity="0.9"/><path d="M475 204 Q480 203 484 205" fill="none" stroke="#f0eee0" stroke-width="1.7" stroke-linecap="round" opacity="0.9"/><path d="M480 214 Q485 213 490 215" fill="none" stroke="#eeead8" stroke-width="1.7" stroke-linecap="round" opacity="0.9"/><path d="M491 229 Q494 224 498.5 223.5" fill="none" stroke="#f4f4ea" stroke-width="2.2" stroke-linecap="round" opacity="0.9"/><path d="M442.5 219 L445.5 223.5" fill="none" stroke="#e8e8d4" stroke-width="1.8" stroke-linecap="round" opacity="0.9"/><path d="M476 234 L482 233.5" fill="none" stroke="#e8e0cc" stroke-width="1.4" stroke-linecap="round" opacity="0.9"/><path d="M428 201 L430 207" fill="none" stroke="#eef0e0" stroke-width="1.8" stroke-linecap="round" opacity="0.9"/><path d="M455 188 L459 187" fill="none" stroke="#ece8d0" stroke-width="1.5" stroke-linecap="round" opacity="0.9"/><path d="M438 198 L441 203" fill="none" stroke="#eef0e0" stroke-width="1.8" stroke-linecap="round" opacity="0.9"/><path d="M500 201 L504 203" fill="none" stroke="#e8e4cc" stroke-width="1.4" stroke-linecap="round" opacity="0.9"/><ellipse cx="434" cy="228" rx="4" ry="3" fill="#8a7494" opacity="0.5"/><ellipse cx="443" cy="236" rx="4.5" ry="3.2" fill="#8a7494" opacity="0.5"/><ellipse cx="432" cy="246" rx="4" ry="3.5" fill="#8a7494" opacity="0.5"/><ellipse cx="447" cy="250" rx="4" ry="3" fill="#8a7494" opacity="0.5"/><ellipse cx="457" cy="241" rx="3.5" ry="3" fill="#8a7494" opacity="0.5"/><ellipse cx="468" cy="232" rx="3.5" ry="3" fill="#8a7494" opacity="0.5"/><ellipse cx="438" cy="257" rx="4" ry="3" fill="#8a7494" opacity="0.5"/><ellipse cx="452" cy="226" rx="3.5" ry="2.8" fill="#8a7494" opacity="0.5"/><ellipse cx="492" cy="202" rx="3.5" ry="3" fill="#8a7494" opacity="0.5"/><ellipse cx="478" cy="242" rx="3.5" ry="3" fill="#8a7494" opacity="0.5"/><ellipse cx="495" cy="240" rx="3.5" ry="3" fill="#8a7494" opacity="0.5"/><ellipse cx="464" cy="256" rx="3.5" ry="3" fill="#8a7494" opacity="0.5"/></g></g><rect x="426.8" y="183.0" width="83.0" height="81.5" filter="url(#mem101)"/><rect x="482.80" y="255.20" width="25.50" height="6.70" fill="#fff"/><line x1="485.30" y1="262.40" x2="505.80" y2="262.40" stroke="#444" stroke-width="0.9"/><text x="495.55" y="260.20" font-size="6" text-anchor="middle" class="n">50 μm</text>
</svg>
</body></html>
